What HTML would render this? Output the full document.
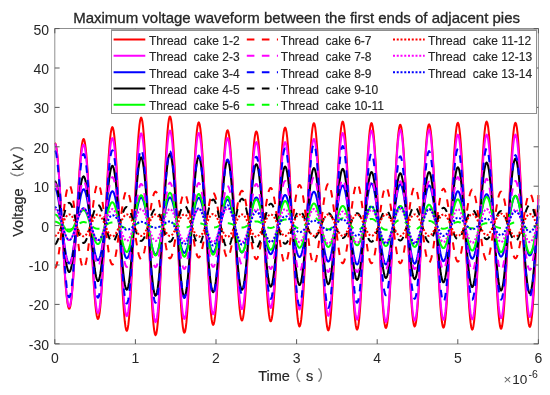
<!DOCTYPE html>
<html><head><meta charset="utf-8"><title>Maximum voltage waveform</title><style>
html,body{margin:0;padding:0;background:#fff;width:550px;height:395px;overflow:hidden}
svg{display:block}
text{font-family:"Liberation Sans","Noto Sans CJK SC",sans-serif;fill:#262626;white-space:pre}
</style></head><body>
<svg width="550" height="395" viewBox="0 0 550 395">
<rect width="550" height="395" fill="#fff"/>
<g fill="none" stroke-linejoin="round">
<path d="M54.80,142.86 L55.50,143.83 L56.20,146.70 L56.90,151.42 L57.60,157.87 L58.30,165.90 L59.00,175.33 L59.70,185.93 L60.40,197.46 L61.10,209.66 L61.80,222.22 L62.50,234.87 L63.20,247.31 L63.90,259.25 L64.60,270.41 L65.30,280.53 L66.00,289.38 L66.70,296.74 L67.40,302.45 L68.10,306.38 L68.80,308.43 L69.19,308.73 L69.50,308.55 L70.20,306.70 L70.90,302.92 L71.60,297.30 L72.30,289.97 L73.00,281.10 L73.70,270.90 L74.40,259.60 L75.10,247.46 L75.80,234.78 L76.50,221.84 L77.20,208.94 L77.90,196.39 L78.60,184.49 L79.30,173.49 L80.00,163.67 L80.70,155.26 L81.40,148.43 L82.10,143.37 L82.80,140.18 L83.50,138.94 L83.59,138.92 L84.20,139.72 L84.90,142.57 L85.60,147.44 L86.30,154.21 L87.00,162.72 L87.70,172.77 L88.40,184.13 L89.10,196.54 L89.80,209.70 L90.50,223.30 L91.20,237.04 L91.90,250.59 L92.60,263.64 L93.30,275.88 L94.00,287.02 L94.70,296.82 L95.40,305.03 L96.10,311.47 L96.80,315.98 L97.50,318.47 L97.98,318.98 L98.20,318.87 L98.90,317.07 L99.60,313.08 L100.30,306.99 L101.00,298.95 L101.70,289.14 L102.40,277.78 L103.10,265.16 L103.80,251.55 L104.50,237.28 L105.20,222.67 L105.90,208.08 L106.60,193.83 L107.30,180.26 L108.00,167.69 L108.70,156.41 L109.40,146.68 L110.10,138.73 L110.80,132.75 L111.50,128.86 L112.20,127.17 L112.38,127.10 L112.90,127.76 L113.60,130.69 L114.30,135.91 L115.00,143.30 L115.70,152.69 L116.40,163.85 L117.10,176.52 L117.80,190.42 L118.50,205.22 L119.20,220.57 L119.90,236.11 L120.60,251.49 L121.30,266.34 L122.00,280.32 L122.70,293.11 L123.40,304.40 L124.10,313.93 L124.80,321.48 L125.50,326.88 L126.20,330.00 L126.78,330.80 L126.90,330.76 L127.60,329.08 L128.30,324.95 L129.00,318.48 L129.70,309.81 L130.40,299.15 L131.10,286.74 L131.80,272.88 L132.50,257.88 L133.20,242.10 L133.90,225.91 L134.60,209.67 L135.30,193.77 L136.00,178.59 L136.70,164.46 L137.40,151.73 L138.10,140.68 L138.80,131.59 L139.50,124.64 L140.20,120.02 L140.90,117.83 L141.17,117.64 L141.60,118.12 L142.30,120.93 L143.00,126.20 L143.70,133.80 L144.40,143.56 L145.10,155.25 L145.80,168.59 L146.50,183.28 L147.20,198.98 L147.90,215.31 L148.60,231.90 L149.30,248.37 L150.00,264.32 L150.70,279.38 L151.40,293.22 L152.10,305.49 L152.80,315.93 L153.50,324.27 L154.20,330.34 L154.90,333.99 L155.56,335.13 L155.60,335.13 L156.30,333.73 L157.00,329.81 L157.70,323.48 L158.40,314.86 L159.10,304.18 L159.80,291.66 L160.50,277.62 L161.20,262.36 L161.90,246.26 L162.60,229.67 L163.30,213.00 L164.00,196.63 L164.70,180.93 L165.40,166.28 L166.10,153.02 L166.80,141.45 L167.50,131.84 L168.20,124.43 L168.90,119.37 L169.60,116.80 L169.96,116.46 L170.30,116.76 L171.00,119.24 L171.70,124.17 L172.40,131.44 L173.10,140.88 L173.80,152.27 L174.50,165.35 L175.20,179.80 L175.90,195.30 L176.60,211.49 L177.30,227.98 L178.00,244.39 L178.70,260.34 L179.40,275.46 L180.10,289.39 L180.80,301.82 L181.50,312.44 L182.20,321.03 L182.90,327.36 L183.60,331.30 L184.30,332.76 L184.35,332.77 L185.00,331.73 L185.70,328.27 L186.40,322.46 L187.10,314.45 L187.80,304.41 L188.50,292.58 L189.20,279.24 L189.90,264.69 L190.60,249.28 L191.30,233.36 L192.00,217.31 L192.70,201.50 L193.40,186.29 L194.10,172.05 L194.80,159.10 L195.50,147.74 L196.20,138.25 L196.90,130.83 L197.60,125.67 L198.30,122.88 L198.75,122.37 L199.00,122.52 L199.70,124.54 L200.40,128.87 L201.10,135.40 L201.80,143.99 L202.50,154.43 L203.20,166.49 L203.90,179.87 L204.60,194.28 L205.30,209.37 L206.00,224.79 L206.70,240.18 L207.40,255.19 L208.10,269.47 L208.80,282.67 L209.50,294.50 L210.20,304.68 L210.90,312.98 L211.60,319.19 L212.30,323.17 L213.00,324.84 L213.15,324.89 L213.70,324.17 L214.40,321.26 L215.10,316.16 L215.80,309.00 L216.50,299.95 L217.20,289.20 L217.90,277.02 L218.60,263.69 L219.30,249.52 L220.00,234.84 L220.70,219.98 L221.40,205.31 L222.10,191.15 L222.80,177.84 L223.50,165.69 L224.20,154.98 L224.90,145.96 L225.60,138.85 L226.30,133.79 L227.00,130.93 L227.54,130.25 L227.70,130.31 L228.40,131.92 L229.10,135.71 L229.80,141.59 L230.50,149.42 L231.20,159.03 L231.90,170.17 L232.60,182.61 L233.30,196.04 L234.00,210.15 L234.70,224.62 L235.40,239.11 L236.10,253.28 L236.80,266.80 L237.50,279.36 L238.20,290.65 L238.90,300.43 L239.60,308.46 L240.30,314.56 L241.00,318.58 L241.70,320.43 L241.94,320.55 L242.40,320.07 L243.10,317.51 L243.80,312.83 L244.50,306.12 L245.20,297.55 L245.90,287.31 L246.60,275.64 L247.30,262.81 L248.00,249.13 L248.70,234.91 L249.40,220.48 L250.10,206.18 L250.80,192.34 L251.50,179.28 L252.20,167.31 L252.90,156.71 L253.60,147.73 L254.30,140.56 L255.00,135.39 L255.70,132.33 L256.33,131.43 L256.40,131.45 L257.10,132.77 L257.80,136.28 L258.50,141.88 L259.20,149.46 L259.90,158.83 L260.60,169.77 L261.30,182.02 L262.00,195.32 L262.70,209.33 L263.40,223.75 L264.10,238.22 L264.80,252.42 L265.50,266.01 L266.20,278.68 L266.90,290.13 L267.60,300.10 L268.30,308.35 L269.00,314.69 L269.70,318.98 L270.40,321.10 L270.73,321.34 L271.10,321.02 L271.80,318.69 L272.50,314.16 L273.20,307.54 L273.90,298.99 L274.60,288.70 L275.30,276.91 L276.00,263.90 L276.70,249.97 L277.40,235.45 L278.10,220.66 L278.80,205.97 L279.50,191.70 L280.20,178.20 L280.90,165.78 L281.60,154.71 L282.30,145.28 L283.00,137.68 L283.70,132.11 L284.40,128.69 L285.10,127.49 L285.12,127.49 L285.80,128.59 L286.50,131.97 L287.20,137.57 L287.90,145.25 L288.60,154.83 L289.30,166.10 L290.00,178.78 L290.70,192.59 L291.40,207.19 L292.10,222.26 L292.80,237.44 L293.50,252.37 L294.20,266.71 L294.90,280.13 L295.60,292.31 L296.30,302.96 L297.00,311.85 L297.70,318.76 L298.40,323.53 L299.10,326.06 L299.51,326.46 L299.80,326.27 L300.50,324.12 L301.20,319.67 L301.90,313.00 L302.60,304.28 L303.30,293.71 L304.00,281.53 L304.70,268.04 L305.40,253.53 L306.10,238.36 L306.80,222.87 L307.50,207.43 L308.20,192.39 L308.90,178.11 L309.60,164.91 L310.30,153.11 L311.00,142.98 L311.70,134.76 L312.40,128.63 L313.10,124.74 L313.80,123.19 L313.91,123.16 L314.50,124.02 L315.20,127.24 L315.90,132.78 L316.60,140.51 L317.30,150.25 L318.00,161.77 L318.70,174.81 L319.40,189.05 L320.10,204.18 L320.80,219.83 L321.50,235.65 L322.20,251.26 L322.90,266.29 L323.60,280.41 L324.30,293.28 L325.00,304.60 L325.70,314.10 L326.40,321.58 L327.10,326.84 L327.80,329.78 L328.31,330.40 L328.50,330.31 L329.20,328.42 L329.90,324.14 L330.60,317.58 L331.30,308.88 L332.00,298.26 L332.70,285.95 L333.40,272.24 L334.10,257.46 L334.80,241.94 L335.50,226.05 L336.20,210.16 L336.90,194.64 L337.60,179.85 L338.30,166.14 L339.00,153.81 L339.70,143.17 L340.40,134.46 L341.10,127.89 L341.80,123.59 L342.50,121.68 L342.70,121.58 L343.20,122.20 L343.90,125.13 L344.60,130.40 L345.30,137.88 L346.00,147.41 L346.70,158.76 L347.40,171.67 L348.10,185.83 L348.80,200.92 L349.50,216.59 L350.20,232.46 L350.90,248.18 L351.60,263.36 L352.30,277.67 L353.00,290.77 L353.70,302.35 L354.40,312.14 L355.10,319.91 L355.80,325.49 L356.50,328.74 L357.10,329.62 L357.20,329.59 L357.90,328.03 L358.60,324.10 L359.30,317.89 L360.00,309.56 L360.70,299.28 L361.40,287.31 L362.10,273.92 L362.80,259.42 L363.50,244.15 L364.20,228.47 L364.90,212.74 L365.60,197.33 L366.30,182.59 L367.00,168.88 L367.70,156.50 L368.40,145.76 L369.10,136.89 L369.80,130.10 L370.50,125.56 L371.20,123.37 L371.49,123.16 L371.90,123.57 L372.60,126.15 L373.30,131.05 L374.00,138.15 L374.70,147.29 L375.40,158.25 L376.10,170.78 L376.80,184.59 L377.50,199.35 L378.20,214.72 L378.90,230.35 L379.60,245.87 L380.30,260.91 L381.00,275.13 L381.70,288.20 L382.40,299.81 L383.10,309.69 L383.80,317.62 L384.50,323.40 L385.20,326.90 L385.88,328.04 L385.90,328.04 L386.60,326.80 L387.30,323.23 L388.00,317.40 L388.70,309.45 L389.40,299.57 L390.10,287.98 L390.80,274.96 L391.50,260.80 L392.20,245.85 L392.90,230.44 L393.60,214.93 L394.30,199.69 L395.00,185.08 L395.70,171.43 L396.40,159.05 L397.10,148.25 L397.80,139.27 L398.50,132.31 L399.20,127.55 L399.90,125.09 L400.28,124.74 L400.60,124.98 L401.30,127.22 L402.00,131.76 L402.70,138.48 L403.40,147.23 L404.10,157.80 L404.80,169.96 L405.50,183.41 L406.20,197.84 L406.90,212.92 L407.60,228.30 L408.30,243.61 L409.00,258.50 L409.70,272.63 L410.40,285.66 L411.10,297.29 L411.80,307.25 L412.50,315.31 L413.20,321.28 L413.90,325.02 L414.60,326.45 L414.68,326.46 L415.30,325.53 L416.00,322.27 L416.70,316.75 L417.40,309.11 L418.10,299.52 L418.80,288.20 L419.50,275.42 L420.20,261.48 L420.90,246.69 L421.60,231.41 L422.30,215.99 L423.00,200.79 L423.70,186.16 L424.40,172.44 L425.10,159.96 L425.80,149.00 L426.50,139.83 L427.20,132.64 L427.90,127.62 L428.60,124.87 L429.07,124.34 L429.30,124.47 L430.00,126.43 L430.70,130.71 L431.40,137.20 L432.10,145.77 L432.80,156.20 L433.50,168.26 L434.20,181.67 L434.90,196.10 L435.60,211.24 L436.30,226.71 L437.00,242.18 L437.70,257.26 L438.40,271.61 L439.10,284.91 L439.80,296.83 L440.50,307.10 L441.20,315.48 L441.90,321.77 L442.60,325.84 L443.30,327.58 L443.46,327.65 L444.00,326.95 L444.70,323.95 L445.40,318.65 L446.10,311.17 L446.80,301.69 L447.50,290.43 L448.20,277.65 L448.90,263.65 L449.60,248.75 L450.30,233.30 L451.00,217.67 L451.70,202.21 L452.40,187.29 L453.10,173.25 L453.80,160.42 L454.50,149.10 L455.20,139.55 L455.90,132.00 L456.60,126.61 L457.30,123.53 L457.86,122.77 L458.00,122.81 L458.70,124.50 L459.40,128.55 L460.10,134.88 L460.80,143.34 L461.50,153.72 L462.20,165.79 L462.90,179.27 L463.60,193.84 L464.30,209.17 L465.00,224.89 L465.70,240.65 L466.40,256.06 L467.10,270.78 L467.80,284.46 L468.50,296.79 L469.20,307.47 L469.90,316.25 L470.60,322.94 L471.30,327.38 L472.00,329.46 L472.25,329.62 L472.70,329.13 L473.40,326.39 L474.10,321.30 L474.80,313.98 L475.50,304.60 L476.20,293.39 L476.90,280.59 L477.60,266.52 L478.30,251.49 L479.00,235.86 L479.70,219.98 L480.40,204.24 L481.10,189.00 L481.80,174.61 L482.50,161.41 L483.20,149.70 L483.90,139.76 L484.60,131.82 L485.30,126.07 L486.00,122.63 L486.65,121.58 L486.70,121.59 L487.40,122.97 L488.10,126.73 L488.80,132.78 L489.50,140.99 L490.20,151.16 L490.90,163.05 L491.60,176.39 L492.30,190.87 L493.00,206.15 L493.70,221.87 L494.40,237.67 L495.10,253.18 L495.80,268.04 L496.50,281.90 L497.20,294.44 L497.90,305.36 L498.60,314.42 L499.30,321.40 L500.00,326.14 L500.70,328.53 L501.05,328.83 L501.40,328.52 L502.10,326.11 L502.80,321.36 L503.50,314.39 L504.20,305.35 L504.90,294.46 L505.60,281.98 L506.30,268.18 L507.00,253.39 L507.70,237.97 L508.40,222.26 L509.10,206.63 L509.80,191.45 L510.50,177.06 L511.20,163.82 L511.90,152.01 L512.60,141.93 L513.30,133.80 L514.00,127.81 L514.70,124.11 L515.40,122.77 L515.44,122.77 L516.10,123.82 L516.80,127.23 L517.50,132.91 L518.20,140.73 L518.90,150.50 L519.60,162.01 L520.30,174.98 L521.00,189.12 L521.70,204.08 L522.40,219.53 L523.10,235.09 L523.80,250.42 L524.50,265.16 L525.20,278.95 L525.90,291.48 L526.60,302.46 L527.30,311.64 L528.00,318.78 L528.70,323.74 L529.40,326.40 L529.84,326.86 L530.10,326.69 L530.80,324.61 L531.50,320.21 L532.20,313.59 L532.90,304.91 L533.60,294.37 L534.30,282.21 L535.00,268.72 L535.70,254.21 L536.40,239.02 L537.10,223.51 L537.80,208.03 L538.40,195.06" stroke="#ff0000" stroke-width="2.0"/>
<path d="M54.80,143.65 L55.50,144.60 L56.20,147.43 L56.90,152.06 L57.60,158.41 L58.30,166.31 L59.00,175.58 L59.70,186.00 L60.40,197.34 L61.10,209.33 L61.80,221.69 L62.50,234.13 L63.20,246.36 L63.90,258.10 L64.60,269.08 L65.30,279.03 L66.00,287.73 L66.70,294.97 L67.40,300.59 L68.10,304.45 L68.80,306.46 L69.19,306.76 L69.50,306.58 L70.20,304.82 L70.90,301.21 L71.60,295.84 L72.30,288.83 L73.00,280.35 L73.70,270.60 L74.40,259.79 L75.10,248.19 L75.80,236.07 L76.50,223.70 L77.20,211.37 L77.90,199.38 L78.60,187.99 L79.30,177.49 L80.00,168.10 L80.70,160.05 L81.40,153.53 L82.10,148.69 L82.80,145.64 L83.50,144.45 L83.59,144.44 L84.20,145.18 L84.90,147.86 L85.60,152.42 L86.30,158.76 L87.00,166.73 L87.70,176.14 L88.40,186.78 L89.10,198.40 L89.80,210.72 L90.50,223.47 L91.20,236.33 L91.90,249.02 L92.60,261.24 L93.30,272.70 L94.00,283.14 L94.70,292.31 L95.40,300.00 L96.10,306.03 L96.80,310.26 L97.50,312.60 L97.98,313.07 L98.20,312.97 L98.90,311.33 L99.60,307.69 L100.30,302.14 L101.00,294.81 L101.70,285.86 L102.40,275.51 L103.10,264.00 L103.80,251.59 L104.50,238.58 L105.20,225.27 L105.90,211.96 L106.60,198.97 L107.30,186.60 L108.00,175.14 L108.70,164.86 L109.40,155.99 L110.10,148.74 L110.80,143.28 L111.50,139.74 L112.20,138.20 L112.38,138.13 L112.90,138.70 L113.60,141.27 L114.30,145.84 L115.00,152.30 L115.70,160.50 L116.40,170.26 L117.10,181.34 L117.80,193.49 L118.50,206.43 L119.20,219.85 L119.90,233.44 L120.60,246.88 L121.30,259.87 L122.00,272.09 L122.70,283.27 L123.40,293.14 L124.10,301.47 L124.80,308.08 L125.50,312.79 L126.20,315.52 L126.78,316.22 L126.90,316.19 L127.60,314.74 L128.30,311.20 L129.00,305.65 L129.70,298.22 L130.40,289.08 L131.10,278.44 L131.80,266.55 L132.50,253.68 L133.20,240.15 L133.90,226.26 L134.60,212.33 L135.30,198.70 L136.00,185.67 L136.70,173.56 L137.40,162.64 L138.10,153.16 L138.80,145.36 L139.50,139.41 L140.20,135.44 L140.90,133.56 L141.17,133.40 L141.60,133.82 L142.30,136.26 L143.00,140.83 L143.70,147.43 L144.40,155.89 L145.10,166.04 L145.80,177.62 L146.50,190.36 L147.20,203.98 L147.90,218.16 L148.60,232.55 L149.30,246.84 L150.00,260.68 L150.70,273.75 L151.40,285.76 L152.10,296.41 L152.80,305.46 L153.50,312.71 L154.20,317.97 L154.90,321.14 L155.56,322.13 L155.60,322.13 L156.30,320.90 L157.00,317.47 L157.70,311.92 L158.40,304.38 L159.10,295.02 L159.80,284.07 L160.50,271.77 L161.20,258.41 L161.90,244.30 L162.60,229.78 L163.30,215.18 L164.00,200.84 L164.70,187.10 L165.40,174.27 L166.10,162.66 L166.80,152.53 L167.50,144.12 L168.20,137.62 L168.90,133.20 L169.60,130.94 L169.96,130.65 L170.30,130.91 L171.00,133.06 L171.70,137.35 L172.40,143.68 L173.10,151.90 L173.80,161.82 L174.50,173.21 L175.20,185.80 L175.90,199.29 L176.60,213.38 L177.30,227.74 L178.00,242.03 L178.70,255.92 L179.40,269.08 L180.10,281.21 L180.80,292.03 L181.50,301.28 L182.20,308.75 L182.90,314.27 L183.60,317.70 L184.30,318.97 L184.35,318.98 L185.00,318.06 L185.70,315.00 L186.40,309.87 L187.10,302.79 L187.80,293.91 L188.50,283.46 L189.20,271.66 L189.90,258.81 L190.60,245.18 L191.30,231.12 L192.00,216.93 L192.70,202.95 L193.40,189.51 L194.10,176.92 L194.80,165.47 L195.50,155.44 L196.20,147.04 L196.90,140.49 L197.60,135.92 L198.30,133.46 L198.75,133.01 L199.00,133.14 L199.70,134.95 L200.40,138.82 L201.10,144.67 L201.80,152.36 L202.50,161.70 L203.20,172.49 L203.90,184.47 L204.60,197.36 L205.30,210.87 L206.00,224.67 L206.70,238.45 L207.40,251.88 L208.10,264.65 L208.80,276.47 L209.50,287.06 L210.20,296.17 L210.90,303.59 L211.60,309.15 L212.30,312.71 L213.00,314.20 L213.15,314.25 L213.70,313.60 L214.40,310.97 L215.10,306.36 L215.80,299.88 L216.50,291.68 L217.20,281.96 L217.90,270.94 L218.60,258.88 L219.30,246.05 L220.00,232.77 L220.70,219.33 L221.40,206.05 L222.10,193.24 L222.80,181.19 L223.50,170.20 L224.20,160.51 L224.90,152.35 L225.60,145.91 L226.30,141.34 L227.00,138.74 L227.54,138.13 L227.70,138.18 L228.40,139.63 L229.10,143.04 L229.80,148.32 L230.50,155.36 L231.20,163.99 L231.90,174.00 L232.60,185.18 L233.30,197.25 L234.00,209.93 L234.70,222.93 L235.40,235.95 L236.10,248.68 L236.80,260.83 L237.50,272.11 L238.20,282.26 L238.90,291.05 L239.60,298.26 L240.30,303.74 L241.00,307.35 L241.70,309.02 L241.94,309.13 L242.40,308.70 L243.10,306.44 L243.80,302.30 L244.50,296.38 L245.20,288.80 L245.90,279.76 L246.60,269.45 L247.30,258.12 L248.00,246.04 L248.70,233.47 L249.40,220.73 L250.10,208.09 L250.80,195.87 L251.50,184.34 L252.20,173.77 L252.90,164.40 L253.60,156.46 L254.30,150.14 L255.00,145.57 L255.70,142.86 L256.33,142.07 L256.40,142.08 L257.10,143.24 L257.80,146.30 L258.50,151.20 L259.20,157.82 L259.90,166.00 L260.60,175.55 L261.30,186.26 L262.00,197.87 L262.70,210.11 L263.40,222.70 L264.10,235.34 L264.80,247.75 L265.50,259.62 L266.20,270.69 L266.90,280.69 L267.60,289.39 L268.30,296.60 L269.00,302.14 L269.70,305.88 L270.40,307.74 L270.73,307.95 L271.10,307.67 L271.80,305.67 L272.50,301.80 L273.20,296.14 L273.90,288.82 L274.60,280.01 L275.30,269.93 L276.00,258.79 L276.70,246.88 L277.40,234.45 L278.10,221.80 L278.80,209.22 L279.50,197.02 L280.20,185.46 L280.90,174.83 L281.60,165.36 L282.30,157.29 L283.00,150.79 L283.70,146.02 L284.40,143.09 L285.10,142.07 L285.12,142.07 L285.80,142.99 L286.50,145.84 L287.20,150.55 L287.90,157.01 L288.60,165.08 L289.30,174.56 L290.00,185.23 L290.70,196.85 L291.40,209.14 L292.10,221.82 L292.80,234.60 L293.50,247.16 L294.20,259.24 L294.90,270.53 L295.60,280.78 L296.30,289.74 L297.00,297.22 L297.70,303.04 L298.40,307.06 L299.10,309.18 L299.51,309.52 L299.80,309.36 L300.50,307.56 L301.20,303.82 L301.90,298.23 L302.60,290.91 L303.30,282.04 L304.00,271.82 L304.70,260.49 L305.40,248.32 L306.10,235.59 L306.80,222.59 L307.50,209.63 L308.20,197.01 L308.90,185.03 L309.60,173.95 L310.30,164.05 L311.00,155.55 L311.70,148.65 L312.40,143.51 L313.10,140.25 L313.80,138.94 L313.91,138.92 L314.50,139.65 L315.20,142.40 L315.90,147.13 L316.60,153.73 L317.30,162.04 L318.00,171.88 L318.70,183.01 L319.40,195.17 L320.10,208.08 L320.80,221.44 L321.50,234.94 L322.20,248.26 L322.90,261.10 L323.60,273.15 L324.30,284.13 L325.00,293.80 L325.70,301.91 L326.40,308.29 L327.10,312.78 L327.80,315.29 L328.31,315.83 L328.50,315.74 L329.20,314.09 L329.90,310.34 L330.60,304.60 L331.30,296.98 L332.00,287.68 L332.70,276.90 L333.40,264.90 L334.10,251.96 L334.80,238.38 L335.50,224.47 L336.20,210.56 L336.90,196.97 L337.60,184.02 L338.30,172.01 L339.00,161.23 L339.70,151.91 L340.40,144.29 L341.10,138.53 L341.80,134.77 L342.50,133.10 L342.70,133.01 L343.20,133.57 L343.90,136.19 L344.60,140.92 L345.30,147.64 L346.00,156.20 L346.70,166.39 L347.40,177.97 L348.10,190.69 L348.80,204.24 L349.50,218.30 L350.20,232.55 L350.90,246.66 L351.60,260.29 L352.30,273.14 L353.00,284.89 L353.70,295.29 L354.40,304.07 L355.10,311.05 L355.80,316.06 L356.50,318.98 L357.10,319.77 L357.20,319.74 L357.90,318.31 L358.60,314.71 L359.30,309.03 L360.00,301.39 L360.70,291.98 L361.40,281.01 L362.10,268.75 L362.80,255.46 L363.50,241.48 L364.20,227.11 L364.90,212.71 L365.60,198.59 L366.30,185.09 L367.00,172.53 L367.70,161.19 L368.40,151.34 L369.10,143.22 L369.80,137.01 L370.50,132.84 L371.20,130.84 L371.49,130.65 L371.90,131.03 L372.60,133.44 L373.30,138.02 L374.00,144.66 L374.70,153.19 L375.40,163.44 L376.10,175.15 L376.80,188.05 L377.50,201.85 L378.20,216.22 L378.90,230.83 L379.60,245.33 L380.30,259.39 L381.00,272.68 L381.70,284.90 L382.40,295.75 L383.10,304.98 L383.80,312.39 L384.50,317.79 L385.20,321.06 L385.88,322.13 L385.90,322.13 L386.60,320.96 L387.30,317.58 L388.00,312.07 L388.70,304.55 L389.40,295.20 L390.10,284.24 L390.80,271.93 L391.50,258.54 L392.20,244.40 L392.90,229.82 L393.60,215.16 L394.30,200.75 L395.00,186.93 L395.70,174.01 L396.40,162.31 L397.10,152.10 L397.80,143.60 L398.50,137.02 L399.20,132.52 L399.90,130.19 L400.28,129.86 L400.60,130.09 L401.30,132.21 L402.00,136.50 L402.70,142.85 L403.40,151.12 L404.10,161.12 L404.80,172.61 L405.50,185.32 L406.20,198.97 L406.90,213.22 L407.60,227.75 L408.30,242.23 L409.00,256.31 L409.70,269.66 L410.40,281.98 L411.10,292.98 L411.80,302.39 L412.50,310.01 L413.20,315.66 L413.90,319.19 L414.60,320.54 L414.68,320.55 L415.30,319.67 L416.00,316.60 L416.70,311.39 L417.40,304.18 L418.10,295.13 L418.80,284.46 L419.50,272.40 L420.20,259.24 L420.90,245.29 L421.60,230.87 L422.30,216.32 L423.00,201.98 L423.70,188.18 L424.40,175.24 L425.10,163.46 L425.80,153.13 L426.50,144.47 L427.20,137.69 L427.90,132.95 L428.60,130.36 L429.07,129.86 L429.30,129.98 L430.00,131.81 L430.70,135.80 L431.40,141.87 L432.10,149.87 L432.80,159.62 L433.50,170.89 L434.20,183.41 L434.90,196.89 L435.60,211.03 L436.30,225.49 L437.00,239.93 L437.70,254.02 L438.40,267.43 L439.10,279.84 L439.80,290.98 L440.50,300.57 L441.20,308.40 L441.90,314.28 L442.60,318.08 L443.30,319.70 L443.46,319.77 L444.00,319.14 L444.70,316.42 L445.40,311.63 L446.10,304.87 L446.80,296.31 L447.50,286.13 L448.20,274.57 L448.90,261.92 L449.60,248.45 L450.30,234.49 L451.00,220.36 L451.70,206.39 L452.40,192.90 L453.10,180.21 L453.80,168.62 L454.50,158.38 L455.20,149.75 L455.90,142.93 L456.60,138.06 L457.30,135.28 L457.86,134.59 L458.00,134.63 L458.70,136.13 L459.40,139.76 L460.10,145.41 L460.80,152.96 L461.50,162.24 L462.20,173.02 L462.90,185.06 L463.60,198.08 L464.30,211.77 L465.00,225.82 L465.70,239.89 L466.40,253.66 L467.10,266.81 L467.80,279.04 L468.50,290.05 L469.20,299.59 L469.90,307.44 L470.60,313.41 L471.30,317.37 L472.00,319.23 L472.25,319.37 L472.70,318.94 L473.40,316.50 L474.10,311.98 L474.80,305.48 L475.50,297.15 L476.20,287.19 L476.90,275.83 L477.60,263.32 L478.30,249.97 L479.00,236.09 L479.70,221.99 L480.40,208.01 L481.10,194.47 L481.80,181.69 L482.50,169.96 L483.20,159.56 L483.90,150.73 L484.60,143.68 L485.30,138.57 L486.00,135.51 L486.65,134.59 L486.70,134.59 L487.40,135.81 L488.10,139.14 L488.80,144.51 L489.50,151.78 L490.20,160.79 L490.90,171.32 L491.60,183.14 L492.30,195.97 L493.00,209.50 L493.70,223.43 L494.40,237.43 L495.10,251.17 L495.80,264.33 L496.50,276.61 L497.20,287.72 L497.90,297.40 L498.60,305.43 L499.30,311.61 L500.00,315.81 L500.70,317.93 L501.05,318.19 L501.40,317.91 L502.10,315.77 L502.80,311.54 L503.50,305.33 L504.20,297.27 L504.90,287.57 L505.60,276.44 L506.30,264.15 L507.00,250.98 L507.70,237.23 L508.40,223.23 L509.10,209.31 L509.80,195.78 L510.50,182.97 L511.20,171.16 L511.90,160.65 L512.60,151.66 L513.30,144.42 L514.00,139.08 L514.70,135.78 L515.40,134.59 L515.44,134.59 L516.10,135.53 L516.80,138.57 L517.50,143.65 L518.20,150.64 L518.90,159.38 L519.60,169.66 L520.30,181.26 L521.00,193.89 L521.70,207.26 L522.40,221.07 L523.10,234.99 L523.80,248.69 L524.50,261.86 L525.20,274.19 L525.90,285.39 L526.60,295.20 L527.30,303.40 L528.00,309.79 L528.70,314.22 L529.40,316.60 L529.84,317.01 L530.10,316.86 L530.80,314.99 L531.50,311.05 L532.20,305.13 L532.90,297.35 L533.60,287.91 L534.30,277.02 L535.00,264.94 L535.70,251.95 L536.40,238.35 L537.10,224.45 L537.80,210.59 L538.40,198.98" stroke="#ff00ff" stroke-width="2.0"/>
<path d="M54.80,188.37 L55.50,188.80 L56.20,190.11 L56.90,192.24 L57.60,195.16 L58.30,198.79 L59.00,203.06 L59.70,207.86 L60.40,213.07 L61.10,218.59 L61.80,224.28 L62.50,230.00 L63.20,235.63 L63.90,241.03 L64.60,246.08 L65.30,250.66 L66.00,254.66 L66.70,258.00 L67.40,260.58 L68.10,262.36 L68.80,263.28 L69.19,263.42 L69.50,263.34 L70.20,262.53 L70.90,260.88 L71.60,258.43 L72.30,255.22 L73.00,251.35 L73.70,246.88 L74.40,241.94 L75.10,236.64 L75.80,231.10 L76.50,225.44 L77.20,219.80 L77.90,214.32 L78.60,209.11 L79.30,204.31 L80.00,200.02 L80.70,196.34 L81.40,193.35 L82.10,191.14 L82.80,189.74 L83.50,189.20 L83.59,189.19 L84.20,189.51 L84.90,190.64 L85.60,192.56 L86.30,195.23 L87.00,198.59 L87.70,202.56 L88.40,207.04 L89.10,211.94 L89.80,217.13 L90.50,222.50 L91.20,227.93 L91.90,233.28 L92.60,238.43 L93.30,243.26 L94.00,247.66 L94.70,251.52 L95.40,254.76 L96.10,257.31 L96.80,259.09 L97.50,260.07 L97.98,260.27 L98.20,260.23 L98.90,259.59 L99.60,258.15 L100.30,255.96 L101.00,253.07 L101.70,249.54 L102.40,245.45 L103.10,240.91 L103.80,236.01 L104.50,230.88 L105.20,225.63 L105.90,220.38 L106.60,215.25 L107.30,210.37 L108.00,205.85 L108.70,201.79 L109.40,198.29 L110.10,195.43 L110.80,193.27 L111.50,191.88 L112.20,191.27 L112.38,191.24 L112.90,191.46 L113.60,192.42 L114.30,194.14 L115.00,196.58 L115.70,199.67 L116.40,203.34 L117.10,207.51 L117.80,212.09 L118.50,216.96 L119.20,222.01 L119.90,227.13 L120.60,232.19 L121.30,237.08 L122.00,241.68 L122.70,245.89 L123.40,249.61 L124.10,252.75 L124.80,255.24 L125.50,257.01 L126.20,258.04 L126.78,258.30 L126.90,258.29 L127.60,257.81 L128.30,256.63 L129.00,254.79 L129.70,252.31 L130.40,249.27 L131.10,245.73 L131.80,241.77 L132.50,237.49 L133.20,232.99 L133.90,228.37 L134.60,223.73 L135.30,219.20 L136.00,214.86 L136.70,210.83 L137.40,207.20 L138.10,204.04 L138.80,201.45 L139.50,199.47 L140.20,198.15 L140.90,197.52 L141.17,197.47 L141.60,197.59 L142.30,198.33 L143.00,199.71 L143.70,201.71 L144.40,204.27 L145.10,207.34 L145.80,210.84 L146.50,214.70 L147.20,218.82 L147.90,223.11 L148.60,227.46 L149.30,231.78 L150.00,235.97 L150.70,239.93 L151.40,243.56 L152.10,246.78 L152.80,249.52 L153.50,251.71 L154.20,253.30 L154.90,254.26 L155.56,254.56 L155.60,254.56 L156.30,254.19 L157.00,253.17 L157.70,251.52 L158.40,249.27 L159.10,246.48 L159.80,243.21 L160.50,239.54 L161.20,235.56 L161.90,231.36 L162.60,227.03 L163.30,222.67 L164.00,218.40 L164.70,214.30 L165.40,210.48 L166.10,207.01 L166.80,203.99 L167.50,201.48 L168.20,199.55 L168.90,198.23 L169.60,197.56 L169.96,197.47 L170.30,197.54 L171.00,198.18 L171.70,199.44 L172.40,201.31 L173.10,203.73 L173.80,206.65 L174.50,210.00 L175.20,213.70 L175.90,217.67 L176.60,221.82 L177.30,226.05 L178.00,230.25 L178.70,234.34 L179.40,238.22 L180.10,241.79 L180.80,244.97 L181.50,247.70 L182.20,249.89 L182.90,251.52 L183.60,252.53 L184.30,252.90 L184.35,252.90 L185.00,252.63 L185.70,251.73 L186.40,250.21 L187.10,248.11 L187.80,245.49 L188.50,242.39 L189.20,238.90 L189.90,235.09 L190.60,231.06 L191.30,226.90 L192.00,222.70 L192.70,218.56 L193.40,214.59 L194.10,210.86 L194.80,207.47 L195.50,204.50 L196.20,202.02 L196.90,200.08 L197.60,198.72 L198.30,198.00 L198.75,197.86 L199.00,197.90 L199.70,198.44 L200.40,199.60 L201.10,201.35 L201.80,203.65 L202.50,206.44 L203.20,209.67 L203.90,213.26 L204.60,217.11 L205.30,221.15 L206.00,225.28 L206.70,229.40 L207.40,233.42 L208.10,237.24 L208.80,240.78 L209.50,243.94 L210.20,246.67 L210.90,248.89 L211.60,250.55 L212.30,251.62 L213.00,252.06 L213.15,252.08 L213.70,251.88 L214.40,251.10 L215.10,249.72 L215.80,247.79 L216.50,245.34 L217.20,242.44 L217.90,239.15 L218.60,235.55 L219.30,231.72 L220.00,227.76 L220.70,223.75 L221.40,219.79 L222.10,215.96 L222.80,212.37 L223.50,209.09 L224.20,206.20 L224.90,203.76 L225.60,201.84 L226.30,200.47 L227.00,199.70 L227.54,199.52 L227.70,199.53 L228.40,199.98 L229.10,201.04 L229.80,202.68 L230.50,204.86 L231.20,207.53 L231.90,210.63 L232.60,214.10 L233.30,217.84 L234.00,221.77 L234.70,225.80 L235.40,229.83 L236.10,233.78 L236.80,237.54 L237.50,241.04 L238.20,244.18 L238.90,246.91 L239.60,249.14 L240.30,250.84 L241.00,251.96 L241.70,252.48 L241.94,252.51 L242.40,252.37 L243.10,251.63 L243.80,250.26 L244.50,248.31 L245.20,245.81 L245.90,242.83 L246.60,239.44 L247.30,235.70 L248.00,231.72 L248.70,227.58 L249.40,223.38 L250.10,219.22 L250.80,215.19 L251.50,211.39 L252.20,207.91 L252.90,204.83 L253.60,202.21 L254.30,200.13 L255.00,198.62 L255.70,197.73 L256.33,197.47 L256.40,197.47 L257.10,197.87 L257.80,198.91 L258.50,200.59 L259.20,202.85 L259.90,205.65 L260.60,208.91 L261.30,212.57 L262.00,216.54 L262.70,220.72 L263.40,225.03 L264.10,229.35 L264.80,233.59 L265.50,237.65 L266.20,241.43 L266.90,244.85 L267.60,247.82 L268.30,250.29 L269.00,252.18 L269.70,253.46 L270.40,254.09 L270.73,254.16 L271.10,254.07 L271.80,253.35 L272.50,251.97 L273.20,249.95 L273.90,247.34 L274.60,244.20 L275.30,240.60 L276.00,236.63 L276.70,232.38 L277.40,227.94 L278.10,223.43 L278.80,218.94 L279.50,214.59 L280.20,210.47 L280.90,206.67 L281.60,203.30 L282.30,200.42 L283.00,198.10 L283.70,196.40 L284.40,195.35 L285.10,194.99 L285.12,194.99 L285.80,195.33 L286.50,196.38 L287.20,198.13 L287.90,200.52 L288.60,203.51 L289.30,207.03 L290.00,210.98 L290.70,215.29 L291.40,219.84 L292.10,224.54 L292.80,229.27 L293.50,233.93 L294.20,238.41 L294.90,242.59 L295.60,246.39 L296.30,249.71 L297.00,252.48 L297.70,254.64 L298.40,256.13 L299.10,256.91 L299.51,257.04 L299.80,256.98 L300.50,256.29 L301.20,254.86 L301.90,252.71 L302.60,249.91 L303.30,246.51 L304.00,242.60 L304.70,238.26 L305.40,233.59 L306.10,228.71 L306.80,223.73 L307.50,218.77 L308.20,213.93 L308.90,209.34 L309.60,205.10 L310.30,201.31 L311.00,198.05 L311.70,195.40 L312.40,193.44 L313.10,192.19 L313.80,191.69 L313.91,191.68 L314.50,191.97 L315.20,193.05 L315.90,194.92 L316.60,197.53 L317.30,200.81 L318.00,204.70 L318.70,209.10 L319.40,213.90 L320.10,219.00 L320.80,224.28 L321.50,229.61 L322.20,234.88 L322.90,239.95 L323.60,244.71 L324.30,249.05 L325.00,252.87 L325.70,256.07 L326.40,258.60 L327.10,260.37 L327.80,261.36 L328.31,261.57 L328.50,261.54 L329.20,260.85 L329.90,259.29 L330.60,256.90 L331.30,253.73 L332.00,249.85 L332.70,245.37 L333.40,240.37 L334.10,234.98 L334.80,229.32 L335.50,223.53 L336.20,217.74 L336.90,212.08 L337.60,206.69 L338.30,201.69 L339.00,197.20 L339.70,193.32 L340.40,190.15 L341.10,187.75 L341.80,186.18 L342.50,185.49 L342.70,185.45 L343.20,185.69 L343.90,186.80 L344.60,188.80 L345.30,191.64 L346.00,195.26 L346.70,199.58 L347.40,204.48 L348.10,209.86 L348.80,215.59 L349.50,221.55 L350.20,227.58 L350.90,233.55 L351.60,239.32 L352.30,244.75 L353.00,249.73 L353.70,254.13 L354.40,257.85 L355.10,260.80 L355.80,262.92 L356.50,264.16 L357.10,264.49 L357.20,264.48 L357.90,263.86 L358.60,262.32 L359.30,259.88 L360.00,256.61 L360.70,252.57 L361.40,247.87 L362.10,242.61 L362.80,236.92 L363.50,230.92 L364.20,224.76 L364.90,218.59 L365.60,212.53 L366.30,206.75 L367.00,201.36 L367.70,196.50 L368.40,192.28 L369.10,188.79 L369.80,186.13 L370.50,184.35 L371.20,183.48 L371.49,183.40 L371.90,183.56 L372.60,184.59 L373.30,186.52 L374.00,189.33 L374.70,192.95 L375.40,197.29 L376.10,202.25 L376.80,207.71 L377.50,213.56 L378.20,219.64 L378.90,225.82 L379.60,231.97 L380.30,237.92 L381.00,243.55 L381.70,248.72 L382.40,253.32 L383.10,257.23 L383.80,260.36 L384.50,262.65 L385.20,264.04 L385.88,264.49 L385.90,264.49 L386.60,264.00 L387.30,262.59 L388.00,260.29 L388.70,257.15 L389.40,253.25 L390.10,248.67 L390.80,243.53 L391.50,237.94 L392.20,232.04 L392.90,225.96 L393.60,219.84 L394.30,213.82 L395.00,208.05 L395.70,202.66 L396.40,197.78 L397.10,193.51 L397.80,189.97 L398.50,187.22 L399.20,185.34 L399.90,184.37 L400.28,184.23 L400.60,184.33 L401.30,185.21 L402.00,187.00 L402.70,189.64 L403.40,193.09 L404.10,197.25 L404.80,202.04 L405.50,207.33 L406.20,213.02 L406.90,218.95 L407.60,225.01 L408.30,231.04 L409.00,236.90 L409.70,242.46 L410.40,247.59 L411.10,252.17 L411.80,256.10 L412.50,259.27 L413.20,261.62 L413.90,263.09 L414.60,263.66 L414.68,263.66 L415.30,263.30 L416.00,262.04 L416.70,259.90 L417.40,256.95 L418.10,253.24 L418.80,248.86 L419.50,243.91 L420.20,238.51 L420.90,232.79 L421.60,226.88 L422.30,220.91 L423.00,215.03 L423.70,209.37 L424.40,204.06 L425.10,199.23 L425.80,194.99 L426.50,191.44 L427.20,188.66 L427.90,186.72 L428.60,185.66 L429.07,185.45 L429.30,185.50 L430.00,186.23 L430.70,187.82 L431.40,190.24 L432.10,193.43 L432.80,197.32 L433.50,201.81 L434.20,206.80 L434.90,212.18 L435.60,217.82 L436.30,223.58 L437.00,229.34 L437.70,234.96 L438.40,240.31 L439.10,245.26 L439.80,249.70 L440.50,253.52 L441.20,256.65 L441.90,258.99 L442.60,260.51 L443.30,261.15 L443.46,261.18 L444.00,260.94 L444.70,259.92 L445.40,258.11 L446.10,255.55 L446.80,252.32 L447.50,248.47 L448.20,244.11 L448.90,239.33 L449.60,234.25 L450.30,228.97 L451.00,223.64 L451.70,218.36 L452.40,213.27 L453.10,208.47 L453.80,204.09 L454.50,200.23 L455.20,196.97 L455.90,194.39 L456.60,192.56 L457.30,191.50 L457.86,191.24 L458.00,191.26 L458.70,191.81 L459.40,193.13 L460.10,195.19 L460.80,197.95 L461.50,201.34 L462.20,205.27 L462.90,209.67 L463.60,214.42 L464.30,219.42 L465.00,224.55 L465.70,229.68 L466.40,234.71 L467.10,239.51 L467.80,243.97 L468.50,247.99 L469.20,251.47 L469.90,254.34 L470.60,256.52 L471.30,257.97 L472.00,258.64 L472.25,258.70 L472.70,258.54 L473.40,257.69 L474.10,256.12 L474.80,253.85 L475.50,250.94 L476.20,247.46 L476.90,243.49 L477.60,239.12 L478.30,234.46 L479.00,229.61 L479.70,224.69 L480.40,219.80 L481.10,215.07 L481.80,210.61 L482.50,206.51 L483.20,202.88 L483.90,199.80 L484.60,197.33 L485.30,195.55 L486.00,194.48 L486.65,194.16 L486.70,194.16 L487.40,194.58 L488.10,195.71 L488.80,197.54 L489.50,200.01 L490.20,203.08 L490.90,206.66 L491.60,210.68 L492.30,215.05 L493.00,219.66 L493.70,224.40 L494.40,229.16 L495.10,233.84 L495.80,238.32 L496.50,242.50 L497.20,246.28 L497.90,249.57 L498.60,252.30 L499.30,254.41 L500.00,255.84 L500.70,256.56 L501.05,256.65 L501.40,256.56 L502.10,255.84 L502.80,254.44 L503.50,252.38 L504.20,249.72 L504.90,246.50 L505.60,242.82 L506.30,238.74 L507.00,234.38 L507.70,229.82 L508.40,225.19 L509.10,220.57 L509.80,216.09 L510.50,211.84 L511.20,207.93 L511.90,204.45 L512.60,201.47 L513.30,199.07 L514.00,197.30 L514.70,196.21 L515.40,195.81 L515.44,195.81 L516.10,196.12 L516.80,197.12 L517.50,198.77 L518.20,201.06 L518.90,203.91 L519.60,207.27 L520.30,211.06 L521.00,215.18 L521.70,219.55 L522.40,224.06 L523.10,228.60 L523.80,233.08 L524.50,237.38 L525.20,241.40 L525.90,245.06 L526.60,248.27 L527.30,250.94 L528.00,253.03 L528.70,254.48 L529.40,255.25 L529.84,255.39 L530.10,255.34 L530.80,254.73 L531.50,253.44 L532.20,251.51 L532.90,248.97 L533.60,245.88 L534.30,242.33 L535.00,238.38 L535.70,234.14 L536.40,229.70 L537.10,225.16 L537.80,220.63 L538.40,216.84" stroke="#0000ff" stroke-width="2.0"/>
<path d="M54.80,181.08 L55.50,181.61 L56.20,183.19 L56.90,185.77 L57.60,189.31 L58.30,193.72 L59.00,198.89 L59.70,204.71 L60.40,211.04 L61.10,217.73 L61.80,224.62 L62.50,231.57 L63.20,238.39 L63.90,244.94 L64.60,251.06 L65.30,256.62 L66.00,261.47 L66.70,265.51 L67.40,268.64 L68.10,270.80 L68.80,271.92 L69.19,272.09 L69.50,271.99 L70.20,270.95 L70.90,268.82 L71.60,265.65 L72.30,261.52 L73.00,256.51 L73.70,250.76 L74.40,244.39 L75.10,237.55 L75.80,230.39 L76.50,223.10 L77.20,215.83 L77.90,208.75 L78.60,202.04 L79.30,195.84 L80.00,190.31 L80.70,185.56 L81.40,181.71 L82.10,178.86 L82.80,177.06 L83.50,176.36 L83.59,176.35 L84.20,176.81 L84.90,178.48 L85.60,181.31 L86.30,185.25 L87.00,190.20 L87.70,196.05 L88.40,202.67 L89.10,209.89 L89.80,217.55 L90.50,225.47 L91.20,233.46 L91.90,241.35 L92.60,248.94 L93.30,256.07 L94.00,262.55 L94.70,268.25 L95.40,273.03 L96.10,276.78 L96.80,279.41 L97.50,280.86 L97.98,281.15 L98.20,281.09 L98.90,280.01 L99.60,277.61 L100.30,273.94 L101.00,269.10 L101.70,263.20 L102.40,256.37 L103.10,248.77 L103.80,240.59 L104.50,232.00 L105.20,223.21 L105.90,214.43 L106.60,205.86 L107.30,197.70 L108.00,190.14 L108.70,183.35 L109.40,177.49 L110.10,172.71 L110.80,169.11 L111.50,166.77 L112.20,165.76 L112.38,165.71 L112.90,166.11 L113.60,167.90 L114.30,171.08 L115.00,175.58 L115.70,181.30 L116.40,188.10 L117.10,195.83 L117.80,204.29 L118.50,213.31 L119.20,222.66 L119.90,232.13 L120.60,241.50 L121.30,250.55 L122.00,259.07 L122.70,266.86 L123.40,273.74 L124.10,279.54 L124.80,284.15 L125.50,287.44 L126.20,289.33 L126.78,289.82 L126.90,289.80 L127.60,288.75 L128.30,286.19 L129.00,282.17 L129.70,276.79 L130.40,270.17 L131.10,262.46 L131.80,253.85 L132.50,244.54 L133.20,234.74 L133.90,224.68 L134.60,214.59 L135.30,204.72 L136.00,195.29 L136.70,186.51 L137.40,178.61 L138.10,171.75 L138.80,166.10 L139.50,161.79 L140.20,158.92 L140.90,157.55 L141.17,157.44 L141.60,157.74 L142.30,159.53 L143.00,162.88 L143.70,167.71 L144.40,173.92 L145.10,181.35 L145.80,189.84 L146.50,199.18 L147.20,209.16 L147.90,219.54 L148.60,230.09 L149.30,240.56 L150.00,250.70 L150.70,260.28 L151.40,269.08 L152.10,276.89 L152.80,283.52 L153.50,288.83 L154.20,292.69 L154.90,295.01 L155.56,295.73 L155.60,295.73 L156.30,294.82 L157.00,292.28 L157.70,288.17 L158.40,282.59 L159.10,275.65 L159.80,267.54 L160.50,258.42 L161.20,248.53 L161.90,238.08 L162.60,227.33 L163.30,216.51 L164.00,205.89 L164.70,195.71 L165.40,186.21 L166.10,177.60 L166.80,170.10 L167.50,163.87 L168.20,159.06 L168.90,155.78 L169.60,154.11 L169.96,153.89 L170.30,154.09 L171.00,155.73 L171.70,158.99 L172.40,163.79 L173.10,170.04 L173.80,177.57 L174.50,186.21 L175.20,195.77 L175.90,206.02 L176.60,216.72 L177.30,227.63 L178.00,238.48 L178.70,249.02 L179.40,259.02 L180.10,268.23 L180.80,276.45 L181.50,283.48 L182.20,289.15 L182.90,293.34 L183.60,295.95 L184.30,296.91 L184.35,296.91 L185.00,296.22 L185.70,293.91 L186.40,290.04 L187.10,284.70 L187.80,278.01 L188.50,270.12 L189.20,261.23 L189.90,251.53 L190.60,241.26 L191.30,230.64 L192.00,219.94 L192.70,209.40 L193.40,199.26 L194.10,189.77 L194.80,181.13 L195.50,173.56 L196.20,167.23 L196.90,162.29 L197.60,158.85 L198.30,156.99 L198.75,156.65 L199.00,156.75 L199.70,158.10 L200.40,161.00 L201.10,165.37 L201.80,171.12 L202.50,178.11 L203.20,186.17 L203.90,195.13 L204.60,204.77 L205.30,214.87 L206.00,225.19 L206.70,235.50 L207.40,245.54 L208.10,255.10 L208.80,263.93 L209.50,271.85 L210.20,278.66 L210.90,284.21 L211.60,288.37 L212.30,291.04 L213.00,292.15 L213.15,292.19 L213.70,291.70 L214.40,289.73 L215.10,286.27 L215.80,281.41 L216.50,275.27 L217.20,267.99 L217.90,259.73 L218.60,250.69 L219.30,241.08 L220.00,231.12 L220.70,221.05 L221.40,211.09 L222.10,201.49 L222.80,192.47 L223.50,184.23 L224.20,176.97 L224.90,170.85 L225.60,166.02 L226.30,162.60 L227.00,160.65 L227.54,160.20 L227.70,160.24 L228.40,161.33 L229.10,163.92 L229.80,167.92 L230.50,173.26 L231.20,179.80 L231.90,187.39 L232.60,195.86 L233.30,205.01 L234.00,214.62 L234.70,224.48 L235.40,234.35 L236.10,244.00 L236.80,253.21 L237.50,261.76 L238.20,269.46 L238.90,276.12 L239.60,281.59 L240.30,285.74 L241.00,288.48 L241.70,289.74 L241.94,289.82 L242.40,289.50 L243.10,287.80 L243.80,284.69 L244.50,280.23 L245.20,274.53 L245.90,267.73 L246.60,259.97 L247.30,251.45 L248.00,242.35 L248.70,232.90 L249.40,223.31 L250.10,213.81 L250.80,204.61 L251.50,195.93 L252.20,187.98 L252.90,180.94 L253.60,174.96 L254.30,170.20 L255.00,166.76 L255.70,164.73 L256.33,164.14 L256.40,164.14 L257.10,165.00 L257.80,167.26 L258.50,170.88 L259.20,175.77 L259.90,181.81 L260.60,188.87 L261.30,196.78 L262.00,205.35 L262.70,214.40 L263.40,223.70 L264.10,233.04 L264.80,242.20 L265.50,250.97 L266.20,259.15 L266.90,266.53 L267.60,272.97 L268.30,278.29 L269.00,282.38 L269.70,285.14 L270.40,286.52 L270.73,286.67 L271.10,286.47 L271.80,285.02 L272.50,282.22 L273.20,278.12 L273.90,272.81 L274.60,266.43 L275.30,259.13 L276.00,251.06 L276.70,242.43 L277.40,233.42 L278.10,224.26 L278.80,215.15 L279.50,206.31 L280.20,197.93 L280.90,190.23 L281.60,183.37 L282.30,177.52 L283.00,172.82 L283.70,169.36 L284.40,167.24 L285.10,166.50 L285.12,166.50 L285.80,167.15 L286.50,169.17 L287.20,172.51 L287.90,177.08 L288.60,182.80 L289.30,189.51 L290.00,197.07 L290.70,205.30 L291.40,214.00 L292.10,222.98 L292.80,232.03 L293.50,240.93 L294.20,249.48 L294.90,257.48 L295.60,264.73 L296.30,271.09 L297.00,276.38 L297.70,280.50 L298.40,283.35 L299.10,284.85 L299.51,285.09 L299.80,284.98 L300.50,283.75 L301.20,281.18 L301.90,277.35 L302.60,272.33 L303.30,266.24 L304.00,259.23 L304.70,251.46 L305.40,243.12 L306.10,234.38 L306.80,225.47 L307.50,216.58 L308.20,207.92 L308.90,199.70 L309.60,192.11 L310.30,185.31 L311.00,179.48 L311.70,174.75 L312.40,171.22 L313.10,168.99 L313.80,168.09 L313.91,168.08 L314.50,168.56 L315.20,170.36 L315.90,173.47 L316.60,177.81 L317.30,183.27 L318.00,189.73 L318.70,197.04 L319.40,205.03 L320.10,213.52 L320.80,222.29 L321.50,231.16 L322.20,239.92 L322.90,248.35 L323.60,256.27 L324.30,263.48 L325.00,269.83 L325.70,275.16 L326.40,279.36 L327.10,282.31 L327.80,283.95 L328.31,284.31 L328.50,284.25 L329.20,283.21 L329.90,280.84 L330.60,277.22 L331.30,272.41 L332.00,266.53 L332.70,259.73 L333.40,252.15 L334.10,243.98 L334.80,235.40 L335.50,226.62 L336.20,217.83 L336.90,209.25 L337.60,201.08 L338.30,193.49 L339.00,186.68 L339.70,180.80 L340.40,175.98 L341.10,172.35 L341.80,169.97 L342.50,168.92 L342.70,168.86 L343.20,169.19 L343.90,170.76 L344.60,173.57 L345.30,177.57 L346.00,182.66 L346.70,188.72 L347.40,195.61 L348.10,203.18 L348.80,211.24 L349.50,219.60 L350.20,228.08 L350.90,236.48 L351.60,244.59 L352.30,252.23 L353.00,259.22 L353.70,265.41 L354.40,270.64 L355.10,274.79 L355.80,277.77 L356.50,279.50 L357.10,279.97 L357.20,279.96 L357.90,279.14 L358.60,277.09 L359.30,273.84 L360.00,269.48 L360.70,264.11 L361.40,257.85 L362.10,250.85 L362.80,243.27 L363.50,235.28 L364.20,227.08 L364.90,218.86 L365.60,210.80 L366.30,203.09 L367.00,195.92 L367.70,189.45 L368.40,183.83 L369.10,179.19 L369.80,175.65 L370.50,173.27 L371.20,172.12 L371.49,172.02 L371.90,172.23 L372.60,173.56 L373.30,176.10 L374.00,179.77 L374.70,184.50 L375.40,190.17 L376.10,196.65 L376.80,203.79 L377.50,211.43 L378.20,219.38 L378.90,227.47 L379.60,235.49 L380.30,243.28 L381.00,250.63 L381.70,257.39 L382.40,263.40 L383.10,268.51 L383.80,272.61 L384.50,275.60 L385.20,277.41 L385.88,278.00 L385.90,278.00 L386.60,277.37 L387.30,275.52 L388.00,272.52 L388.70,268.42 L389.40,263.32 L390.10,257.35 L390.80,250.64 L391.50,243.34 L392.20,235.63 L392.90,227.69 L393.60,219.69 L394.30,211.84 L395.00,204.31 L395.70,197.27 L396.40,190.89 L397.10,185.32 L397.80,180.69 L398.50,177.10 L399.20,174.65 L399.90,173.38 L400.28,173.20 L400.60,173.33 L401.30,174.51 L402.00,176.89 L402.70,180.42 L403.40,185.02 L404.10,190.57 L404.80,196.96 L405.50,204.02 L406.20,211.61 L406.90,219.53 L407.60,227.61 L408.30,235.65 L409.00,243.48 L409.70,250.90 L410.40,257.75 L411.10,263.86 L411.80,269.09 L412.50,273.33 L413.20,276.46 L413.90,278.43 L414.60,279.18 L414.68,279.18 L415.30,278.69 L416.00,276.96 L416.70,274.04 L417.40,269.98 L418.10,264.90 L418.80,258.90 L419.50,252.12 L420.20,244.73 L420.90,236.89 L421.60,228.78 L422.30,220.61 L423.00,212.55 L423.70,204.79 L424.40,197.52 L425.10,190.90 L425.80,185.09 L426.50,180.23 L427.20,176.42 L427.90,173.75 L428.60,172.30 L429.07,172.02 L429.30,172.09 L430.00,173.15 L430.70,175.47 L431.40,179.00 L432.10,183.64 L432.80,189.31 L433.50,195.85 L434.20,203.12 L434.90,210.96 L435.60,219.17 L436.30,227.57 L437.00,235.96 L437.70,244.14 L438.40,251.93 L439.10,259.14 L439.80,265.61 L440.50,271.19 L441.20,275.73 L441.90,279.15 L442.60,281.36 L443.30,282.30 L443.46,282.34 L444.00,281.94 L444.70,280.26 L445.40,277.28 L446.10,273.08 L446.80,267.76 L447.50,261.44 L448.20,254.26 L448.90,246.40 L449.60,238.03 L450.30,229.36 L451.00,220.58 L451.70,211.90 L452.40,203.52 L453.10,195.63 L453.80,188.43 L454.50,182.07 L455.20,176.71 L455.90,172.47 L456.60,169.45 L457.30,167.72 L457.86,167.29 L458.00,167.32 L458.70,168.29 L459.40,170.64 L460.10,174.30 L460.80,179.20 L461.50,185.21 L462.20,192.20 L462.90,200.01 L463.60,208.45 L464.30,217.32 L465.00,226.42 L465.70,235.55 L466.40,244.47 L467.10,253.00 L467.80,260.92 L468.50,268.05 L469.20,274.24 L469.90,279.33 L470.60,283.20 L471.30,285.77 L472.00,286.97 L472.25,287.06 L472.70,286.77 L473.40,285.13 L474.10,282.09 L474.80,277.71 L475.50,272.09 L476.20,265.38 L476.90,257.72 L477.60,249.30 L478.30,240.31 L479.00,230.95 L479.70,221.45 L480.40,212.03 L481.10,202.91 L481.80,194.30 L482.50,186.39 L483.20,179.39 L483.90,173.44 L484.60,168.69 L485.30,165.24 L486.00,163.19 L486.65,162.56 L486.70,162.56 L487.40,163.42 L488.10,165.74 L488.80,169.48 L489.50,174.55 L490.20,180.83 L490.90,188.18 L491.60,196.43 L492.30,205.37 L493.00,214.81 L493.70,224.52 L494.40,234.29 L495.10,243.87 L495.80,253.05 L496.50,261.61 L497.20,269.36 L497.90,276.11 L498.60,281.71 L499.30,286.02 L500.00,288.95 L500.70,290.43 L501.05,290.61 L501.40,290.41 L502.10,288.87 L502.80,285.83 L503.50,281.36 L504.20,275.57 L504.90,268.60 L505.60,260.60 L506.30,251.76 L507.00,242.29 L507.70,232.41 L508.40,222.35 L509.10,212.34 L509.80,202.61 L510.50,193.40 L511.20,184.92 L511.90,177.36 L512.60,170.90 L513.30,165.69 L514.00,161.85 L514.70,159.48 L515.40,158.62 L515.44,158.62 L516.10,159.32 L516.80,161.57 L517.50,165.31 L518.20,170.48 L518.90,176.93 L519.60,184.53 L520.30,193.10 L521.00,202.43 L521.70,212.31 L522.40,222.50 L523.10,232.78 L523.80,242.90 L524.50,252.63 L525.20,261.74 L525.90,270.01 L526.60,277.26 L527.30,283.32 L528.00,288.04 L528.70,291.31 L529.40,293.06 L529.84,293.37 L530.10,293.26 L530.80,291.88 L531.50,288.97 L532.20,284.59 L532.90,278.85 L533.60,271.88 L534.30,263.83 L535.00,254.91 L535.70,245.31 L536.40,235.26 L537.10,225.00 L537.80,214.76 L538.40,206.18" stroke="#000000" stroke-width="2.0"/>
<path d="M54.80,214.53 L55.50,214.63 L56.20,214.92 L56.90,215.40 L57.60,216.07 L58.30,216.89 L59.00,217.85 L59.70,218.94 L60.40,220.12 L61.10,221.37 L61.80,222.65 L62.50,223.95 L63.20,225.22 L63.90,226.44 L64.60,227.59 L65.30,228.62 L66.00,229.53 L66.70,230.28 L67.40,230.87 L68.10,231.27 L68.80,231.48 L69.19,231.51 L69.50,231.49 L70.20,231.25 L70.90,230.78 L71.60,230.06 L72.30,229.14 L73.00,228.02 L73.70,226.73 L74.40,225.30 L75.10,223.76 L75.80,222.16 L76.50,220.52 L77.20,218.89 L77.90,217.30 L78.60,215.80 L79.30,214.41 L80.00,213.17 L80.70,212.10 L81.40,211.24 L82.10,210.60 L82.80,210.20 L83.50,210.04 L83.59,210.04 L84.20,210.19 L84.90,210.73 L85.60,211.65 L86.30,212.93 L87.00,214.54 L87.70,216.44 L88.40,218.59 L89.10,220.94 L89.80,223.43 L90.50,226.01 L91.20,228.61 L91.90,231.17 L92.60,233.64 L93.30,235.96 L94.00,238.07 L94.70,239.92 L95.40,241.48 L96.10,242.70 L96.80,243.55 L97.50,244.02 L97.98,244.12 L98.20,244.09 L98.90,243.70 L99.60,242.83 L100.30,241.50 L101.00,239.75 L101.70,237.60 L102.40,235.13 L103.10,232.37 L103.80,229.40 L104.50,226.28 L105.20,223.10 L105.90,219.91 L106.60,216.80 L107.30,213.84 L108.00,211.10 L108.70,208.63 L109.40,206.51 L110.10,204.78 L110.80,203.47 L111.50,202.62 L112.20,202.25 L112.38,202.24 L112.90,202.40 L113.60,203.11 L114.30,204.39 L115.00,206.19 L115.70,208.49 L116.40,211.21 L117.10,214.31 L117.80,217.71 L118.50,221.32 L119.20,225.07 L119.90,228.87 L120.60,232.62 L121.30,236.25 L122.00,239.67 L122.70,242.79 L123.40,245.55 L124.10,247.88 L124.80,249.72 L125.50,251.04 L126.20,251.80 L126.78,252.00 L126.90,251.99 L127.60,251.54 L128.30,250.44 L129.00,248.72 L129.70,246.41 L130.40,243.57 L131.10,240.27 L131.80,236.58 L132.50,232.59 L133.20,228.39 L133.90,224.08 L134.60,219.76 L135.30,215.53 L136.00,211.48 L136.70,207.72 L137.40,204.33 L138.10,201.39 L138.80,198.97 L139.50,197.13 L140.20,195.90 L140.90,195.31 L141.17,195.26 L141.60,195.39 L142.30,196.17 L143.00,197.63 L143.70,199.74 L144.40,202.44 L145.10,205.68 L145.80,209.37 L146.50,213.44 L147.20,217.79 L147.90,222.32 L148.60,226.91 L149.30,231.47 L150.00,235.89 L150.70,240.06 L151.40,243.89 L152.10,247.29 L152.80,250.18 L153.50,252.50 L154.20,254.18 L154.90,255.19 L155.56,255.50 L155.60,255.50 L156.30,255.10 L157.00,253.98 L157.70,252.16 L158.40,249.69 L159.10,246.63 L159.80,243.04 L160.50,239.02 L161.20,234.64 L161.90,230.03 L162.60,225.27 L163.30,220.49 L164.00,215.80 L164.70,211.30 L165.40,207.10 L166.10,203.30 L166.80,199.98 L167.50,197.23 L168.20,195.10 L168.90,193.65 L169.60,192.92 L169.96,192.82 L170.30,192.91 L171.00,193.64 L171.70,195.10 L172.40,197.24 L173.10,200.03 L173.80,203.40 L174.50,207.26 L175.20,211.53 L175.90,216.11 L176.60,220.89 L177.30,225.77 L178.00,230.61 L178.70,235.33 L179.40,239.79 L180.10,243.91 L180.80,247.58 L181.50,250.72 L182.20,253.26 L182.90,255.13 L183.60,256.29 L184.30,256.72 L184.35,256.73 L185.00,256.42 L185.70,255.39 L186.40,253.66 L187.10,251.27 L187.80,248.28 L188.50,244.75 L189.20,240.78 L189.90,236.44 L190.60,231.85 L191.30,227.11 L192.00,222.33 L192.70,217.62 L193.40,213.09 L194.10,208.84 L194.80,204.98 L195.50,201.60 L196.20,198.77 L196.90,196.56 L197.60,195.02 L198.30,194.19 L198.75,194.04 L199.00,194.09 L199.70,194.69 L200.40,195.99 L201.10,197.94 L201.80,200.51 L202.50,203.64 L203.20,207.25 L203.90,211.26 L204.60,215.57 L205.30,220.09 L206.00,224.71 L206.70,229.32 L207.40,233.81 L208.10,238.08 L208.80,242.04 L209.50,245.58 L210.20,248.63 L210.90,251.11 L211.60,252.97 L212.30,254.16 L213.00,254.66 L213.15,254.68 L213.70,254.46 L214.40,253.59 L215.10,252.07 L215.80,249.93 L216.50,247.22 L217.20,244.01 L217.90,240.38 L218.60,236.39 L219.30,232.16 L220.00,227.77 L220.70,223.33 L221.40,218.95 L222.10,214.72 L222.80,210.74 L223.50,207.11 L224.20,203.91 L224.90,201.22 L225.60,199.09 L226.30,197.58 L227.00,196.72 L227.54,196.52 L227.70,196.54 L228.40,197.01 L229.10,198.12 L229.80,199.84 L230.50,202.14 L231.20,204.95 L231.90,208.21 L232.60,211.85 L233.30,215.78 L234.00,219.91 L234.70,224.15 L235.40,228.39 L236.10,232.54 L236.80,236.50 L237.50,240.17 L238.20,243.48 L238.90,246.34 L239.60,248.70 L240.30,250.48 L241.00,251.66 L241.70,252.20 L241.94,252.23 L242.40,252.10 L243.10,251.38 L243.80,250.07 L244.50,248.20 L245.20,245.80 L245.90,242.94 L246.60,239.68 L247.30,236.09 L248.00,232.26 L248.70,228.29 L249.40,224.25 L250.10,220.26 L250.80,216.39 L251.50,212.74 L252.20,209.39 L252.90,206.43 L253.60,203.91 L254.30,201.91 L255.00,200.47 L255.70,199.61 L256.33,199.36 L256.40,199.36 L257.10,199.71 L257.80,200.65 L258.50,202.13 L259.20,204.15 L259.90,206.63 L260.60,209.54 L261.30,212.79 L262.00,216.32 L262.70,220.05 L263.40,223.87 L264.10,227.72 L264.80,231.49 L265.50,235.10 L266.20,238.46 L266.90,241.50 L267.60,244.15 L268.30,246.34 L269.00,248.03 L269.70,249.16 L270.40,249.73 L270.73,249.79 L271.10,249.71 L271.80,249.12 L272.50,247.98 L273.20,246.32 L273.90,244.17 L274.60,241.58 L275.30,238.61 L276.00,235.34 L276.70,231.83 L277.40,228.18 L278.10,224.46 L278.80,220.76 L279.50,217.17 L280.20,213.77 L280.90,210.65 L281.60,207.86 L282.30,205.49 L283.00,203.58 L283.70,202.18 L284.40,201.31 L285.10,201.01 L285.12,201.01 L285.80,201.27 L286.50,202.07 L287.20,203.38 L287.90,205.18 L288.60,207.44 L289.30,210.08 L290.00,213.06 L290.70,216.30 L291.40,219.73 L292.10,223.27 L292.80,226.83 L293.50,230.34 L294.20,233.71 L294.90,236.86 L295.60,239.72 L296.30,242.22 L297.00,244.31 L297.70,245.93 L298.40,247.05 L299.10,247.65 L299.51,247.74 L299.80,247.70 L300.50,247.23 L301.20,246.26 L301.90,244.81 L302.60,242.91 L303.30,240.61 L304.00,237.96 L304.70,235.02 L305.40,231.86 L306.10,228.55 L306.80,225.18 L307.50,221.81 L308.20,218.54 L308.90,215.43 L309.60,212.55 L310.30,209.98 L311.00,207.77 L311.70,205.98 L312.40,204.65 L313.10,203.80 L313.80,203.46 L313.91,203.46 L314.50,203.64 L315.20,204.31 L315.90,205.47 L316.60,207.10 L317.30,209.14 L318.00,211.55 L318.70,214.29 L319.40,217.28 L320.10,220.45 L320.80,223.73 L321.50,227.05 L322.20,230.32 L322.90,233.47 L323.60,236.43 L324.30,239.13 L325.00,241.50 L325.70,243.50 L326.40,245.06 L327.10,246.17 L327.80,246.78 L328.31,246.92 L328.50,246.90 L329.20,246.53 L329.90,245.69 L330.60,244.40 L331.30,242.69 L332.00,240.60 L332.70,238.18 L333.40,235.49 L334.10,232.59 L334.80,229.54 L335.50,226.42 L336.20,223.30 L336.90,220.25 L337.60,217.34 L338.30,214.65 L339.00,212.23 L339.70,210.14 L340.40,208.43 L341.10,207.14 L341.80,206.29 L342.50,205.92 L342.70,205.90 L343.20,206.02 L343.90,206.57 L344.60,207.57 L345.30,208.98 L346.00,210.79 L346.70,212.93 L347.40,215.38 L348.10,218.06 L348.80,220.91 L349.50,223.88 L350.20,226.88 L350.90,229.85 L351.60,232.73 L352.30,235.43 L353.00,237.91 L353.70,240.10 L354.40,241.95 L355.10,243.42 L355.80,244.48 L356.50,245.09 L357.10,245.26 L357.20,245.26 L357.90,244.96 L358.60,244.23 L359.30,243.07 L360.00,241.51 L360.70,239.59 L361.40,237.36 L362.10,234.85 L362.80,232.15 L363.50,229.29 L364.20,226.36 L364.90,223.42 L365.60,220.55 L366.30,217.79 L367.00,215.23 L367.70,212.92 L368.40,210.91 L369.10,209.25 L369.80,207.98 L370.50,207.14 L371.20,206.73 L371.49,206.69 L371.90,206.77 L372.60,207.26 L373.30,208.21 L374.00,209.57 L374.70,211.33 L375.40,213.44 L376.10,215.85 L376.80,218.50 L377.50,221.34 L378.20,224.30 L378.90,227.30 L379.60,230.29 L380.30,233.18 L381.00,235.91 L381.70,238.43 L382.40,240.66 L383.10,242.56 L383.80,244.08 L384.50,245.19 L385.20,245.87 L385.88,246.09 L385.90,246.09 L386.60,245.84 L387.30,245.14 L388.00,243.99 L388.70,242.41 L389.40,240.46 L390.10,238.17 L390.80,235.59 L391.50,232.80 L392.20,229.84 L392.90,226.79 L393.60,223.73 L394.30,220.72 L395.00,217.83 L395.70,215.13 L396.40,212.68 L397.10,210.55 L397.80,208.77 L398.50,207.40 L399.20,206.46 L399.90,205.97 L400.28,205.90 L400.60,205.95 L401.30,206.41 L402.00,207.33 L402.70,208.69 L403.40,210.47 L404.10,212.62 L404.80,215.09 L405.50,217.83 L406.20,220.76 L406.90,223.83 L407.60,226.96 L408.30,230.07 L409.00,233.10 L409.70,235.97 L410.40,238.62 L411.10,240.98 L411.80,243.01 L412.50,244.65 L413.20,245.86 L413.90,246.62 L414.60,246.91 L414.68,246.92 L415.30,246.72 L416.00,246.04 L416.70,244.89 L417.40,243.29 L418.10,241.29 L418.80,238.93 L419.50,236.26 L420.20,233.35 L420.90,230.26 L421.60,227.07 L422.30,223.85 L423.00,220.68 L423.70,217.62 L424.40,214.76 L425.10,212.15 L425.80,209.87 L426.50,207.95 L427.20,206.45 L427.90,205.40 L428.60,204.83 L429.07,204.72 L429.30,204.75 L430.00,205.16 L430.70,206.08 L431.40,207.46 L432.10,209.29 L432.80,211.52 L433.50,214.10 L434.20,216.96 L434.90,220.04 L435.60,223.28 L436.30,226.58 L437.00,229.88 L437.70,233.10 L438.40,236.17 L439.10,239.01 L439.80,241.55 L440.50,243.75 L441.20,245.54 L441.90,246.88 L442.60,247.75 L443.30,248.12 L443.46,248.14 L444.00,247.97 L444.70,247.26 L445.40,245.99 L446.10,244.21 L446.80,241.96 L447.50,239.28 L448.20,236.23 L448.90,232.90 L449.60,229.35 L450.30,225.68 L451.00,221.95 L451.70,218.27 L452.40,214.72 L453.10,211.38 L453.80,208.32 L454.50,205.63 L455.20,203.36 L455.90,201.56 L456.60,200.28 L457.30,199.54 L457.86,199.36 L458.00,199.37 L458.70,199.79 L459.40,200.79 L460.10,202.36 L460.80,204.45 L461.50,207.02 L462.20,210.01 L462.90,213.35 L463.60,216.96 L464.30,220.76 L465.00,224.65 L465.70,228.55 L466.40,232.37 L467.10,236.01 L467.80,239.40 L468.50,242.45 L469.20,245.10 L469.90,247.27 L470.60,248.93 L471.30,250.03 L472.00,250.54 L472.25,250.58 L472.70,250.45 L473.40,249.75 L474.10,248.43 L474.80,246.55 L475.50,244.13 L476.20,241.23 L476.90,237.93 L477.60,234.30 L478.30,230.43 L479.00,226.39 L479.70,222.30 L480.40,218.24 L481.10,214.31 L481.80,210.60 L482.50,207.19 L483.20,204.17 L483.90,201.61 L484.60,199.56 L485.30,198.07 L486.00,197.19 L486.65,196.92 L486.70,196.92 L487.40,197.29 L488.10,198.29 L488.80,199.91 L489.50,202.10 L490.20,204.81 L490.90,207.99 L491.60,211.55 L492.30,215.41 L493.00,219.49 L493.70,223.69 L494.40,227.90 L495.10,232.04 L495.80,236.01 L496.50,239.71 L497.20,243.05 L497.90,245.97 L498.60,248.39 L499.30,250.25 L500.00,251.52 L500.70,252.16 L501.05,252.23 L501.40,252.15 L502.10,251.49 L502.80,250.19 L503.50,248.27 L504.20,245.79 L504.90,242.81 L505.60,239.38 L506.30,235.59 L507.00,231.54 L507.70,227.30 L508.40,222.99 L509.10,218.71 L509.80,214.54 L510.50,210.59 L511.20,206.96 L511.90,203.72 L512.60,200.95 L513.30,198.72 L514.00,197.08 L514.70,196.06 L515.40,195.70 L515.44,195.70 L516.10,195.99 L516.80,196.96 L517.50,198.57 L518.20,200.78 L518.90,203.55 L519.60,206.80 L520.30,210.47 L521.00,214.47 L521.70,218.71 L522.40,223.08 L523.10,227.49 L523.80,231.82 L524.50,235.99 L525.20,239.90 L525.90,243.44 L526.60,246.55 L527.30,249.15 L528.00,251.17 L528.70,252.57 L529.40,253.33 L529.84,253.46 L530.10,253.41 L530.80,252.82 L531.50,251.57 L532.20,249.69 L532.90,247.23 L533.60,244.24 L534.30,240.80 L535.00,236.97 L535.70,232.86 L536.40,228.55 L537.10,224.15 L537.80,219.76 L538.40,216.08" stroke="#00ff00" stroke-width="2.0"/>
<path d="M54.80,268.15 L55.50,267.67 L56.20,266.23 L56.90,263.86 L57.60,260.63 L58.30,256.60 L59.00,251.88 L59.70,246.56 L60.40,240.79 L61.10,234.67 L61.80,228.38 L62.50,222.04 L63.20,215.80 L63.90,209.82 L64.60,204.23 L65.30,199.15 L66.00,194.72 L66.70,191.03 L67.40,188.17 L68.10,186.20 L68.80,185.17 L69.19,185.02 L69.50,185.11 L70.20,186.01 L70.90,187.86 L71.60,190.61 L72.30,194.20 L73.00,198.55 L73.70,203.54 L74.40,209.07 L75.10,215.01 L75.80,221.23 L76.50,227.56 L77.20,233.87 L77.90,240.02 L78.60,245.84 L79.30,251.23 L80.00,256.03 L80.70,260.15 L81.40,263.49 L82.10,265.97 L82.80,267.54 L83.50,268.14 L83.59,268.15 L84.20,267.78 L84.90,266.44 L85.60,264.16 L86.30,260.99 L87.00,257.00 L87.70,252.29 L88.40,246.97 L89.10,241.16 L89.80,234.99 L90.50,228.62 L91.20,222.18 L91.90,215.83 L92.60,209.72 L93.30,203.99 L94.00,198.77 L94.70,194.18 L95.40,190.33 L96.10,187.32 L96.80,185.20 L97.50,184.03 L97.98,183.80 L98.20,183.84 L98.90,184.60 L99.60,186.28 L100.30,188.84 L101.00,192.23 L101.70,196.36 L102.40,201.15 L103.10,206.46 L103.80,212.19 L104.50,218.21 L105.20,224.36 L105.90,230.50 L106.60,236.50 L107.30,242.22 L108.00,247.51 L108.70,252.26 L109.40,256.36 L110.10,259.71 L110.80,262.23 L111.50,263.86 L112.20,264.57 L112.38,264.61 L112.90,264.37 L113.60,263.31 L114.30,261.41 L115.00,258.73 L115.70,255.33 L116.40,251.29 L117.10,246.69 L117.80,241.65 L118.50,236.29 L119.20,230.73 L119.90,225.09 L120.60,219.52 L121.30,214.13 L122.00,209.07 L122.70,204.43 L123.40,200.34 L124.10,196.88 L124.80,194.15 L125.50,192.19 L126.20,191.06 L126.78,190.77 L126.90,190.78 L127.60,191.32 L128.30,192.65 L129.00,194.73 L129.70,197.51 L130.40,200.93 L131.10,204.92 L131.80,209.37 L132.50,214.18 L133.20,219.25 L133.90,224.45 L134.60,229.66 L135.30,234.76 L136.00,239.64 L136.70,244.18 L137.40,248.26 L138.10,251.81 L138.80,254.73 L139.50,256.96 L140.20,258.44 L140.90,259.15 L141.17,259.21 L141.60,259.06 L142.30,258.19 L143.00,256.55 L143.70,254.18 L144.40,251.15 L145.10,247.52 L145.80,243.37 L146.50,238.80 L147.20,233.92 L147.90,228.85 L148.60,223.69 L149.30,218.57 L150.00,213.61 L150.70,208.93 L151.40,204.63 L152.10,200.81 L152.80,197.57 L153.50,194.97 L154.20,193.09 L154.90,191.95 L155.56,191.60 L155.60,191.60 L156.30,192.03 L157.00,193.22 L157.70,195.16 L158.40,197.79 L159.10,201.05 L159.80,204.87 L160.50,209.16 L161.20,213.82 L161.90,218.74 L162.60,223.81 L163.30,228.90 L164.00,233.90 L164.70,238.69 L165.40,243.17 L166.10,247.22 L166.80,250.75 L167.50,253.68 L168.20,255.95 L168.90,257.49 L169.60,258.28 L169.96,258.38 L170.30,258.29 L171.00,257.55 L171.70,256.07 L172.40,253.90 L173.10,251.07 L173.80,247.66 L174.50,243.75 L175.20,239.42 L175.90,234.79 L176.60,229.94 L177.30,225.01 L178.00,220.10 L178.70,215.32 L179.40,210.80 L180.10,206.63 L180.80,202.91 L181.50,199.73 L182.20,197.16 L182.90,195.26 L183.60,194.08 L184.30,193.65 L184.35,193.65 L185.00,193.96 L185.70,195.01 L186.40,196.78 L187.10,199.21 L187.80,202.26 L188.50,205.85 L189.20,209.91 L189.90,214.32 L190.60,219.01 L191.30,223.84 L192.00,228.72 L192.70,233.52 L193.40,238.14 L194.10,242.46 L194.80,246.40 L195.50,249.85 L196.20,252.73 L196.90,254.98 L197.60,256.55 L198.30,257.40 L198.75,257.55 L199.00,257.51 L199.70,256.86 L200.40,255.48 L201.10,253.39 L201.80,250.64 L202.50,247.31 L203.20,243.45 L203.90,239.17 L204.60,234.57 L205.30,229.74 L206.00,224.82 L206.70,219.89 L207.40,215.10 L208.10,210.53 L208.80,206.31 L209.50,202.53 L210.20,199.28 L210.90,196.63 L211.60,194.64 L212.30,193.37 L213.00,192.84 L213.15,192.82 L213.70,193.06 L214.40,194.03 L215.10,195.72 L215.80,198.10 L216.50,201.11 L217.20,204.69 L217.90,208.74 L218.60,213.17 L219.30,217.89 L220.00,222.77 L220.70,227.71 L221.40,232.59 L222.10,237.30 L222.80,241.73 L223.50,245.77 L224.20,249.33 L224.90,252.33 L225.60,254.70 L226.30,256.38 L227.00,257.33 L227.54,257.55 L227.70,257.53 L228.40,256.97 L229.10,255.64 L229.80,253.57 L230.50,250.83 L231.20,247.46 L231.90,243.54 L232.60,239.18 L233.30,234.47 L234.00,229.51 L234.70,224.44 L235.40,219.35 L236.10,214.38 L236.80,209.63 L237.50,205.23 L238.20,201.26 L238.90,197.83 L239.60,195.01 L240.30,192.87 L241.00,191.46 L241.70,190.81 L241.94,190.77 L242.40,190.95 L243.10,191.87 L243.80,193.57 L244.50,195.99 L245.20,199.10 L245.90,202.80 L246.60,207.02 L247.30,211.67 L248.00,216.62 L248.70,221.76 L249.40,226.99 L250.10,232.16 L250.80,237.17 L251.50,241.89 L252.20,246.22 L252.90,250.06 L253.60,253.31 L254.30,255.90 L255.00,257.78 L255.70,258.89 L256.33,259.21 L256.40,259.20 L257.10,258.71 L257.80,257.39 L258.50,255.28 L259.20,252.44 L259.90,248.92 L260.60,244.81 L261.30,240.21 L262.00,235.22 L262.70,229.96 L263.40,224.54 L264.10,219.11 L264.80,213.78 L265.50,208.67 L266.20,203.91 L266.90,199.61 L267.60,195.87 L268.30,192.77 L269.00,190.39 L269.70,188.78 L270.40,187.98 L270.73,187.89 L271.10,188.02 L271.80,188.93 L272.50,190.69 L273.20,193.26 L273.90,196.59 L274.60,200.59 L275.30,205.18 L276.00,210.24 L276.70,215.66 L277.40,221.31 L278.10,227.06 L278.80,232.78 L279.50,238.33 L280.20,243.58 L280.90,248.41 L281.60,252.72 L282.30,256.39 L283.00,259.34 L283.70,261.51 L284.40,262.84 L285.10,263.31 L285.12,263.31 L285.80,262.88 L286.50,261.54 L287.20,259.34 L287.90,256.32 L288.60,252.55 L289.30,248.12 L290.00,243.13 L290.70,237.69 L291.40,231.95 L292.10,226.02 L292.80,220.05 L293.50,214.17 L294.20,208.53 L294.90,203.25 L295.60,198.46 L296.30,194.26 L297.00,190.77 L297.70,188.05 L298.40,186.17 L299.10,185.18 L299.51,185.02 L299.80,185.09 L300.50,185.93 L301.20,187.66 L301.90,190.26 L302.60,193.65 L303.30,197.76 L304.00,202.50 L304.70,207.75 L305.40,213.40 L306.10,219.30 L306.80,225.33 L307.50,231.34 L308.20,237.19 L308.90,242.75 L309.60,247.89 L310.30,252.48 L311.00,256.42 L311.70,259.62 L312.40,262.00 L313.10,263.52 L313.80,264.12 L313.91,264.13 L314.50,263.80 L315.20,262.55 L315.90,260.40 L316.60,257.41 L317.30,253.63 L318.00,249.17 L318.70,244.11 L319.40,238.59 L320.10,232.73 L320.80,226.66 L321.50,220.53 L322.20,214.48 L322.90,208.65 L323.60,203.18 L324.30,198.19 L325.00,193.80 L325.70,190.12 L326.40,187.22 L327.10,185.18 L327.80,184.04 L328.31,183.80 L328.50,183.83 L329.20,184.55 L329.90,186.18 L330.60,188.68 L331.30,191.99 L332.00,196.04 L332.70,200.72 L333.40,205.94 L334.10,211.57 L334.80,217.48 L335.50,223.53 L336.20,229.58 L336.90,235.49 L337.60,241.12 L338.30,246.34 L339.00,251.03 L339.70,255.09 L340.40,258.40 L341.10,260.91 L341.80,262.54 L342.50,263.27 L342.70,263.31 L343.20,263.07 L343.90,261.95 L344.60,259.94 L345.30,257.08 L346.00,253.43 L346.70,249.10 L347.40,244.16 L348.10,238.75 L348.80,232.98 L349.50,227.00 L350.20,220.93 L350.90,214.92 L351.60,209.12 L352.30,203.65 L353.00,198.64 L353.70,194.22 L354.40,190.48 L355.10,187.51 L355.80,185.37 L356.50,184.13 L357.10,183.80 L357.20,183.81 L357.90,184.41 L358.60,185.92 L359.30,188.31 L360.00,191.52 L360.70,195.48 L361.40,200.09 L362.10,205.25 L362.80,210.83 L363.50,216.71 L364.20,222.75 L364.90,228.81 L365.60,234.74 L366.30,240.42 L367.00,245.70 L367.70,250.46 L368.40,254.60 L369.10,258.02 L369.80,260.63 L370.50,262.38 L371.20,263.23 L371.49,263.31 L371.90,263.15 L372.60,262.19 L373.30,260.37 L374.00,257.73 L374.70,254.33 L375.40,250.25 L376.10,245.59 L376.80,240.45 L377.50,234.96 L378.20,229.23 L378.90,223.42 L379.60,217.65 L380.30,212.05 L381.00,206.75 L381.70,201.89 L382.40,197.57 L383.10,193.89 L383.80,190.95 L384.50,188.79 L385.20,187.49 L385.88,187.07 L385.90,187.07 L386.60,187.53 L387.30,188.87 L388.00,191.06 L388.70,194.04 L389.40,197.74 L390.10,202.09 L390.80,206.97 L391.50,212.28 L392.20,217.89 L392.90,223.67 L393.60,229.48 L394.30,235.20 L395.00,240.68 L395.70,245.80 L396.40,250.44 L397.10,254.49 L397.80,257.86 L398.50,260.47 L399.20,262.25 L399.90,263.17 L400.28,263.31 L400.60,263.21 L401.30,262.37 L402.00,260.65 L402.70,258.11 L403.40,254.81 L404.10,250.81 L404.80,246.21 L405.50,241.13 L406.20,235.68 L406.90,229.98 L407.60,224.17 L408.30,218.38 L409.00,212.75 L409.70,207.41 L410.40,202.49 L411.10,198.09 L411.80,194.33 L412.50,191.28 L413.20,189.02 L413.90,187.61 L414.60,187.07 L414.68,187.07 L415.30,187.42 L416.00,188.63 L416.70,190.69 L417.40,193.54 L418.10,197.12 L418.80,201.34 L419.50,206.11 L420.20,211.31 L420.90,216.83 L421.60,222.53 L422.30,228.29 L423.00,233.96 L423.70,239.42 L424.40,244.53 L425.10,249.19 L425.80,253.28 L426.50,256.70 L427.20,259.38 L427.90,261.26 L428.60,262.28 L429.07,262.48 L429.30,262.43 L430.00,261.72 L430.70,260.17 L431.40,257.81 L432.10,254.70 L432.80,250.92 L433.50,246.54 L434.20,241.68 L434.90,236.44 L435.60,230.95 L436.30,225.34 L437.00,219.73 L437.70,214.26 L438.40,209.05 L439.10,204.23 L439.80,199.90 L440.50,196.18 L441.20,193.14 L441.90,190.85 L442.60,189.38 L443.30,188.75 L443.46,188.72 L444.00,188.97 L444.70,190.04 L445.40,191.93 L446.10,194.59 L446.80,197.96 L447.50,201.97 L448.20,206.52 L448.90,211.50 L449.60,216.81 L450.30,222.30 L451.00,227.87 L451.70,233.37 L452.40,238.68 L453.10,243.68 L453.80,248.25 L454.50,252.28 L455.20,255.68 L455.90,258.37 L456.60,260.28 L457.30,261.38 L457.86,261.65 L458.00,261.63 L458.70,261.05 L459.40,259.63 L460.10,257.43 L460.80,254.48 L461.50,250.86 L462.20,246.65 L462.90,241.95 L463.60,236.87 L464.30,231.53 L465.00,226.05 L465.70,220.56 L466.40,215.19 L467.10,210.06 L467.80,205.29 L468.50,200.99 L469.20,197.27 L469.90,194.21 L470.60,191.88 L471.30,190.33 L472.00,189.60 L472.25,189.55 L472.70,189.72 L473.40,190.65 L474.10,192.38 L474.80,194.88 L475.50,198.07 L476.20,201.89 L476.90,206.25 L477.60,211.05 L478.30,216.17 L479.00,221.50 L479.70,226.90 L480.40,232.27 L481.10,237.46 L481.80,242.36 L482.50,246.86 L483.20,250.85 L483.90,254.24 L484.60,256.94 L485.30,258.90 L486.00,260.07 L486.65,260.43 L486.70,260.43 L487.40,259.97 L488.10,258.72 L488.80,256.71 L489.50,253.98 L490.20,250.61 L490.90,246.66 L491.60,242.23 L492.30,237.42 L493.00,232.34 L493.70,227.12 L494.40,221.87 L495.10,216.72 L495.80,211.79 L496.50,207.19 L497.20,203.02 L497.90,199.39 L498.60,196.38 L499.30,194.06 L500.00,192.49 L500.70,191.70 L501.05,191.60 L501.40,191.70 L502.10,192.48 L502.80,194.02 L503.50,196.28 L504.20,199.21 L504.90,202.73 L505.60,206.78 L506.30,211.25 L507.00,216.05 L507.70,221.05 L508.40,226.14 L509.10,231.20 L509.80,236.12 L510.50,240.78 L511.20,245.08 L511.90,248.90 L512.60,252.17 L513.30,254.80 L514.00,256.75 L514.70,257.95 L515.40,258.38 L515.44,258.38 L516.10,258.05 L516.80,256.97 L517.50,255.16 L518.20,252.68 L518.90,249.58 L519.60,245.93 L520.30,241.82 L521.00,237.34 L521.70,232.59 L522.40,227.69 L523.10,222.75 L523.80,217.89 L524.50,213.22 L525.20,208.84 L525.90,204.87 L526.60,201.38 L527.30,198.47 L528.00,196.21 L528.70,194.63 L529.40,193.79 L529.84,193.65 L530.10,193.70 L530.80,194.36 L531.50,195.76 L532.20,197.86 L532.90,200.62 L533.60,203.97 L534.30,207.84 L535.00,212.12 L535.70,216.73 L536.40,221.56 L537.10,226.49 L537.80,231.41 L538.40,235.53" stroke="#ff0000" stroke-width="2.0" stroke-dasharray="7.5 7"/>
<path d="M54.80,183.44 L55.50,183.92 L56.20,185.36 L56.90,187.71 L57.60,190.92 L58.30,194.92 L59.00,199.61 L59.70,204.90 L60.40,210.64 L61.10,216.71 L61.80,222.97 L62.50,229.27 L63.20,235.47 L63.90,241.42 L64.60,246.98 L65.30,252.02 L66.00,256.42 L66.70,260.09 L67.40,262.93 L68.10,264.89 L68.80,265.91 L69.19,266.06 L69.50,265.97 L70.20,265.04 L70.90,263.15 L71.60,260.33 L72.30,256.66 L73.00,252.21 L73.70,247.09 L74.40,241.43 L75.10,235.34 L75.80,228.98 L76.50,222.49 L77.20,216.03 L77.90,209.74 L78.60,203.77 L79.30,198.26 L80.00,193.33 L80.70,189.11 L81.40,185.69 L82.10,183.15 L82.80,181.55 L83.50,180.93 L83.59,180.92 L84.20,181.30 L84.90,182.65 L85.60,184.95 L86.30,188.15 L87.00,192.18 L87.70,196.93 L88.40,202.30 L89.10,208.17 L89.80,214.39 L90.50,220.82 L91.20,227.32 L91.90,233.73 L92.60,239.90 L93.30,245.68 L94.00,250.95 L94.70,255.58 L95.40,259.47 L96.10,262.51 L96.80,264.65 L97.50,265.83 L97.98,266.06 L98.20,266.01 L98.90,265.18 L99.60,263.33 L100.30,260.51 L101.00,256.78 L101.70,252.23 L102.40,246.96 L103.10,241.11 L103.80,234.80 L104.50,228.18 L105.20,221.41 L105.90,214.64 L106.60,208.04 L107.30,201.75 L108.00,195.92 L108.70,190.69 L109.40,186.18 L110.10,182.49 L110.80,179.72 L111.50,177.92 L112.20,177.13 L112.38,177.10 L112.90,177.39 L113.60,178.68 L114.30,180.98 L115.00,184.24 L115.70,188.38 L116.40,193.30 L117.10,198.89 L117.80,205.02 L118.50,211.55 L119.20,218.32 L119.90,225.17 L120.60,231.95 L121.30,238.50 L122.00,244.67 L122.70,250.31 L123.40,255.29 L124.10,259.49 L124.80,262.82 L125.50,265.20 L126.20,266.58 L126.78,266.93 L126.90,266.92 L127.60,266.26 L128.30,264.65 L129.00,262.13 L129.70,258.75 L130.40,254.60 L131.10,249.76 L131.80,244.36 L132.50,238.52 L133.20,232.37 L133.90,226.06 L134.60,219.73 L135.30,213.54 L136.00,207.62 L136.70,202.12 L137.40,197.16 L138.10,192.85 L138.80,189.31 L139.50,186.60 L140.20,184.80 L140.90,183.95 L141.17,183.88 L141.60,184.06 L142.30,185.14 L143.00,187.16 L143.70,190.08 L144.40,193.82 L145.10,198.30 L145.80,203.42 L146.50,209.06 L147.20,215.08 L147.90,221.35 L148.60,227.72 L149.30,234.03 L150.00,240.15 L150.70,245.93 L151.40,251.24 L152.10,255.95 L152.80,259.96 L153.50,263.16 L154.20,265.49 L154.90,266.89 L155.56,267.32 L155.60,267.32 L156.30,266.78 L157.00,265.26 L157.70,262.81 L158.40,259.47 L159.10,255.33 L159.80,250.49 L160.50,245.04 L161.20,239.13 L161.90,232.90 L162.60,226.47 L163.30,220.01 L164.00,213.67 L164.70,207.59 L165.40,201.91 L166.10,196.78 L166.80,192.29 L167.50,188.57 L168.20,185.70 L168.90,183.74 L169.60,182.75 L169.96,182.61 L170.30,182.73 L171.00,183.72 L171.70,185.69 L172.40,188.60 L173.10,192.37 L173.80,196.92 L174.50,202.14 L175.20,207.92 L175.90,214.11 L176.60,220.57 L177.30,227.16 L178.00,233.72 L178.70,240.09 L179.40,246.13 L180.10,251.69 L180.80,256.66 L181.50,260.90 L182.20,264.33 L182.90,266.86 L183.60,268.43 L184.30,269.02 L184.35,269.02 L185.00,268.59 L185.70,267.18 L186.40,264.81 L187.10,261.53 L187.80,257.43 L188.50,252.59 L189.20,247.14 L189.90,241.19 L190.60,234.89 L191.30,228.38 L192.00,221.82 L192.70,215.36 L193.40,209.14 L194.10,203.32 L194.80,198.02 L195.50,193.38 L196.20,189.50 L196.90,186.47 L197.60,184.36 L198.30,183.22 L198.75,183.01 L199.00,183.07 L199.70,183.91 L200.40,185.70 L201.10,188.41 L201.80,191.97 L202.50,196.29 L203.20,201.29 L203.90,206.84 L204.60,212.81 L205.30,219.06 L206.00,225.45 L206.70,231.83 L207.40,238.05 L208.10,243.96 L208.80,249.44 L209.50,254.34 L210.20,258.56 L210.90,261.99 L211.60,264.57 L212.30,266.22 L213.00,266.91 L213.15,266.93 L213.70,266.63 L214.40,265.42 L215.10,263.30 L215.80,260.32 L216.50,256.55 L217.20,252.09 L217.90,247.02 L218.60,241.47 L219.30,235.58 L220.00,229.47 L220.70,223.29 L221.40,217.19 L222.10,211.30 L222.80,205.76 L223.50,200.71 L224.20,196.25 L224.90,192.50 L225.60,189.54 L226.30,187.44 L227.00,186.24 L227.54,185.96 L227.70,185.99 L228.40,186.65 L229.10,188.21 L229.80,190.64 L230.50,193.86 L231.20,197.82 L231.90,202.41 L232.60,207.53 L233.30,213.07 L234.00,218.88 L234.70,224.85 L235.40,230.82 L236.10,236.65 L236.80,242.22 L237.50,247.40 L238.20,252.05 L238.90,256.08 L239.60,259.39 L240.30,261.90 L241.00,263.56 L241.70,264.32 L241.94,264.37 L242.40,264.16 L243.10,263.08 L243.80,261.08 L244.50,258.23 L245.20,254.58 L245.90,250.22 L246.60,245.25 L247.30,239.79 L248.00,233.97 L248.70,227.92 L249.40,221.77 L250.10,215.69 L250.80,209.80 L251.50,204.24 L252.20,199.15 L252.90,194.63 L253.60,190.81 L254.30,187.76 L255.00,185.56 L255.70,184.26 L256.33,183.88 L256.40,183.88 L257.10,184.48 L257.80,186.05 L258.50,188.56 L259.20,191.96 L259.90,196.16 L260.60,201.06 L261.30,206.56 L262.00,212.52 L262.70,218.80 L263.40,225.26 L264.10,231.75 L264.80,238.12 L265.50,244.21 L266.20,249.89 L266.90,255.03 L267.60,259.50 L268.30,263.19 L269.00,266.04 L269.70,267.96 L270.40,268.91 L270.73,269.02 L271.10,268.87 L271.80,267.81 L272.50,265.75 L273.20,262.75 L273.90,258.86 L274.60,254.18 L275.30,248.83 L276.00,242.91 L276.70,236.58 L277.40,229.98 L278.10,223.26 L278.80,216.59 L279.50,210.10 L280.20,203.97 L280.90,198.32 L281.60,193.29 L282.30,189.00 L283.00,185.55 L283.70,183.02 L284.40,181.46 L285.10,180.92 L285.12,180.92 L285.80,181.42 L286.50,182.97 L287.20,185.53 L287.90,189.05 L288.60,193.43 L289.30,198.59 L290.00,204.39 L290.70,210.71 L291.40,217.39 L292.10,224.29 L292.80,231.23 L293.50,238.07 L294.20,244.63 L294.90,250.77 L295.60,256.34 L296.30,261.22 L297.00,265.29 L297.70,268.45 L298.40,270.63 L299.10,271.79 L299.51,271.97 L299.80,271.88 L300.50,270.88 L301.20,268.80 L301.90,265.69 L302.60,261.62 L303.30,256.69 L304.00,251.01 L304.70,244.71 L305.40,237.94 L306.10,230.86 L306.80,223.63 L307.50,216.42 L308.20,209.41 L308.90,202.74 L309.60,196.58 L310.30,191.08 L311.00,186.35 L311.70,182.51 L312.40,179.65 L313.10,177.84 L313.80,177.11 L313.91,177.10 L314.50,177.49 L315.20,178.97 L315.90,181.50 L316.60,185.04 L317.30,189.50 L318.00,194.77 L318.70,200.74 L319.40,207.26 L320.10,214.19 L320.80,221.36 L321.50,228.59 L322.20,235.74 L322.90,242.62 L323.60,249.09 L324.30,254.98 L325.00,260.16 L325.70,264.51 L326.40,267.93 L327.10,270.34 L327.80,271.69 L328.31,271.97 L328.50,271.93 L329.20,271.09 L329.90,269.19 L330.60,266.28 L331.30,262.42 L332.00,257.70 L332.70,252.23 L333.40,246.14 L334.10,239.57 L334.80,232.68 L335.50,225.63 L336.20,218.57 L336.90,211.67 L337.60,205.11 L338.30,199.01 L339.00,193.54 L339.70,188.82 L340.40,184.95 L341.10,182.02 L341.80,180.12 L342.50,179.27 L342.70,179.23 L343.20,179.50 L343.90,180.81 L344.60,183.16 L345.30,186.49 L346.00,190.74 L346.70,195.80 L347.40,201.56 L348.10,207.87 L348.80,214.60 L349.50,221.58 L350.20,228.66 L350.90,235.67 L351.60,242.44 L352.30,248.82 L353.00,254.65 L353.70,259.82 L354.40,264.18 L355.10,267.65 L355.80,270.13 L356.50,271.58 L357.10,271.97 L357.20,271.96 L357.90,271.27 L358.60,269.52 L359.30,266.75 L360.00,263.04 L360.70,258.47 L361.40,253.14 L362.10,247.18 L362.80,240.72 L363.50,233.92 L364.20,226.94 L364.90,219.94 L365.60,213.08 L366.30,206.52 L367.00,200.41 L367.70,194.90 L368.40,190.11 L369.10,186.17 L369.80,183.14 L370.50,181.12 L371.20,180.15 L371.49,180.05 L371.90,180.23 L372.60,181.35 L373.30,183.48 L374.00,186.56 L374.70,190.53 L375.40,195.29 L376.10,200.73 L376.80,206.73 L377.50,213.14 L378.20,219.81 L378.90,226.60 L379.60,233.34 L380.30,239.87 L381.00,246.04 L381.70,251.72 L382.40,256.76 L383.10,261.05 L383.80,264.49 L384.50,267.00 L385.20,268.52 L385.88,269.02 L385.90,269.02 L386.60,268.49 L387.30,266.94 L388.00,264.43 L388.70,261.00 L389.40,256.74 L390.10,251.74 L390.80,246.12 L391.50,240.01 L392.20,233.56 L392.90,226.91 L393.60,220.22 L394.30,213.65 L395.00,207.35 L395.70,201.46 L396.40,196.12 L397.10,191.46 L397.80,187.58 L398.50,184.58 L399.20,182.53 L399.90,181.47 L400.28,181.31 L400.60,181.42 L401.30,182.40 L402.00,184.37 L402.70,187.29 L403.40,191.09 L404.10,195.69 L404.80,200.98 L405.50,206.82 L406.20,213.10 L406.90,219.65 L407.60,226.34 L408.30,233.00 L409.00,239.47 L409.70,245.61 L410.40,251.28 L411.10,256.34 L411.80,260.67 L412.50,264.17 L413.20,266.77 L413.90,268.39 L414.60,269.01 L414.68,269.02 L415.30,268.61 L416.00,267.21 L416.70,264.83 L417.40,261.53 L418.10,257.39 L418.80,252.50 L419.50,246.98 L420.20,240.96 L420.90,234.58 L421.60,227.98 L422.30,221.32 L423.00,214.75 L423.70,208.44 L424.40,202.52 L425.10,197.13 L425.80,192.40 L426.50,188.43 L427.20,185.33 L427.90,183.16 L428.60,181.98 L429.07,181.75 L429.30,181.80 L430.00,182.65 L430.70,184.51 L431.40,187.32 L432.10,191.04 L432.80,195.56 L433.50,200.79 L434.20,206.60 L434.90,212.86 L435.60,219.42 L436.30,226.13 L437.00,232.83 L437.70,239.37 L438.40,245.59 L439.10,251.36 L439.80,256.52 L440.50,260.98 L441.20,264.61 L441.90,267.34 L442.60,269.10 L443.30,269.86 L443.46,269.89 L444.00,269.57 L444.70,268.21 L445.40,265.81 L446.10,262.42 L446.80,258.13 L447.50,253.03 L448.20,247.24 L448.90,240.90 L449.60,234.15 L450.30,227.16 L451.00,220.08 L451.70,213.08 L452.40,206.32 L453.10,199.96 L453.80,194.15 L454.50,189.02 L455.20,184.70 L455.90,181.28 L456.60,178.84 L457.30,177.44 L457.86,177.10 L458.00,177.12 L458.70,177.89 L459.40,179.73 L460.10,182.61 L460.80,186.45 L461.50,191.17 L462.20,196.66 L462.90,202.79 L463.60,209.42 L464.30,216.38 L465.00,223.53 L465.70,230.69 L466.40,237.70 L467.10,244.40 L467.80,250.62 L468.50,256.22 L469.20,261.08 L469.90,265.07 L470.60,268.11 L471.30,270.13 L472.00,271.07 L472.25,271.15 L472.70,270.93 L473.40,269.71 L474.10,267.45 L474.80,264.20 L475.50,260.04 L476.20,255.06 L476.90,249.38 L477.60,243.13 L478.30,236.46 L479.00,229.52 L479.70,222.48 L480.40,215.49 L481.10,208.72 L481.80,202.33 L482.50,196.47 L483.20,191.28 L483.90,186.86 L484.60,183.34 L485.30,180.78 L486.00,179.26 L486.65,178.79 L486.70,178.80 L487.40,179.40 L488.10,181.06 L488.80,183.74 L489.50,187.36 L490.20,191.85 L490.90,197.10 L491.60,202.99 L492.30,209.38 L493.00,216.12 L493.70,223.06 L494.40,230.04 L495.10,236.88 L495.80,243.44 L496.50,249.56 L497.20,255.10 L497.90,259.92 L498.60,263.92 L499.30,267.00 L500.00,269.10 L500.70,270.15 L501.05,270.28 L501.40,270.15 L502.10,269.10 L502.80,267.04 L503.50,264.02 L504.20,260.10 L504.90,255.38 L505.60,249.96 L506.30,243.98 L507.00,237.57 L507.70,230.88 L508.40,224.06 L509.10,217.29 L509.80,210.70 L510.50,204.47 L511.20,198.72 L511.90,193.60 L512.60,189.23 L513.30,185.71 L514.00,183.11 L514.70,181.50 L515.40,180.92 L515.44,180.92 L516.10,181.38 L516.80,182.87 L517.50,185.34 L518.20,188.75 L518.90,193.01 L519.60,198.03 L520.30,203.68 L521.00,209.84 L521.70,216.37 L522.40,223.10 L523.10,229.89 L523.80,236.57 L524.50,242.99 L525.20,249.00 L525.90,254.47 L526.60,259.25 L527.30,263.25 L528.00,266.37 L528.70,268.53 L529.40,269.69 L529.84,269.89 L530.10,269.81 L530.80,268.90 L531.50,266.98 L532.20,264.09 L532.90,260.30 L533.60,255.70 L534.30,250.39 L535.00,244.49 L535.70,238.16 L536.40,231.52 L537.10,224.75 L537.80,217.99 L538.40,212.32" stroke="#ff00ff" stroke-width="2.0" stroke-dasharray="7.5 7"/>
<path d="M54.80,150.74 L55.50,151.59 L56.20,154.13 L56.90,158.30 L57.60,164.00 L58.30,171.10 L59.00,179.43 L59.70,188.80 L60.40,198.99 L61.10,209.76 L61.80,220.87 L62.50,232.04 L63.20,243.04 L63.90,253.59 L64.60,263.45 L65.30,272.39 L66.00,280.20 L66.70,286.71 L67.40,291.76 L68.10,295.23 L68.80,297.04 L69.19,297.31 L69.50,297.15 L70.20,295.59 L70.90,292.40 L71.60,287.66 L72.30,281.46 L73.00,273.97 L73.70,265.35 L74.40,255.81 L75.10,245.56 L75.80,234.85 L76.50,223.92 L77.20,213.03 L77.90,202.43 L78.60,192.37 L79.30,183.09 L80.00,174.80 L80.70,167.69 L81.40,161.93 L82.10,157.65 L82.80,154.96 L83.50,153.91 L83.59,153.89 L84.20,154.53 L84.90,156.81 L85.60,160.70 L86.30,166.11 L87.00,172.90 L87.70,180.93 L88.40,190.00 L89.10,199.91 L89.80,210.42 L90.50,221.29 L91.20,232.26 L91.90,243.08 L92.60,253.50 L93.30,263.28 L94.00,272.18 L94.70,280.00 L95.40,286.56 L96.10,291.70 L96.80,295.31 L97.50,297.30 L97.98,297.70 L98.20,297.62 L98.90,296.24 L99.60,293.17 L100.30,288.50 L101.00,282.32 L101.70,274.78 L102.40,266.07 L103.10,256.37 L103.80,245.92 L104.50,234.96 L105.20,223.74 L105.90,212.53 L106.60,201.59 L107.30,191.17 L108.00,181.52 L108.70,172.86 L109.40,165.39 L110.10,159.28 L110.80,154.68 L111.50,151.70 L112.20,150.40 L112.38,150.35 L112.90,150.84 L113.60,153.05 L114.30,156.98 L115.00,162.54 L115.70,169.60 L116.40,177.99 L117.10,187.53 L117.80,197.99 L118.50,209.12 L119.20,220.67 L119.90,232.37 L120.60,243.94 L121.30,255.11 L122.00,265.63 L122.70,275.25 L123.40,283.75 L124.10,290.92 L124.80,296.60 L125.50,300.66 L126.20,303.01 L126.78,303.61 L126.90,303.58 L127.60,302.37 L128.30,299.39 L129.00,294.71 L129.70,288.44 L130.40,280.74 L131.10,271.77 L131.80,261.75 L132.50,250.91 L133.20,239.51 L133.90,227.80 L134.60,216.07 L135.30,204.58 L136.00,193.60 L136.70,183.39 L137.40,174.19 L138.10,166.21 L138.80,159.63 L139.50,154.62 L140.20,151.28 L140.90,149.69 L141.17,149.56 L141.60,149.90 L142.30,151.88 L143.00,155.59 L143.70,160.95 L144.40,167.82 L145.10,176.06 L145.80,185.46 L146.50,195.82 L147.20,206.88 L147.90,218.39 L148.60,230.08 L149.30,241.68 L150.00,252.92 L150.70,263.54 L151.40,273.29 L152.10,281.94 L152.80,289.29 L153.50,295.17 L154.20,299.45 L154.90,302.02 L155.56,302.82 L155.60,302.82 L156.30,301.85 L157.00,299.13 L157.70,294.74 L158.40,288.76 L159.10,281.35 L159.80,272.67 L160.50,262.93 L161.20,252.34 L161.90,241.17 L162.60,229.67 L163.30,218.10 L164.00,206.74 L164.70,195.86 L165.40,185.69 L166.10,176.49 L166.80,168.47 L167.50,161.80 L168.20,156.66 L168.90,153.15 L169.60,151.37 L169.96,151.13 L170.30,151.34 L171.00,153.02 L171.70,156.37 L172.40,161.31 L173.10,167.72 L173.80,175.46 L174.50,184.35 L175.20,194.17 L175.90,204.70 L176.60,215.70 L177.30,226.90 L178.00,238.05 L178.70,248.89 L179.40,259.16 L180.10,268.63 L180.80,277.07 L181.50,284.29 L182.20,290.12 L182.90,294.42 L183.60,297.10 L184.30,298.09 L184.35,298.10 L185.00,297.39 L185.70,295.05 L186.40,291.11 L187.10,285.68 L187.80,278.87 L188.50,270.85 L189.20,261.81 L189.90,251.95 L190.60,241.50 L191.30,230.71 L192.00,219.83 L192.70,209.11 L193.40,198.80 L194.10,189.14 L194.80,180.37 L195.50,172.67 L196.20,166.23 L196.90,161.20 L197.60,157.70 L198.30,155.81 L198.75,155.47 L199.00,155.57 L199.70,156.95 L200.40,159.92 L201.10,164.39 L201.80,170.27 L202.50,177.42 L203.20,185.68 L203.90,194.85 L204.60,204.71 L205.30,215.05 L206.00,225.61 L206.70,236.15 L207.40,246.43 L208.10,256.20 L208.80,265.25 L209.50,273.35 L210.20,280.32 L210.90,286.00 L211.60,290.25 L212.30,292.98 L213.00,294.12 L213.15,294.16 L213.70,293.66 L214.40,291.64 L215.10,288.12 L215.80,283.16 L216.50,276.89 L217.20,269.45 L217.90,261.02 L218.60,251.79 L219.30,241.98 L220.00,231.81 L220.70,221.53 L221.40,211.37 L222.10,201.57 L222.80,192.35 L223.50,183.94 L224.20,176.53 L224.90,170.28 L225.60,165.36 L226.30,161.86 L227.00,159.88 L227.54,159.41 L227.70,159.45 L228.40,160.59 L229.10,163.28 L229.80,167.44 L230.50,172.98 L231.20,179.78 L231.90,187.68 L232.60,196.48 L233.30,205.99 L234.00,215.98 L234.70,226.23 L235.40,236.49 L236.10,246.52 L236.80,256.09 L237.50,264.98 L238.20,272.99 L238.90,279.91 L239.60,285.60 L240.30,289.91 L241.00,292.76 L241.70,294.07 L241.94,294.16 L242.40,293.80 L243.10,291.95 L243.80,288.54 L244.50,283.66 L245.20,277.43 L245.90,269.98 L246.60,261.50 L247.30,252.17 L248.00,242.22 L248.70,231.88 L249.40,221.39 L250.10,210.99 L250.80,200.93 L251.50,191.44 L252.20,182.74 L252.90,175.03 L253.60,168.50 L254.30,163.29 L255.00,159.53 L255.70,157.30 L256.33,156.65 L256.40,156.66 L257.10,157.65 L257.80,160.28 L258.50,164.48 L259.20,170.15 L259.90,177.17 L260.60,185.36 L261.30,194.54 L262.00,204.50 L262.70,214.99 L263.40,225.79 L264.10,236.63 L264.80,247.26 L265.50,257.44 L266.20,266.93 L266.90,275.51 L267.60,282.98 L268.30,289.15 L269.00,293.90 L269.70,297.11 L270.40,298.71 L270.73,298.88 L271.10,298.63 L271.80,296.82 L272.50,293.31 L273.20,288.17 L273.90,281.53 L274.60,273.54 L275.30,264.39 L276.00,254.29 L276.70,243.47 L277.40,232.19 L278.10,220.72 L278.80,209.31 L279.50,198.23 L280.20,187.75 L280.90,178.10 L281.60,169.51 L282.30,162.18 L283.00,156.29 L283.70,151.96 L284.40,149.30 L285.10,148.38 L285.12,148.38 L285.80,149.24 L286.50,151.91 L287.20,156.34 L287.90,162.40 L288.60,169.98 L289.30,178.88 L290.00,188.90 L290.70,199.80 L291.40,211.34 L292.10,223.25 L292.80,235.24 L293.50,247.04 L294.20,258.37 L294.90,268.97 L295.60,278.59 L296.30,287.01 L297.00,294.04 L297.70,299.50 L298.40,303.27 L299.10,305.26 L299.51,305.58 L299.80,305.43 L300.50,303.72 L301.20,300.18 L301.90,294.89 L302.60,287.96 L303.30,279.56 L304.00,269.88 L304.70,259.16 L305.40,247.63 L306.10,235.58 L306.80,223.27 L307.50,211.00 L308.20,199.05 L308.90,187.70 L309.60,177.22 L310.30,167.84 L311.00,159.79 L311.70,153.26 L312.40,148.39 L313.10,145.30 L313.80,144.07 L313.91,144.04 L314.50,144.72 L315.20,147.27 L315.90,151.65 L316.60,157.76 L317.30,165.47 L318.00,174.58 L318.70,184.89 L319.40,196.16 L320.10,208.12 L320.80,220.50 L321.50,233.01 L322.20,245.35 L322.90,257.24 L323.60,268.41 L324.30,278.58 L325.00,287.54 L325.70,295.05 L326.40,300.96 L327.10,305.13 L327.80,307.45 L328.31,307.95 L328.50,307.87 L329.20,306.41 L329.90,303.09 L330.60,298.00 L331.30,291.26 L332.00,283.02 L332.70,273.47 L333.40,262.84 L334.10,251.38 L334.80,239.34 L335.50,227.02 L336.20,214.70 L336.90,202.67 L337.60,191.20 L338.30,180.56 L339.00,171.01 L339.70,162.75 L340.40,156.00 L341.10,150.90 L341.80,147.57 L342.50,146.09 L342.70,146.01 L343.20,146.48 L343.90,148.69 L344.60,152.66 L345.30,158.30 L346.00,165.48 L346.70,174.04 L347.40,183.77 L348.10,194.44 L348.80,205.82 L349.50,217.62 L350.20,229.59 L350.90,241.44 L351.60,252.88 L352.30,263.67 L353.00,273.54 L353.70,282.27 L354.40,289.65 L355.10,295.51 L355.80,299.71 L356.50,302.16 L357.10,302.82 L357.20,302.80 L357.90,301.67 L358.60,298.82 L359.30,294.32 L360.00,288.28 L360.70,280.83 L361.40,272.14 L362.10,262.43 L362.80,251.92 L363.50,240.85 L364.20,229.48 L364.90,218.07 L365.60,206.89 L366.30,196.21 L367.00,186.26 L367.70,177.28 L368.40,169.49 L369.10,163.06 L369.80,158.14 L370.50,154.84 L371.20,153.25 L371.49,153.10 L371.90,153.39 L372.60,155.18 L373.30,158.58 L374.00,163.51 L374.70,169.85 L375.40,177.46 L376.10,186.16 L376.80,195.75 L377.50,206.00 L378.20,216.67 L378.90,227.52 L379.60,238.29 L380.30,248.73 L381.00,258.61 L381.70,267.68 L382.40,275.74 L383.10,282.60 L383.80,288.10 L384.50,292.11 L385.20,294.54 L385.88,295.34 L385.90,295.34 L386.60,294.49 L387.30,292.05 L388.00,288.06 L388.70,282.62 L389.40,275.86 L390.10,267.93 L390.80,259.02 L391.50,249.34 L392.20,239.11 L392.90,228.57 L393.60,217.96 L394.30,207.54 L395.00,197.54 L395.70,188.20 L396.40,179.73 L397.10,172.34 L397.80,166.20 L398.50,161.44 L399.20,158.18 L399.90,156.50 L400.28,156.26 L400.60,156.43 L401.30,158.02 L402.00,161.22 L402.70,165.97 L403.40,172.16 L404.10,179.64 L404.80,188.23 L405.50,197.74 L406.20,207.94 L406.90,218.61 L407.60,229.48 L408.30,240.30 L409.00,250.83 L409.70,260.82 L410.40,270.03 L411.10,278.26 L411.80,285.30 L412.50,291.00 L413.20,295.22 L413.90,297.87 L414.60,298.87 L414.68,298.88 L415.30,298.20 L416.00,295.82 L416.70,291.79 L417.40,286.20 L418.10,279.19 L418.80,270.92 L419.50,261.57 L420.20,251.38 L420.90,240.57 L421.60,229.40 L422.30,218.13 L423.00,207.01 L423.70,196.32 L424.40,186.29 L425.10,177.17 L425.80,169.16 L426.50,162.45 L427.20,157.20 L427.90,153.53 L428.60,151.52 L429.07,151.13 L429.30,151.23 L430.00,152.68 L430.70,155.86 L431.40,160.68 L432.10,167.04 L432.80,174.78 L433.50,183.73 L434.20,193.68 L434.90,204.40 L435.60,215.63 L436.30,227.12 L437.00,238.60 L437.70,249.79 L438.40,260.45 L439.10,270.31 L439.80,279.16 L440.50,286.78 L441.20,293.00 L441.90,297.68 L442.60,300.70 L443.30,301.99 L443.46,302.04 L444.00,301.51 L444.70,299.27 L445.40,295.30 L446.10,289.71 L446.80,282.62 L447.50,274.19 L448.20,264.63 L448.90,254.16 L449.60,243.01 L450.30,231.46 L451.00,219.76 L451.70,208.20 L452.40,197.04 L453.10,186.53 L453.80,176.94 L454.50,168.47 L455.20,161.32 L455.90,155.67 L456.60,151.65 L457.30,149.34 L457.86,148.77 L458.00,148.81 L458.70,150.03 L459.40,152.99 L460.10,157.61 L460.80,163.78 L461.50,171.35 L462.20,180.16 L462.90,189.99 L463.60,200.62 L464.30,211.80 L465.00,223.27 L465.70,234.77 L466.40,246.01 L467.10,256.75 L467.80,266.73 L468.50,275.72 L469.20,283.51 L469.90,289.92 L470.60,294.80 L471.30,298.04 L472.00,299.56 L472.25,299.67 L472.70,299.32 L473.40,297.32 L474.10,293.62 L474.80,288.30 L475.50,281.48 L476.20,273.32 L476.90,264.02 L477.60,253.78 L478.30,242.85 L479.00,231.48 L479.70,219.94 L480.40,208.49 L481.10,197.41 L481.80,186.94 L482.50,177.34 L483.20,168.82 L483.90,161.60 L484.60,155.82 L485.30,151.64 L486.00,149.14 L486.65,148.38 L486.70,148.38 L487.40,149.39 L488.10,152.13 L488.80,156.55 L489.50,162.54 L490.20,169.97 L490.90,178.65 L491.60,188.39 L492.30,198.96 L493.00,210.11 L493.70,221.59 L494.40,233.12 L495.10,244.45 L495.80,255.29 L496.50,265.41 L497.20,274.56 L497.90,282.54 L498.60,289.16 L499.30,294.25 L500.00,297.71 L500.70,299.46 L501.05,299.67 L501.40,299.46 L502.10,297.76 L502.80,294.43 L503.50,289.54 L504.20,283.20 L504.90,275.56 L505.60,266.80 L506.30,257.11 L507.00,246.74 L507.70,235.91 L508.40,224.89 L509.10,213.92 L509.80,203.27 L510.50,193.18 L511.20,183.88 L511.90,175.60 L512.60,168.52 L513.30,162.82 L514.00,158.62 L514.70,156.01 L515.40,155.08 L515.44,155.07 L516.10,155.81 L516.80,158.17 L517.50,162.10 L518.20,167.52 L518.90,174.30 L519.60,182.27 L520.30,191.26 L521.00,201.06 L521.70,211.43 L522.40,222.13 L523.10,232.92 L523.80,243.55 L524.50,253.76 L525.20,263.32 L525.90,272.00 L526.60,279.61 L527.30,285.97 L528.00,290.92 L528.70,294.36 L529.40,296.20 L529.84,296.52 L530.10,296.40 L530.80,294.96 L531.50,291.90 L532.20,287.31 L532.90,281.28 L533.60,273.96 L534.30,265.52 L535.00,256.15 L535.70,246.08 L536.40,235.53 L537.10,224.76 L537.80,214.01 L538.40,205.00" stroke="#0000ff" stroke-width="2.0" stroke-dasharray="7.5 7"/>
<path d="M54.80,244.24 L55.50,244.00 L56.20,243.28 L56.90,242.10 L57.60,240.49 L58.30,238.48 L59.00,236.13 L59.70,233.48 L60.40,230.60 L61.10,227.56 L61.80,224.42 L62.50,221.27 L63.20,218.16 L63.90,215.18 L64.60,212.39 L65.30,209.87 L66.00,207.66 L66.70,205.82 L67.40,204.40 L68.10,203.42 L68.80,202.90 L69.19,202.83 L69.50,202.87 L70.20,203.31 L70.90,204.20 L71.60,205.53 L72.30,207.26 L73.00,209.36 L73.70,211.77 L74.40,214.44 L75.10,217.31 L75.80,220.31 L76.50,223.37 L77.20,226.42 L77.90,229.39 L78.60,232.20 L79.30,234.80 L80.00,237.12 L80.70,239.11 L81.40,240.73 L82.10,241.92 L82.80,242.68 L83.50,242.97 L83.59,242.98 L84.20,242.81 L84.90,242.20 L85.60,241.17 L86.30,239.74 L87.00,237.94 L87.70,235.82 L88.40,233.42 L89.10,230.80 L89.80,228.01 L90.50,225.14 L91.20,222.23 L91.90,219.37 L92.60,216.61 L93.30,214.03 L94.00,211.67 L94.70,209.60 L95.40,207.86 L96.10,206.50 L96.80,205.55 L97.50,205.02 L97.98,204.91 L98.20,204.94 L98.90,205.28 L99.60,206.06 L100.30,207.24 L101.00,208.80 L101.70,210.71 L102.40,212.91 L103.10,215.36 L103.80,218.00 L104.50,220.77 L105.20,223.60 L105.90,226.43 L106.60,229.20 L107.30,231.83 L108.00,234.27 L108.70,236.46 L109.40,238.35 L110.10,239.89 L110.80,241.05 L111.50,241.81 L112.20,242.13 L112.38,242.15 L112.90,242.03 L113.60,241.53 L114.30,240.63 L115.00,239.35 L115.70,237.73 L116.40,235.80 L117.10,233.61 L117.80,231.21 L118.50,228.65 L119.20,226.00 L119.90,223.32 L120.60,220.66 L121.30,218.10 L122.00,215.68 L122.70,213.47 L123.40,211.52 L124.10,209.88 L124.80,208.57 L125.50,207.64 L126.20,207.10 L126.78,206.96 L126.90,206.97 L127.60,207.24 L128.30,207.90 L129.00,208.93 L129.70,210.31 L130.40,212.01 L131.10,213.98 L131.80,216.19 L132.50,218.58 L133.20,221.10 L133.90,223.68 L134.60,226.26 L135.30,228.80 L136.00,231.22 L136.70,233.47 L137.40,235.50 L138.10,237.26 L138.80,238.71 L139.50,239.81 L140.20,240.55 L140.90,240.90 L141.17,240.93 L141.60,240.86 L142.30,240.44 L143.00,239.67 L143.70,238.56 L144.40,237.13 L145.10,235.42 L145.80,233.46 L146.50,231.31 L147.20,229.01 L147.90,226.61 L148.60,224.18 L149.30,221.77 L150.00,219.43 L150.70,217.22 L151.40,215.19 L152.10,213.40 L152.80,211.87 L153.50,210.64 L154.20,209.75 L154.90,209.22 L155.56,209.05 L155.60,209.05 L156.30,209.26 L157.00,209.85 L157.70,210.79 L158.40,212.08 L159.10,213.68 L159.80,215.54 L160.50,217.64 L161.20,219.92 L161.90,222.33 L162.60,224.80 L163.30,227.29 L164.00,229.74 L164.70,232.08 L165.40,234.27 L166.10,236.25 L166.80,237.98 L167.50,239.42 L168.20,240.52 L168.90,241.28 L169.60,241.66 L169.96,241.71 L170.30,241.66 L171.00,241.25 L171.70,240.42 L172.40,239.19 L173.10,237.61 L173.80,235.69 L174.50,233.49 L175.20,231.05 L175.90,228.44 L176.60,225.72 L177.30,222.95 L178.00,220.18 L178.70,217.50 L179.40,214.95 L180.10,212.61 L180.80,210.52 L181.50,208.73 L182.20,207.29 L182.90,206.22 L183.60,205.56 L184.30,205.31 L184.35,205.31 L185.00,205.50 L185.70,206.15 L186.40,207.23 L187.10,208.73 L187.80,210.61 L188.50,212.82 L189.20,215.31 L189.90,218.03 L190.60,220.91 L191.30,223.89 L192.00,226.89 L192.70,229.84 L193.40,232.68 L194.10,235.35 L194.80,237.77 L195.50,239.89 L196.20,241.66 L196.90,243.05 L197.60,244.01 L198.30,244.54 L198.75,244.63 L199.00,244.60 L199.70,244.15 L200.40,243.18 L201.10,241.73 L201.80,239.81 L202.50,237.49 L203.20,234.80 L203.90,231.82 L204.60,228.61 L205.30,225.25 L206.00,221.82 L206.70,218.39 L207.40,215.04 L208.10,211.86 L208.80,208.92 L209.50,206.29 L210.20,204.02 L210.90,202.17 L211.60,200.79 L212.30,199.90 L213.00,199.53 L213.15,199.52 L213.70,199.69 L214.40,200.42 L215.10,201.69 L215.80,203.47 L216.50,205.72 L217.20,208.40 L217.90,211.43 L218.60,214.74 L219.30,218.27 L220.00,221.92 L220.70,225.62 L221.40,229.27 L222.10,232.79 L222.80,236.10 L223.50,239.12 L224.20,241.79 L224.90,244.03 L225.60,245.80 L226.30,247.06 L227.00,247.77 L227.54,247.94 L227.70,247.92 L228.40,247.51 L229.10,246.53 L229.80,245.00 L230.50,242.98 L231.20,240.49 L231.90,237.61 L232.60,234.39 L233.30,230.91 L234.00,227.26 L234.70,223.52 L235.40,219.77 L236.10,216.10 L236.80,212.60 L237.50,209.35 L238.20,206.43 L238.90,203.90 L239.60,201.82 L240.30,200.24 L241.00,199.20 L241.70,198.72 L241.94,198.69 L242.40,198.82 L243.10,199.48 L243.80,200.70 L244.50,202.45 L245.20,204.68 L245.90,207.35 L246.60,210.39 L247.30,213.73 L248.00,217.29 L248.70,220.99 L249.40,224.75 L250.10,228.48 L250.80,232.08 L251.50,235.48 L252.20,238.60 L252.90,241.36 L253.60,243.70 L254.30,245.56 L255.00,246.91 L255.70,247.71 L256.33,247.94 L256.40,247.94 L257.10,247.63 L257.80,246.81 L258.50,245.50 L259.20,243.74 L259.90,241.55 L260.60,239.00 L261.30,236.14 L262.00,233.04 L262.70,229.77 L263.40,226.41 L264.10,223.04 L264.80,219.73 L265.50,216.56 L266.20,213.60 L266.90,210.93 L267.60,208.61 L268.30,206.68 L269.00,205.20 L269.70,204.21 L270.40,203.71 L270.73,203.65 L271.10,203.72 L271.80,204.20 L272.50,205.14 L273.20,206.51 L273.90,208.28 L274.60,210.41 L275.30,212.86 L276.00,215.55 L276.70,218.44 L277.40,221.44 L278.10,224.51 L278.80,227.55 L279.50,230.50 L280.20,233.30 L280.90,235.87 L281.60,238.17 L282.30,240.12 L283.00,241.69 L283.70,242.85 L284.40,243.56 L285.10,243.80 L285.12,243.80 L285.80,243.62 L286.50,243.06 L287.20,242.13 L287.90,240.85 L288.60,239.26 L289.30,237.38 L290.00,235.27 L290.70,232.98 L291.40,230.55 L292.10,228.04 L292.80,225.52 L293.50,223.03 L294.20,220.65 L294.90,218.41 L295.60,216.39 L296.30,214.62 L297.00,213.14 L297.70,211.99 L298.40,211.19 L299.10,210.77 L299.51,210.71 L299.80,210.73 L300.50,211.02 L301.20,211.62 L301.90,212.51 L302.60,213.69 L303.30,215.11 L304.00,216.74 L304.70,218.55 L305.40,220.50 L306.10,222.54 L306.80,224.62 L307.50,226.69 L308.20,228.71 L308.90,230.63 L309.60,232.40 L310.30,233.99 L311.00,235.35 L311.70,236.45 L312.40,237.28 L313.10,237.80 L313.80,238.01 L313.91,238.01 L314.50,237.91 L315.20,237.52 L315.90,236.86 L316.60,235.93 L317.30,234.77 L318.00,233.39 L318.70,231.83 L319.40,230.12 L320.10,228.31 L320.80,226.43 L321.50,224.54 L322.20,222.67 L322.90,220.87 L323.60,219.18 L324.30,217.64 L325.00,216.28 L325.70,215.14 L326.40,214.25 L327.10,213.62 L327.80,213.26 L328.31,213.19 L328.50,213.20 L329.20,213.43 L329.90,213.93 L330.60,214.71 L331.30,215.75 L332.00,217.01 L332.70,218.47 L333.40,220.10 L334.10,221.86 L334.80,223.70 L335.50,225.59 L336.20,227.48 L336.90,229.33 L337.60,231.08 L338.30,232.72 L339.00,234.18 L339.70,235.44 L340.40,236.48 L341.10,237.26 L341.80,237.77 L342.50,238.00 L342.70,238.01 L343.20,237.94 L343.90,237.59 L344.60,236.96 L345.30,236.07 L346.00,234.93 L346.70,233.57 L347.40,232.03 L348.10,230.34 L348.80,228.54 L349.50,226.68 L350.20,224.78 L350.90,222.91 L351.60,221.09 L352.30,219.39 L353.00,217.82 L353.70,216.44 L354.40,215.27 L355.10,214.35 L355.80,213.68 L356.50,213.29 L357.10,213.19 L357.20,213.19 L357.90,213.41 L358.60,213.95 L359.30,214.81 L360.00,215.96 L360.70,217.38 L361.40,219.03 L362.10,220.88 L362.80,222.89 L363.50,225.00 L364.20,227.16 L364.90,229.34 L365.60,231.47 L366.30,233.50 L367.00,235.40 L367.70,237.11 L368.40,238.59 L369.10,239.82 L369.80,240.76 L370.50,241.38 L371.20,241.69 L371.49,241.71 L371.90,241.65 L372.60,241.26 L373.30,240.50 L374.00,239.41 L374.70,238.01 L375.40,236.33 L376.10,234.41 L376.80,232.29 L377.50,230.02 L378.20,227.66 L378.90,225.27 L379.60,222.88 L380.30,220.58 L381.00,218.39 L381.70,216.39 L382.40,214.61 L383.10,213.09 L383.80,211.87 L384.50,210.99 L385.20,210.45 L385.88,210.27 L385.90,210.27 L386.60,210.46 L387.30,210.99 L388.00,211.85 L388.70,213.04 L389.40,214.51 L390.10,216.23 L390.80,218.16 L391.50,220.27 L392.20,222.49 L392.90,224.78 L393.60,227.09 L394.30,229.35 L395.00,231.52 L395.70,233.55 L396.40,235.39 L397.10,237.00 L397.80,238.33 L398.50,239.37 L399.20,240.08 L399.90,240.44 L400.28,240.49 L400.60,240.45 L401.30,240.07 L402.00,239.31 L402.70,238.18 L403.40,236.71 L404.10,234.93 L404.80,232.89 L405.50,230.63 L406.20,228.20 L406.90,225.66 L407.60,223.08 L408.30,220.50 L409.00,218.00 L409.70,215.62 L410.40,213.43 L411.10,211.48 L411.80,209.80 L412.50,208.45 L413.20,207.44 L413.90,206.81 L414.60,206.57 L414.68,206.57 L415.30,206.74 L416.00,207.31 L416.70,208.28 L417.40,209.62 L418.10,211.31 L418.80,213.30 L419.50,215.55 L420.20,218.01 L420.90,220.61 L421.60,223.30 L422.30,226.02 L423.00,228.69 L423.70,231.27 L424.40,233.68 L425.10,235.88 L425.80,237.81 L426.50,239.42 L427.20,240.69 L427.90,241.57 L428.60,242.05 L429.07,242.15 L429.30,242.13 L430.00,241.80 L430.70,241.07 L431.40,239.98 L432.10,238.53 L432.80,236.77 L433.50,234.73 L434.20,232.47 L434.90,230.03 L435.60,227.48 L436.30,224.87 L437.00,222.26 L437.70,219.71 L438.40,217.29 L439.10,215.05 L439.80,213.03 L440.50,211.30 L441.20,209.88 L441.90,208.82 L442.60,208.14 L443.30,207.84 L443.46,207.83 L444.00,207.94 L444.70,208.40 L445.40,209.21 L446.10,210.36 L446.80,211.81 L447.50,213.53 L448.20,215.49 L448.90,217.64 L449.60,219.92 L450.30,222.29 L451.00,224.69 L451.70,227.06 L452.40,229.34 L453.10,231.50 L453.80,233.46 L454.50,235.20 L455.20,236.66 L455.90,237.82 L456.60,238.64 L457.30,239.12 L457.86,239.23 L458.00,239.23 L458.70,238.99 L459.40,238.41 L460.10,237.51 L460.80,236.31 L461.50,234.84 L462.20,233.13 L462.90,231.21 L463.60,229.15 L464.30,226.97 L465.00,224.74 L465.70,222.50 L466.40,220.32 L467.10,218.23 L467.80,216.29 L468.50,214.54 L469.20,213.02 L469.90,211.78 L470.60,210.83 L471.30,210.20 L472.00,209.90 L472.25,209.88 L472.70,209.95 L473.40,210.34 L474.10,211.05 L474.80,212.09 L475.50,213.41 L476.20,214.99 L476.90,216.80 L477.60,218.78 L478.30,220.90 L479.00,223.11 L479.70,225.35 L480.40,227.57 L481.10,229.72 L481.80,231.75 L482.50,233.61 L483.20,235.27 L483.90,236.67 L484.60,237.79 L485.30,238.60 L486.00,239.08 L486.65,239.23 L486.70,239.23 L487.40,239.04 L488.10,238.53 L488.80,237.71 L489.50,236.60 L490.20,235.22 L490.90,233.60 L491.60,231.79 L492.30,229.83 L493.00,227.75 L493.70,225.62 L494.40,223.47 L495.10,221.37 L495.80,219.35 L496.50,217.47 L497.20,215.77 L497.90,214.29 L498.60,213.06 L499.30,212.11 L500.00,211.47 L500.70,211.14 L501.05,211.10 L501.40,211.15 L502.10,211.50 L502.80,212.20 L503.50,213.22 L504.20,214.54 L504.90,216.14 L505.60,217.97 L506.30,220.00 L507.00,222.16 L507.70,224.43 L508.40,226.73 L509.10,229.02 L509.80,231.25 L510.50,233.36 L511.20,235.30 L511.90,237.03 L512.60,238.51 L513.30,239.70 L514.00,240.58 L514.70,241.12 L515.40,241.32 L515.44,241.32 L516.10,241.13 L516.80,240.52 L517.50,239.51 L518.20,238.12 L518.90,236.37 L519.60,234.32 L520.30,232.01 L521.00,229.49 L521.70,226.82 L522.40,224.06 L523.10,221.28 L523.80,218.55 L524.50,215.92 L525.20,213.46 L525.90,211.22 L526.60,209.27 L527.30,207.63 L528.00,206.36 L528.70,205.47 L529.40,205.00 L529.84,204.91 L530.10,204.95 L530.80,205.32 L531.50,206.10 L532.20,207.29 L532.90,208.84 L533.60,210.72 L534.30,212.89 L535.00,215.31 L535.70,217.90 L536.40,220.61 L537.10,223.39 L537.80,226.15 L538.40,228.47" stroke="#000000" stroke-width="2.0" stroke-dasharray="7.5 7"/>
<path d="M54.80,221.66 L55.50,221.71 L56.20,221.84 L56.90,222.07 L57.60,222.37 L58.30,222.75 L59.00,223.20 L59.70,223.71 L60.40,224.25 L61.10,224.83 L61.80,225.43 L62.50,226.03 L63.20,226.62 L63.90,227.19 L64.60,227.72 L65.30,228.20 L66.00,228.62 L66.70,228.97 L67.40,229.24 L68.10,229.43 L68.80,229.53 L69.19,229.54 L69.50,229.53 L70.20,229.45 L70.90,229.28 L71.60,229.04 L72.30,228.71 L73.00,228.32 L73.70,227.87 L74.40,227.37 L75.10,226.84 L75.80,226.28 L76.50,225.71 L77.20,225.14 L77.90,224.59 L78.60,224.06 L79.30,223.58 L80.00,223.15 L80.70,222.77 L81.40,222.47 L82.10,222.25 L82.80,222.11 L83.50,222.05 L83.59,222.05 L84.20,222.08 L84.90,222.19 L85.60,222.37 L86.30,222.62 L87.00,222.94 L87.70,223.31 L88.40,223.74 L89.10,224.20 L89.80,224.69 L90.50,225.19 L91.20,225.70 L91.90,226.21 L92.60,226.69 L93.30,227.15 L94.00,227.56 L94.70,227.93 L95.40,228.23 L96.10,228.47 L96.80,228.64 L97.50,228.73 L97.98,228.75 L98.20,228.75 L98.90,228.69 L99.60,228.56 L100.30,228.36 L101.00,228.09 L101.70,227.77 L102.40,227.40 L103.10,226.98 L103.80,226.54 L104.50,226.07 L105.20,225.59 L105.90,225.11 L106.60,224.64 L107.30,224.19 L108.00,223.78 L108.70,223.41 L109.40,223.09 L110.10,222.83 L110.80,222.63 L111.50,222.51 L112.20,222.45 L112.38,222.45 L112.90,222.47 L113.60,222.55 L114.30,222.69 L115.00,222.89 L115.70,223.14 L116.40,223.44 L117.10,223.79 L117.80,224.16 L118.50,224.56 L119.20,224.98 L119.90,225.40 L120.60,225.82 L121.30,226.22 L122.00,226.60 L122.70,226.94 L123.40,227.25 L124.10,227.51 L124.80,227.71 L125.50,227.86 L126.20,227.94 L126.78,227.96 L126.90,227.96 L127.60,227.92 L128.30,227.82 L129.00,227.66 L129.70,227.45 L130.40,227.18 L131.10,226.88 L131.80,226.54 L132.50,226.17 L133.20,225.78 L133.90,225.38 L134.60,224.98 L135.30,224.59 L136.00,224.21 L136.70,223.86 L137.40,223.55 L138.10,223.28 L138.80,223.05 L139.50,222.88 L140.20,222.77 L140.90,222.72 L141.17,222.71 L141.60,222.72 L142.30,222.79 L143.00,222.91 L143.70,223.09 L144.40,223.32 L145.10,223.60 L145.80,223.91 L146.50,224.26 L147.20,224.63 L147.90,225.01 L148.60,225.40 L149.30,225.79 L150.00,226.16 L150.70,226.52 L151.40,226.85 L152.10,227.13 L152.80,227.38 L153.50,227.58 L154.20,227.72 L154.90,227.81 L155.56,227.83 L155.60,227.83 L156.30,227.80 L157.00,227.71 L157.70,227.57 L158.40,227.38 L159.10,227.14 L159.80,226.87 L160.50,226.55 L161.20,226.22 L161.90,225.86 L162.60,225.49 L163.30,225.12 L164.00,224.75 L164.70,224.41 L165.40,224.08 L166.10,223.79 L166.80,223.53 L167.50,223.32 L168.20,223.15 L168.90,223.04 L169.60,222.98 L169.96,222.97 L170.30,222.98 L171.00,223.03 L171.70,223.14 L172.40,223.30 L173.10,223.51 L173.80,223.76 L174.50,224.04 L175.20,224.36 L175.90,224.70 L176.60,225.05 L177.30,225.41 L178.00,225.77 L178.70,226.12 L179.40,226.45 L180.10,226.75 L180.80,227.02 L181.50,227.26 L182.20,227.44 L182.90,227.58 L183.60,227.67 L184.30,227.70 L184.35,227.70 L185.00,227.68 L185.70,227.61 L186.40,227.48 L187.10,227.31 L187.80,227.10 L188.50,226.85 L189.20,226.57 L189.90,226.26 L190.60,225.93 L191.30,225.59 L192.00,225.25 L192.70,224.92 L193.40,224.59 L194.10,224.29 L194.80,224.02 L195.50,223.77 L196.20,223.57 L196.90,223.42 L197.60,223.31 L198.30,223.25 L198.75,223.24 L199.00,223.24 L199.70,223.28 L200.40,223.37 L201.10,223.51 L201.80,223.70 L202.50,223.92 L203.20,224.18 L203.90,224.47 L204.60,224.77 L205.30,225.10 L206.00,225.43 L206.70,225.76 L207.40,226.08 L208.10,226.38 L208.80,226.67 L209.50,226.92 L210.20,227.14 L210.90,227.32 L211.60,227.45 L212.30,227.53 L213.00,227.57 L213.15,227.57 L213.70,227.55 L214.40,227.49 L215.10,227.38 L215.80,227.22 L216.50,227.01 L217.20,226.78 L217.90,226.50 L218.60,226.21 L219.30,225.89 L220.00,225.56 L220.70,225.23 L221.40,224.91 L222.10,224.59 L222.80,224.30 L223.50,224.03 L224.20,223.79 L224.90,223.59 L225.60,223.43 L226.30,223.31 L227.00,223.25 L227.54,223.24 L227.70,223.24 L228.40,223.27 L229.10,223.36 L229.80,223.49 L230.50,223.67 L231.20,223.89 L231.90,224.15 L232.60,224.43 L233.30,224.73 L234.00,225.06 L234.70,225.39 L235.40,225.72 L236.10,226.04 L236.80,226.35 L237.50,226.63 L238.20,226.89 L238.90,227.11 L239.60,227.29 L240.30,227.43 L241.00,227.53 L241.70,227.57 L241.94,227.57 L242.40,227.55 L243.10,227.47 L243.80,227.32 L244.50,227.10 L245.20,226.82 L245.90,226.48 L246.60,226.10 L247.30,225.69 L248.00,225.24 L248.70,224.77 L249.40,224.30 L250.10,223.84 L250.80,223.39 L251.50,222.96 L252.20,222.57 L252.90,222.22 L253.60,221.93 L254.30,221.70 L255.00,221.53 L255.70,221.43 L256.33,221.40 L256.40,221.40 L257.10,221.44 L257.80,221.56 L258.50,221.76 L259.20,222.02 L259.90,222.34 L260.60,222.72 L261.30,223.15 L262.00,223.61 L262.70,224.09 L263.40,224.59 L264.10,225.09 L264.80,225.58 L265.50,226.05 L266.20,226.49 L266.90,226.88 L267.60,227.23 L268.30,227.51 L269.00,227.73 L269.70,227.88 L270.40,227.96 L270.73,227.96 L271.10,227.95 L271.80,227.85 L272.50,227.65 L273.20,227.37 L273.90,226.99 L274.60,226.55 L275.30,226.04 L276.00,225.47 L276.70,224.87 L277.40,224.24 L278.10,223.60 L278.80,222.96 L279.50,222.34 L280.20,221.76 L280.90,221.22 L281.60,220.74 L282.30,220.33 L283.00,220.00 L283.70,219.76 L284.40,219.61 L285.10,219.56 L285.12,219.56 L285.80,219.61 L286.50,219.76 L287.20,220.00 L287.90,220.34 L288.60,220.77 L289.30,221.27 L290.00,221.83 L290.70,222.44 L291.40,223.08 L292.10,223.75 L292.80,224.42 L293.50,225.08 L294.20,225.72 L294.90,226.31 L295.60,226.85 L296.30,227.32 L297.00,227.71 L297.70,228.02 L298.40,228.23 L299.10,228.34 L299.51,228.36 L299.80,228.35 L300.50,228.24 L301.20,228.00 L301.90,227.65 L302.60,227.20 L303.30,226.64 L304.00,226.01 L304.70,225.30 L305.40,224.54 L306.10,223.75 L306.80,222.94 L307.50,222.13 L308.20,221.34 L308.90,220.60 L309.60,219.90 L310.30,219.29 L311.00,218.76 L311.70,218.33 L312.40,218.01 L313.10,217.80 L313.80,217.72 L313.91,217.72 L314.50,217.77 L315.20,217.95 L315.90,218.26 L316.60,218.69 L317.30,219.24 L318.00,219.89 L318.70,220.62 L319.40,221.42 L320.10,222.26 L320.80,223.14 L321.50,224.03 L322.20,224.90 L322.90,225.75 L323.60,226.54 L324.30,227.26 L325.00,227.90 L325.70,228.43 L326.40,228.85 L327.10,229.14 L327.80,229.31 L328.31,229.34 L328.50,229.34 L329.20,229.24 L329.90,229.01 L330.60,228.67 L331.30,228.21 L332.00,227.64 L332.70,226.99 L333.40,226.27 L334.10,225.49 L334.80,224.67 L335.50,223.83 L336.20,222.99 L336.90,222.17 L337.60,221.39 L338.30,220.66 L339.00,220.01 L339.70,219.45 L340.40,218.99 L341.10,218.64 L341.80,218.42 L342.50,218.32 L342.70,218.31 L343.20,218.35 L343.90,218.52 L344.60,218.82 L345.30,219.25 L346.00,219.80 L346.70,220.46 L347.40,221.20 L348.10,222.02 L348.80,222.89 L349.50,223.80 L350.20,224.72 L350.90,225.62 L351.60,226.50 L352.30,227.33 L353.00,228.08 L353.70,228.75 L354.40,229.32 L355.10,229.77 L355.80,230.09 L356.50,230.28 L357.10,230.33 L357.20,230.33 L357.90,230.24 L358.60,230.02 L359.30,229.68 L360.00,229.22 L360.70,228.65 L361.40,227.99 L362.10,227.25 L362.80,226.44 L363.50,225.60 L364.20,224.73 L364.90,223.86 L365.60,223.01 L366.30,222.19 L367.00,221.43 L367.70,220.75 L368.40,220.15 L369.10,219.66 L369.80,219.29 L370.50,219.03 L371.20,218.91 L371.49,218.90 L371.90,218.92 L372.60,219.06 L373.30,219.32 L374.00,219.70 L374.70,220.19 L375.40,220.77 L376.10,221.44 L376.80,222.17 L377.50,222.96 L378.20,223.77 L378.90,224.61 L379.60,225.43 L380.30,226.23 L381.00,226.99 L381.70,227.68 L382.40,228.30 L383.10,228.83 L383.80,229.25 L384.50,229.56 L385.20,229.74 L385.88,229.80 L385.90,229.80 L386.60,229.74 L387.30,229.57 L388.00,229.28 L388.70,228.90 L389.40,228.41 L390.10,227.85 L390.80,227.21 L391.50,226.52 L392.20,225.79 L392.90,225.04 L393.60,224.29 L394.30,223.54 L395.00,222.83 L395.70,222.16 L396.40,221.56 L397.10,221.03 L397.80,220.60 L398.50,220.26 L399.20,220.02 L399.90,219.90 L400.28,219.89 L400.60,219.90 L401.30,220.00 L402.00,220.21 L402.70,220.53 L403.40,220.93 L404.10,221.43 L404.80,221.99 L405.50,222.62 L406.20,223.29 L406.90,223.99 L407.60,224.71 L408.30,225.42 L409.00,226.11 L409.70,226.77 L410.40,227.38 L411.10,227.92 L411.80,228.38 L412.50,228.76 L413.20,229.04 L413.90,229.21 L414.60,229.28 L414.68,229.28 L415.30,229.24 L416.00,229.10 L416.70,228.87 L417.40,228.56 L418.10,228.16 L418.80,227.69 L419.50,227.15 L420.20,226.57 L420.90,225.96 L421.60,225.32 L422.30,224.68 L423.00,224.05 L423.70,223.44 L424.40,222.87 L425.10,222.35 L425.80,221.90 L426.50,221.52 L427.20,221.22 L427.90,221.01 L428.60,220.89 L429.07,220.87 L429.30,220.88 L430.00,220.95 L430.70,221.12 L431.40,221.37 L432.10,221.70 L432.80,222.11 L433.50,222.57 L434.20,223.09 L434.90,223.65 L435.60,224.24 L436.30,224.84 L437.00,225.44 L437.70,226.02 L438.40,226.58 L439.10,227.10 L439.80,227.56 L440.50,227.96 L441.20,228.28 L441.90,228.52 L442.60,228.68 L443.30,228.75 L443.46,228.75 L444.00,228.73 L444.70,228.63 L445.40,228.46 L446.10,228.21 L446.80,227.90 L447.50,227.54 L448.20,227.12 L448.90,226.66 L449.60,226.17 L450.30,225.67 L451.00,225.16 L451.70,224.65 L452.40,224.16 L453.10,223.70 L453.80,223.28 L454.50,222.91 L455.20,222.60 L455.90,222.36 L456.60,222.18 L457.30,222.08 L457.86,222.05 L458.00,222.06 L458.70,222.11 L459.40,222.23 L460.10,222.42 L460.80,222.68 L461.50,223.00 L462.20,223.37 L462.90,223.78 L463.60,224.22 L464.30,224.69 L465.00,225.17 L465.70,225.65 L466.40,226.12 L467.10,226.56 L467.80,226.98 L468.50,227.36 L469.20,227.68 L469.90,227.95 L470.60,228.15 L471.30,228.29 L472.00,228.35 L472.25,228.36 L472.70,228.35 L473.40,228.28 L474.10,228.15 L474.80,227.97 L475.50,227.74 L476.20,227.47 L476.90,227.15 L477.60,226.80 L478.30,226.43 L479.00,226.05 L479.70,225.66 L480.40,225.27 L481.10,224.90 L481.80,224.54 L482.50,224.22 L483.20,223.93 L483.90,223.68 L484.60,223.49 L485.30,223.35 L486.00,223.26 L486.65,223.24 L486.70,223.24 L487.40,223.27 L488.10,223.35 L488.80,223.49 L489.50,223.68 L490.20,223.91 L490.90,224.18 L491.60,224.49 L492.30,224.82 L493.00,225.17 L493.70,225.52 L494.40,225.88 L495.10,226.24 L495.80,226.58 L496.50,226.89 L497.20,227.18 L497.90,227.43 L498.60,227.64 L499.30,227.79 L500.00,227.90 L500.70,227.96 L501.05,227.96 L501.40,227.96 L502.10,227.89 L502.80,227.76 L503.50,227.58 L504.20,227.34 L504.90,227.04 L505.60,226.71 L506.30,226.34 L507.00,225.94 L507.70,225.53 L508.40,225.11 L509.10,224.69 L509.80,224.29 L510.50,223.90 L511.20,223.55 L511.90,223.23 L512.60,222.96 L513.30,222.74 L514.00,222.58 L514.70,222.48 L515.40,222.45 L515.44,222.45 L516.10,222.48 L516.80,222.59 L517.50,222.76 L518.20,223.00 L518.90,223.30 L519.60,223.66 L520.30,224.06 L521.00,224.50 L521.70,224.96 L522.40,225.44 L523.10,225.92 L523.80,226.39 L524.50,226.85 L525.20,227.27 L525.90,227.66 L526.60,228.00 L527.30,228.28 L528.00,228.50 L528.70,228.66 L529.40,228.74 L529.84,228.75 L530.10,228.75 L530.80,228.68 L531.50,228.55 L532.20,228.34 L532.90,228.07 L533.60,227.75 L534.30,227.37 L535.00,226.95 L535.70,226.50 L536.40,226.03 L537.10,225.55 L537.80,225.07 L538.40,224.67" stroke="#00ff00" stroke-width="2.0" stroke-dasharray="7.5 7"/>
<path d="M54.80,235.92 L55.50,235.80 L56.20,235.42 L56.90,234.81 L57.60,233.98 L58.30,232.93 L59.00,231.71 L59.70,230.34 L60.40,228.84 L61.10,227.26 L61.80,225.63 L62.50,223.99 L63.20,222.38 L63.90,220.83 L64.60,219.38 L65.30,218.07 L66.00,216.92 L66.70,215.97 L67.40,215.23 L68.10,214.72 L68.80,214.45 L69.19,214.41 L69.50,214.43 L70.20,214.67 L70.90,215.16 L71.60,215.89 L72.30,216.83 L73.00,217.98 L73.70,219.30 L74.40,220.76 L75.10,222.33 L75.80,223.97 L76.50,225.64 L77.20,227.31 L77.90,228.93 L78.60,230.47 L79.30,231.89 L80.00,233.16 L80.70,234.25 L81.40,235.13 L82.10,235.78 L82.80,236.19 L83.50,236.35 L83.59,236.36 L84.20,236.26 L84.90,235.91 L85.60,235.32 L86.30,234.49 L87.00,233.46 L87.70,232.23 L88.40,230.85 L89.10,229.33 L89.80,227.73 L90.50,226.07 L91.20,224.40 L91.90,222.75 L92.60,221.16 L93.30,219.66 L94.00,218.31 L94.70,217.11 L95.40,216.11 L96.10,215.33 L96.80,214.78 L97.50,214.47 L97.98,214.41 L98.20,214.42 L98.90,214.63 L99.60,215.08 L100.30,215.78 L101.00,216.70 L101.70,217.82 L102.40,219.12 L103.10,220.57 L103.80,222.12 L104.50,223.75 L105.20,225.43 L105.90,227.09 L106.60,228.72 L107.30,230.28 L108.00,231.71 L108.70,233.00 L109.40,234.12 L110.10,235.03 L110.80,235.71 L111.50,236.15 L112.20,236.35 L112.38,236.36 L112.90,236.29 L113.60,235.97 L114.30,235.41 L115.00,234.61 L115.70,233.60 L116.40,232.40 L117.10,231.03 L117.80,229.53 L118.50,227.94 L119.20,226.29 L119.90,224.61 L120.60,222.95 L121.30,221.35 L122.00,219.85 L122.70,218.47 L123.40,217.25 L124.10,216.23 L124.80,215.41 L125.50,214.83 L126.20,214.50 L126.78,214.41 L126.90,214.41 L127.60,214.58 L128.30,215.00 L129.00,215.65 L129.70,216.53 L130.40,217.60 L131.10,218.86 L131.80,220.26 L132.50,221.77 L133.20,223.36 L133.90,225.00 L134.60,226.64 L135.30,228.24 L136.00,229.77 L136.70,231.20 L137.40,232.48 L138.10,233.60 L138.80,234.52 L139.50,235.22 L140.20,235.68 L140.90,235.90 L141.17,235.92 L141.60,235.88 L142.30,235.60 L143.00,235.08 L143.70,234.32 L144.40,233.36 L145.10,232.20 L145.80,230.88 L146.50,229.43 L147.20,227.88 L147.90,226.26 L148.60,224.62 L149.30,222.99 L150.00,221.41 L150.70,219.92 L151.40,218.56 L152.10,217.34 L152.80,216.31 L153.50,215.48 L154.20,214.88 L154.90,214.52 L155.56,214.41 L155.60,214.41 L156.30,214.55 L157.00,214.93 L157.70,215.56 L158.40,216.40 L159.10,217.46 L159.80,218.69 L160.50,220.07 L161.20,221.57 L161.90,223.15 L162.60,224.79 L163.30,226.43 L164.00,228.04 L164.70,229.58 L165.40,231.02 L166.10,232.33 L166.80,233.46 L167.50,234.41 L168.20,235.14 L168.90,235.64 L169.60,235.89 L169.96,235.92 L170.30,235.89 L171.00,235.65 L171.70,235.16 L172.40,234.43 L173.10,233.49 L173.80,232.36 L174.50,231.06 L175.20,229.62 L175.90,228.08 L176.60,226.47 L177.30,224.83 L178.00,223.20 L178.70,221.61 L179.40,220.11 L180.10,218.72 L180.80,217.49 L181.50,216.43 L182.20,215.58 L182.90,214.95 L183.60,214.56 L184.30,214.41 L184.35,214.41 L185.00,214.52 L185.70,214.89 L186.40,215.51 L187.10,216.36 L187.80,217.43 L188.50,218.68 L189.20,220.10 L189.90,221.65 L190.60,223.29 L191.30,224.98 L192.00,226.69 L192.70,228.37 L193.40,229.99 L194.10,231.51 L194.80,232.88 L195.50,234.09 L196.20,235.10 L196.90,235.89 L197.60,236.44 L198.30,236.74 L198.75,236.79 L199.00,236.77 L199.70,236.55 L200.40,236.06 L201.10,235.32 L201.80,234.36 L202.50,233.18 L203.20,231.83 L203.90,230.32 L204.60,228.70 L205.30,227.01 L206.00,225.27 L206.70,223.54 L207.40,221.85 L208.10,220.25 L208.80,218.76 L209.50,217.43 L210.20,216.29 L210.90,215.36 L211.60,214.66 L212.30,214.21 L213.00,214.02 L213.15,214.02 L213.70,214.10 L214.40,214.44 L215.10,215.04 L215.80,215.87 L216.50,216.93 L217.20,218.19 L217.90,219.62 L218.60,221.18 L219.30,222.83 L220.00,224.55 L220.70,226.29 L221.40,228.01 L222.10,229.66 L222.80,231.22 L223.50,232.64 L224.20,233.90 L224.90,234.95 L225.60,235.78 L226.30,236.38 L227.00,236.71 L227.54,236.79 L227.70,236.78 L228.40,236.59 L229.10,236.15 L229.80,235.46 L230.50,234.53 L231.20,233.41 L231.90,232.09 L232.60,230.63 L233.30,229.05 L234.00,227.39 L234.70,225.69 L235.40,223.99 L236.10,222.32 L236.80,220.73 L237.50,219.26 L238.20,217.93 L238.90,216.78 L239.60,215.83 L240.30,215.12 L241.00,214.64 L241.70,214.43 L241.94,214.41 L242.40,214.47 L243.10,214.77 L243.80,215.32 L244.50,216.12 L245.20,217.13 L245.90,218.34 L246.60,219.73 L247.30,221.24 L248.00,222.86 L248.70,224.55 L249.40,226.25 L250.10,227.95 L250.80,229.58 L251.50,231.13 L252.20,232.54 L252.90,233.80 L253.60,234.86 L254.30,235.71 L255.00,236.32 L255.70,236.68 L256.33,236.79 L256.40,236.79 L257.10,236.63 L257.80,236.22 L258.50,235.56 L259.20,234.67 L259.90,233.56 L260.60,232.27 L261.30,230.83 L262.00,229.26 L262.70,227.61 L263.40,225.91 L264.10,224.21 L264.80,222.53 L265.50,220.93 L266.20,219.44 L266.90,218.09 L267.60,216.91 L268.30,215.94 L269.00,215.19 L269.70,214.69 L270.40,214.44 L270.73,214.41 L271.10,214.45 L271.80,214.71 L272.50,215.21 L273.20,215.94 L273.90,216.89 L274.60,218.03 L275.30,219.34 L276.00,220.78 L276.70,222.33 L277.40,223.94 L278.10,225.58 L278.80,227.21 L279.50,228.80 L280.20,230.30 L280.90,231.67 L281.60,232.90 L282.30,233.95 L283.00,234.79 L283.70,235.41 L284.40,235.79 L285.10,235.92 L285.12,235.92 L285.80,235.80 L286.50,235.44 L287.20,234.83 L287.90,234.00 L288.60,232.97 L289.30,231.75 L290.00,230.38 L290.70,228.89 L291.40,227.31 L292.10,225.68 L292.80,224.04 L293.50,222.42 L294.20,220.87 L294.90,219.42 L295.60,218.10 L296.30,216.95 L297.00,215.99 L297.70,215.24 L298.40,214.73 L299.10,214.45 L299.51,214.41 L299.80,214.43 L300.50,214.66 L301.20,215.13 L301.90,215.83 L302.60,216.76 L303.30,217.88 L304.00,219.16 L304.70,220.59 L305.40,222.13 L306.10,223.73 L306.80,225.37 L307.50,227.01 L308.20,228.60 L308.90,230.11 L309.60,231.51 L310.30,232.75 L311.00,233.83 L311.70,234.70 L312.40,235.34 L313.10,235.76 L313.80,235.92 L313.91,235.92 L314.50,235.83 L315.20,235.50 L315.90,234.92 L316.60,234.12 L317.30,233.11 L318.00,231.91 L318.70,230.56 L319.40,229.08 L320.10,227.51 L320.80,225.89 L321.50,224.25 L322.20,222.63 L322.90,221.07 L323.60,219.60 L324.30,218.26 L325.00,217.09 L325.70,216.10 L326.40,215.33 L327.10,214.78 L327.80,214.48 L328.31,214.41 L328.50,214.42 L329.20,214.61 L329.90,215.06 L330.60,215.73 L331.30,216.63 L332.00,217.72 L332.70,218.99 L333.40,220.40 L334.10,221.93 L334.80,223.52 L335.50,225.16 L336.20,226.80 L336.90,228.40 L337.60,229.92 L338.30,231.33 L339.00,232.60 L339.70,233.70 L340.40,234.60 L341.10,235.27 L341.80,235.72 L342.50,235.91 L342.70,235.92 L343.20,235.86 L343.90,235.56 L344.60,235.01 L345.30,234.24 L346.00,233.25 L346.70,232.08 L347.40,230.74 L348.10,229.28 L348.80,227.72 L349.50,226.10 L350.20,224.46 L350.90,222.83 L351.60,221.26 L352.30,219.78 L353.00,218.43 L353.70,217.23 L354.40,216.22 L355.10,215.41 L355.80,214.84 L356.50,214.50 L357.10,214.41 L357.20,214.41 L357.90,214.58 L358.60,214.99 L359.30,215.63 L360.00,216.50 L360.70,217.57 L361.40,218.82 L362.10,220.21 L362.80,221.72 L363.50,223.32 L364.20,224.95 L364.90,226.59 L365.60,228.19 L366.30,229.73 L367.00,231.16 L367.70,232.45 L368.40,233.57 L369.10,234.49 L369.80,235.20 L370.50,235.67 L371.20,235.90 L371.49,235.92 L371.90,235.88 L372.60,235.61 L373.30,235.09 L374.00,234.35 L374.70,233.39 L375.40,232.24 L376.10,230.92 L376.80,229.47 L377.50,227.92 L378.20,226.31 L378.90,224.67 L379.60,223.04 L380.30,221.46 L381.00,219.97 L381.70,218.59 L382.40,217.37 L383.10,216.34 L383.80,215.50 L384.50,214.90 L385.20,214.53 L385.88,214.41 L385.90,214.41 L386.60,214.54 L387.30,214.92 L388.00,215.54 L388.70,216.38 L389.40,217.42 L390.10,218.65 L390.80,220.03 L391.50,221.53 L392.20,223.11 L392.90,224.74 L393.60,226.38 L394.30,227.99 L395.00,229.54 L395.70,230.98 L396.40,232.29 L397.10,233.43 L397.80,234.39 L398.50,235.12 L399.20,235.63 L399.90,235.89 L400.28,235.92 L400.60,235.90 L401.30,235.66 L402.00,235.17 L402.70,234.46 L403.40,233.52 L404.10,232.40 L404.80,231.10 L405.50,229.67 L406.20,228.13 L406.90,226.52 L407.60,224.88 L408.30,223.25 L409.00,221.66 L409.70,220.15 L410.40,218.76 L411.10,217.52 L411.80,216.46 L412.50,215.60 L413.20,214.96 L413.90,214.56 L414.60,214.41 L414.68,214.41 L415.30,214.51 L416.00,214.86 L416.70,215.44 L417.40,216.26 L418.10,217.28 L418.80,218.48 L419.50,219.84 L420.20,221.33 L420.90,222.90 L421.60,224.53 L422.30,226.17 L423.00,227.79 L423.70,229.34 L424.40,230.80 L425.10,232.13 L425.80,233.30 L426.50,234.27 L427.20,235.04 L427.90,235.57 L428.60,235.87 L429.07,235.92 L429.30,235.91 L430.00,235.70 L430.70,235.25 L431.40,234.56 L432.10,233.66 L432.80,232.55 L433.50,231.28 L434.20,229.86 L434.90,228.33 L435.60,226.73 L436.30,225.09 L437.00,223.45 L437.70,221.86 L438.40,220.34 L439.10,218.93 L439.80,217.67 L440.50,216.58 L441.20,215.70 L441.90,215.03 L442.60,214.60 L443.30,214.42 L443.46,214.41 L444.00,214.48 L444.70,214.80 L445.40,215.36 L446.10,216.14 L446.80,217.14 L447.50,218.32 L448.20,219.66 L448.90,221.13 L449.60,222.69 L450.30,224.32 L451.00,225.96 L451.70,227.58 L452.40,229.15 L453.10,230.62 L453.80,231.97 L454.50,233.16 L455.20,234.16 L455.90,234.95 L456.60,235.52 L457.30,235.84 L457.86,235.92 L458.00,235.92 L458.70,235.74 L459.40,235.31 L460.10,234.64 L460.80,233.74 L461.50,232.64 L462.20,231.37 L462.90,229.94 L463.60,228.40 L464.30,226.77 L465.00,225.11 L465.70,223.44 L466.40,221.81 L467.10,220.25 L467.80,218.80 L468.50,217.49 L469.20,216.36 L469.90,215.43 L470.60,214.72 L471.30,214.25 L472.00,214.03 L472.25,214.02 L472.70,214.07 L473.40,214.34 L474.10,214.86 L474.80,215.60 L475.50,216.56 L476.20,217.69 L476.90,218.99 L477.60,220.42 L478.30,221.95 L479.00,223.53 L479.70,225.15 L480.40,226.74 L481.10,228.29 L481.80,229.75 L482.50,231.09 L483.20,232.28 L483.90,233.29 L484.60,234.10 L485.30,234.68 L486.00,235.03 L486.65,235.13 L486.70,235.13 L487.40,234.99 L488.10,234.60 L488.80,233.97 L489.50,233.12 L490.20,232.06 L490.90,230.83 L491.60,229.45 L492.30,227.94 L493.00,226.36 L493.70,224.72 L494.40,223.08 L495.10,221.47 L495.80,219.93 L496.50,218.49 L497.20,217.19 L497.90,216.06 L498.60,215.12 L499.30,214.39 L500.00,213.90 L500.70,213.65 L501.05,213.62 L501.40,213.66 L502.10,213.93 L502.80,214.46 L503.50,215.25 L504.20,216.26 L504.90,217.49 L505.60,218.89 L506.30,220.44 L507.00,222.10 L507.70,223.84 L508.40,225.60 L509.10,227.36 L509.80,229.07 L510.50,230.68 L511.20,232.17 L511.90,233.50 L512.60,234.63 L513.30,235.55 L514.00,236.22 L514.70,236.64 L515.40,236.79 L515.44,236.79 L516.10,236.67 L516.80,236.29 L517.50,235.66 L518.20,234.79 L518.90,233.69 L519.60,232.41 L520.30,230.96 L521.00,229.39 L521.70,227.72 L522.40,225.99 L523.10,224.26 L523.80,222.55 L524.50,220.90 L525.20,219.36 L525.90,217.96 L526.60,216.74 L527.30,215.71 L528.00,214.92 L528.70,214.36 L529.40,214.07 L529.84,214.02 L530.10,214.04 L530.80,214.27 L531.50,214.76 L532.20,215.50 L532.90,216.47 L533.60,217.65 L534.30,219.01 L535.00,220.52 L535.70,222.14 L536.40,223.84 L537.10,225.57 L537.80,227.30 L538.40,228.75" stroke="#ff0000" stroke-width="2.0" stroke-dasharray="2 1.75"/>
<path d="M54.80,209.05 L55.50,209.23 L56.20,209.77 L56.90,210.65 L57.60,211.86 L58.30,213.36 L59.00,215.13 L59.70,217.11 L60.40,219.27 L61.10,221.55 L61.80,223.91 L62.50,226.27 L63.20,228.60 L63.90,230.84 L64.60,232.93 L65.30,234.82 L66.00,236.48 L66.70,237.85 L67.40,238.92 L68.10,239.66 L68.80,240.04 L69.19,240.10 L69.50,240.06 L70.20,239.72 L70.90,239.01 L71.60,237.95 L72.30,236.58 L73.00,234.91 L73.70,233.00 L74.40,230.88 L75.10,228.60 L75.80,226.22 L76.50,223.79 L77.20,221.37 L77.90,219.01 L78.60,216.78 L79.30,214.71 L80.00,212.87 L80.70,211.29 L81.40,210.01 L82.10,209.06 L82.80,208.46 L83.50,208.23 L83.59,208.22 L84.20,208.37 L84.90,208.89 L85.60,209.77 L86.30,211.00 L87.00,212.55 L87.70,214.37 L88.40,216.44 L89.10,218.69 L89.80,221.08 L90.50,223.55 L91.20,226.05 L91.90,228.51 L92.60,230.88 L93.30,233.10 L94.00,235.12 L94.70,236.90 L95.40,238.39 L96.10,239.56 L96.80,240.38 L97.50,240.84 L97.98,240.93 L98.20,240.91 L98.90,240.61 L99.60,239.95 L100.30,238.94 L101.00,237.60 L101.70,235.97 L102.40,234.08 L103.10,231.99 L103.80,229.73 L104.50,227.35 L105.20,224.93 L105.90,222.50 L106.60,220.14 L107.30,217.88 L108.00,215.80 L108.70,213.92 L109.40,212.31 L110.10,210.98 L110.80,209.99 L111.50,209.35 L112.20,209.06 L112.38,209.05 L112.90,209.15 L113.60,209.61 L114.30,210.43 L115.00,211.59 L115.70,213.06 L116.40,214.80 L117.10,216.79 L117.80,218.96 L118.50,221.28 L119.20,223.68 L119.90,226.11 L120.60,228.52 L121.30,230.84 L122.00,233.03 L122.70,235.03 L123.40,236.80 L124.10,238.29 L124.80,239.47 L125.50,240.31 L126.20,240.80 L126.78,240.93 L126.90,240.92 L127.60,240.67 L128.30,240.05 L129.00,239.08 L129.70,237.79 L130.40,236.19 L131.10,234.34 L131.80,232.27 L132.50,230.02 L133.20,227.66 L133.90,225.24 L134.60,222.81 L135.30,220.44 L136.00,218.17 L136.70,216.05 L137.40,214.15 L138.10,212.50 L138.80,211.14 L139.50,210.10 L140.20,209.41 L140.90,209.08 L141.17,209.05 L141.60,209.12 L142.30,209.53 L143.00,210.31 L143.70,211.42 L144.40,212.85 L145.10,214.56 L145.80,216.52 L146.50,218.67 L147.20,220.97 L147.90,223.37 L148.60,225.80 L149.30,228.21 L150.00,230.55 L150.70,232.76 L151.40,234.78 L152.10,236.58 L152.80,238.11 L153.50,239.34 L154.20,240.22 L154.90,240.76 L155.56,240.93 L155.60,240.93 L156.30,240.72 L157.00,240.15 L157.70,239.23 L158.40,237.97 L159.10,236.41 L159.80,234.59 L160.50,232.54 L161.20,230.32 L161.90,227.97 L162.60,225.55 L163.30,223.12 L164.00,220.74 L164.70,218.45 L165.40,216.31 L166.10,214.38 L166.80,212.69 L167.50,211.29 L168.20,210.21 L168.90,209.48 L169.60,209.10 L169.96,209.05 L170.30,209.10 L171.00,209.46 L171.70,210.19 L172.40,211.26 L173.10,212.65 L173.80,214.33 L174.50,216.26 L175.20,218.39 L175.90,220.67 L176.60,223.05 L177.30,225.48 L178.00,227.90 L178.70,230.25 L179.40,232.48 L180.10,234.53 L180.80,236.37 L181.50,237.93 L182.20,239.20 L182.90,240.13 L183.60,240.71 L184.30,240.93 L184.35,240.93 L185.00,240.77 L185.70,240.24 L186.40,239.37 L187.10,238.15 L187.80,236.63 L188.50,234.84 L189.20,232.82 L189.90,230.61 L190.60,228.28 L191.30,225.87 L192.00,223.44 L192.70,221.04 L193.40,218.74 L194.10,216.58 L194.80,214.62 L195.50,212.90 L196.20,211.46 L196.90,210.33 L197.60,209.55 L198.30,209.13 L198.75,209.05 L199.00,209.08 L199.70,209.41 L200.40,210.11 L201.10,211.18 L201.80,212.58 L202.50,214.29 L203.20,216.26 L203.90,218.45 L204.60,220.80 L205.30,223.27 L206.00,225.79 L206.70,228.31 L207.40,230.76 L208.10,233.09 L208.80,235.25 L209.50,237.18 L210.20,238.85 L210.90,240.20 L211.60,241.22 L212.30,241.87 L213.00,242.14 L213.15,242.15 L213.70,242.02 L214.40,241.52 L215.10,240.63 L215.80,239.38 L216.50,237.80 L217.20,235.93 L217.90,233.81 L218.60,231.48 L219.30,229.01 L220.00,226.45 L220.70,223.86 L221.40,221.31 L222.10,218.84 L222.80,216.52 L223.50,214.40 L224.20,212.53 L224.90,210.96 L225.60,209.72 L226.30,208.84 L227.00,208.34 L227.54,208.22 L227.70,208.23 L228.40,208.52 L229.10,209.20 L229.80,210.25 L230.50,211.64 L231.20,213.35 L231.90,215.34 L232.60,217.56 L233.30,219.95 L234.00,222.47 L234.70,225.05 L235.40,227.63 L236.10,230.16 L236.80,232.57 L237.50,234.80 L238.20,236.82 L238.90,238.56 L239.60,239.99 L240.30,241.08 L241.00,241.80 L241.70,242.13 L241.94,242.15 L242.40,242.06 L243.10,241.62 L243.80,240.80 L244.50,239.62 L245.20,238.12 L245.90,236.33 L246.60,234.29 L247.30,232.04 L248.00,229.65 L248.70,227.16 L249.40,224.63 L250.10,222.13 L250.80,219.71 L251.50,217.43 L252.20,215.33 L252.90,213.48 L253.60,211.90 L254.30,210.65 L255.00,209.74 L255.70,209.21 L256.33,209.05 L256.40,209.05 L257.10,209.29 L257.80,209.90 L258.50,210.87 L259.20,212.19 L259.90,213.83 L260.60,215.73 L261.30,217.87 L262.00,220.19 L262.70,222.63 L263.40,225.14 L264.10,227.66 L264.80,230.14 L265.50,232.51 L266.20,234.71 L266.90,236.71 L267.60,238.45 L268.30,239.88 L269.00,240.99 L269.70,241.74 L270.40,242.11 L270.73,242.15 L271.10,242.09 L271.80,241.69 L272.50,240.92 L273.20,239.79 L273.90,238.33 L274.60,236.57 L275.30,234.56 L276.00,232.34 L276.70,229.96 L277.40,227.48 L278.10,224.96 L278.80,222.45 L279.50,220.01 L280.20,217.71 L280.90,215.59 L281.60,213.70 L282.30,212.09 L283.00,210.79 L283.70,209.84 L284.40,209.26 L285.10,209.05 L285.12,209.05 L285.80,209.23 L286.50,209.80 L287.20,210.73 L287.90,212.01 L288.60,213.60 L289.30,215.47 L290.00,217.58 L290.70,219.88 L291.40,222.31 L292.10,224.81 L292.80,227.34 L293.50,229.82 L294.20,232.21 L294.90,234.44 L295.60,236.47 L296.30,238.24 L297.00,239.72 L297.70,240.87 L298.40,241.66 L299.10,242.08 L299.51,242.15 L299.80,242.12 L300.50,241.77 L301.20,241.04 L301.90,239.96 L302.60,238.54 L303.30,236.82 L304.00,234.83 L304.70,232.64 L305.40,230.28 L306.10,227.81 L306.80,225.28 L307.50,222.77 L308.20,220.32 L308.90,218.00 L309.60,215.85 L310.30,213.93 L311.00,212.28 L311.70,210.94 L312.40,209.94 L313.10,209.31 L313.80,209.06 L313.91,209.05 L314.50,209.20 L315.20,209.74 L315.90,210.67 L316.60,211.96 L317.30,213.59 L318.00,215.53 L318.70,217.71 L319.40,220.10 L320.10,222.64 L320.80,225.26 L321.50,227.91 L322.20,230.53 L322.90,233.05 L323.60,235.42 L324.30,237.58 L325.00,239.48 L325.70,241.07 L326.40,242.32 L327.10,243.21 L327.80,243.70 L328.31,243.80 L328.50,243.79 L329.20,243.50 L329.90,242.84 L330.60,241.82 L331.30,240.48 L332.00,238.84 L332.70,236.93 L333.40,234.81 L334.10,232.53 L334.80,230.13 L335.50,227.68 L336.20,225.22 L336.90,222.82 L337.60,220.54 L338.30,218.42 L339.00,216.51 L339.70,214.87 L340.40,213.52 L341.10,212.51 L341.80,211.84 L342.50,211.55 L342.70,211.53 L343.20,211.63 L343.90,212.07 L344.60,212.87 L345.30,214.00 L346.00,215.44 L346.70,217.15 L347.40,219.10 L348.10,221.24 L348.80,223.53 L349.50,225.89 L350.20,228.29 L350.90,230.67 L351.60,232.96 L352.30,235.13 L353.00,237.10 L353.70,238.85 L354.40,240.33 L355.10,241.51 L355.80,242.35 L356.50,242.84 L357.10,242.98 L357.20,242.97 L357.90,242.72 L358.60,242.09 L359.30,241.10 L360.00,239.76 L360.70,238.11 L361.40,236.19 L362.10,234.05 L362.80,231.72 L363.50,229.28 L364.20,226.76 L364.90,224.24 L365.60,221.77 L366.30,219.41 L367.00,217.21 L367.70,215.22 L368.40,213.50 L369.10,212.08 L369.80,210.99 L370.50,210.26 L371.20,209.91 L371.49,209.88 L371.90,209.94 L372.60,210.35 L373.30,211.12 L374.00,212.24 L374.70,213.68 L375.40,215.41 L376.10,217.38 L376.80,219.55 L377.50,221.88 L378.20,224.30 L378.90,226.76 L379.60,229.21 L380.30,231.58 L381.00,233.82 L381.70,235.87 L382.40,237.70 L383.10,239.26 L383.80,240.51 L384.50,241.42 L385.20,241.97 L385.88,242.15 L385.90,242.15 L386.60,241.95 L387.30,241.37 L388.00,240.42 L388.70,239.12 L389.40,237.51 L390.10,235.63 L390.80,233.51 L391.50,231.20 L392.20,228.77 L392.90,226.26 L393.60,223.74 L394.30,221.25 L395.00,218.88 L395.70,216.65 L396.40,214.64 L397.10,212.88 L397.80,211.42 L398.50,210.29 L399.20,209.51 L399.90,209.11 L400.28,209.05 L400.60,209.09 L401.30,209.46 L402.00,210.20 L402.70,211.31 L403.40,212.74 L404.10,214.48 L404.80,216.47 L405.50,218.68 L406.20,221.05 L406.90,223.52 L407.60,226.04 L408.30,228.55 L409.00,231.00 L409.70,233.32 L410.40,235.45 L411.10,237.36 L411.80,239.00 L412.50,240.32 L413.20,241.30 L413.90,241.91 L414.60,242.15 L414.68,242.15 L415.30,241.99 L416.00,241.46 L416.70,240.56 L417.40,239.31 L418.10,237.74 L418.80,235.88 L419.50,233.79 L420.20,231.51 L420.90,229.09 L421.60,226.58 L422.30,224.06 L423.00,221.57 L423.70,219.17 L424.40,216.93 L425.10,214.88 L425.80,213.09 L426.50,211.59 L427.20,210.41 L427.90,209.59 L428.60,209.14 L429.07,209.05 L429.30,209.07 L430.00,209.39 L430.70,210.09 L431.40,211.15 L432.10,212.54 L432.80,214.24 L433.50,216.20 L434.20,218.38 L434.90,220.73 L435.60,223.20 L436.30,225.72 L437.00,228.23 L437.70,230.69 L438.40,233.03 L439.10,235.19 L439.80,237.13 L440.50,238.80 L441.20,240.17 L441.90,241.19 L442.60,241.85 L443.30,242.14 L443.46,242.15 L444.00,242.04 L444.70,241.55 L445.40,240.69 L446.10,239.49 L446.80,237.95 L447.50,236.14 L448.20,234.07 L448.90,231.81 L449.60,229.40 L450.30,226.91 L451.00,224.38 L451.70,221.89 L452.40,219.47 L453.10,217.21 L453.80,215.13 L454.50,213.31 L455.20,211.76 L455.90,210.54 L456.60,209.67 L457.30,209.18 L457.86,209.05 L458.00,209.06 L458.70,209.34 L459.40,210.00 L460.10,211.04 L460.80,212.43 L461.50,214.13 L462.20,216.11 L462.90,218.32 L463.60,220.71 L464.30,223.22 L465.00,225.80 L465.70,228.38 L466.40,230.91 L467.10,233.33 L467.80,235.57 L468.50,237.59 L469.20,239.34 L469.90,240.78 L470.60,241.88 L471.30,242.61 L472.00,242.95 L472.25,242.98 L472.70,242.90 L473.40,242.45 L474.10,241.62 L474.80,240.43 L475.50,238.90 L476.20,237.07 L476.90,234.98 L477.60,232.69 L478.30,230.24 L479.00,227.69 L479.70,225.10 L480.40,222.53 L481.10,220.05 L481.80,217.70 L482.50,215.55 L483.20,213.64 L483.90,212.02 L484.60,210.72 L485.30,209.78 L486.00,209.22 L486.65,209.05 L486.70,209.05 L487.40,209.27 L488.10,209.87 L488.80,210.84 L489.50,212.15 L490.20,213.77 L490.90,215.67 L491.60,217.80 L492.30,220.12 L493.00,222.56 L493.70,225.07 L494.40,227.59 L495.10,230.07 L495.80,232.44 L496.50,234.65 L497.20,236.66 L497.90,238.40 L498.60,239.85 L499.30,240.96 L500.00,241.72 L500.70,242.10 L501.05,242.15 L501.40,242.10 L502.10,241.72 L502.80,240.96 L503.50,239.86 L504.20,238.43 L504.90,236.70 L505.60,234.72 L506.30,232.53 L507.00,230.19 L507.70,227.75 L508.40,225.26 L509.10,222.78 L509.80,220.37 L510.50,218.09 L511.20,215.99 L511.90,214.12 L512.60,212.52 L513.30,211.23 L514.00,210.29 L514.70,209.70 L515.40,209.49 L515.44,209.49 L516.10,209.65 L516.80,210.20 L517.50,211.11 L518.20,212.36 L518.90,213.92 L519.60,215.77 L520.30,217.84 L521.00,220.10 L521.70,222.50 L522.40,224.97 L523.10,227.46 L523.80,229.92 L524.50,232.27 L525.20,234.48 L525.90,236.49 L526.60,238.24 L527.30,239.71 L528.00,240.86 L528.70,241.65 L529.40,242.07 L529.84,242.15 L530.10,242.12 L530.80,241.79 L531.50,241.08 L532.20,240.02 L532.90,238.63 L533.60,236.94 L534.30,234.99 L535.00,232.83 L535.70,230.50 L536.40,228.06 L537.10,225.58 L537.80,223.09 L538.40,221.01" stroke="#ff00ff" stroke-width="2.0" stroke-dasharray="2 1.75"/>
<path d="M54.80,206.96 L55.50,207.16 L56.20,207.73 L56.90,208.67 L57.60,209.96 L58.30,211.57 L59.00,213.45 L59.70,215.57 L60.40,217.87 L61.10,220.31 L61.80,222.82 L62.50,225.34 L63.20,227.83 L63.90,230.21 L64.60,232.44 L65.30,234.47 L66.00,236.23 L66.70,237.70 L67.40,238.84 L68.10,239.63 L68.80,240.04 L69.19,240.10 L69.50,240.06 L70.20,239.72 L70.90,239.01 L71.60,237.95 L72.30,236.58 L73.00,234.91 L73.70,233.00 L74.40,230.88 L75.10,228.60 L75.80,226.22 L76.50,223.79 L77.20,221.37 L77.90,219.01 L78.60,216.78 L79.30,214.71 L80.00,212.87 L80.70,211.29 L81.40,210.01 L82.10,209.06 L82.80,208.46 L83.50,208.23 L83.59,208.22 L84.20,208.37 L84.90,208.87 L85.60,209.73 L86.30,210.93 L87.00,212.44 L87.70,214.22 L88.40,216.23 L89.10,218.42 L89.80,220.75 L90.50,223.16 L91.20,225.59 L91.90,227.99 L92.60,230.30 L93.30,232.47 L94.00,234.44 L94.70,236.18 L95.40,237.63 L96.10,238.77 L96.80,239.57 L97.50,240.01 L97.98,240.10 L98.20,240.09 L98.90,239.85 L99.60,239.34 L100.30,238.55 L101.00,237.51 L101.70,236.24 L102.40,234.77 L103.10,233.14 L103.80,231.38 L104.50,229.53 L105.20,227.64 L105.90,225.75 L106.60,223.91 L107.30,222.15 L108.00,220.53 L108.70,219.07 L109.40,217.81 L110.10,216.78 L110.80,216.01 L111.50,215.51 L112.20,215.29 L112.38,215.28 L112.90,215.32 L113.60,215.53 L114.30,215.90 L115.00,216.43 L115.70,217.09 L116.40,217.89 L117.10,218.79 L117.80,219.77 L118.50,220.82 L119.20,221.91 L119.90,223.02 L120.60,224.11 L121.30,225.16 L122.00,226.15 L122.70,227.06 L123.40,227.86 L124.10,228.54 L124.80,229.08 L125.50,229.46 L126.20,229.68 L126.78,229.74 L126.90,229.74 L127.60,229.67 L128.30,229.52 L129.00,229.28 L129.70,228.96 L130.40,228.57 L131.10,228.11 L131.80,227.60 L132.50,227.04 L133.20,226.46 L133.90,225.86 L134.60,225.26 L135.30,224.67 L136.00,224.11 L136.70,223.59 L137.40,223.12 L138.10,222.71 L138.80,222.37 L139.50,222.12 L140.20,221.94 L140.90,221.86 L141.17,221.86 L141.60,221.87 L142.30,221.95 L143.00,222.09 L143.70,222.29 L144.40,222.55 L145.10,222.87 L145.80,223.22 L146.50,223.62 L147.20,224.04 L147.90,224.48 L148.60,224.92 L149.30,225.36 L150.00,225.79 L150.70,226.19 L151.40,226.56 L152.10,226.89 L152.80,227.17 L153.50,227.40 L154.20,227.56 L154.90,227.66 L155.56,227.69 L155.60,227.69 L156.30,227.65 L157.00,227.54 L157.70,227.36 L158.40,227.11 L159.10,226.81 L159.80,226.45 L160.50,226.05 L161.20,225.62 L161.90,225.16 L162.60,224.69 L163.30,224.21 L164.00,223.75 L164.70,223.30 L165.40,222.88 L166.10,222.50 L166.80,222.17 L167.50,221.90 L168.20,221.69 L168.90,221.55 L169.60,221.47 L169.96,221.46 L170.30,221.49 L171.00,221.76 L171.70,222.27 L172.40,223.04 L173.10,224.03 L173.80,225.23 L174.50,226.61 L175.20,228.13 L175.90,229.76 L176.60,231.47 L177.30,233.20 L178.00,234.93 L178.70,236.61 L179.40,238.20 L180.10,239.67 L180.80,240.98 L181.50,242.10 L182.20,243.00 L182.90,243.67 L183.60,244.08 L184.30,244.24 L184.35,244.24 L185.00,244.06 L185.70,243.47 L186.40,242.47 L187.10,241.10 L187.80,239.38 L188.50,237.36 L189.20,235.07 L189.90,232.58 L190.60,229.95 L191.30,227.22 L192.00,224.47 L192.70,221.77 L193.40,219.17 L194.10,216.73 L194.80,214.51 L195.50,212.57 L196.20,210.94 L196.90,209.67 L197.60,208.79 L198.30,208.31 L198.75,208.22 L199.00,208.25 L199.70,208.62 L200.40,209.42 L201.10,210.62 L201.80,212.20 L202.50,214.12 L203.20,216.34 L203.90,218.80 L204.60,221.44 L205.30,224.22 L206.00,227.05 L206.70,229.88 L207.40,232.64 L208.10,235.27 L208.80,237.70 L209.50,239.87 L210.20,241.74 L210.90,243.27 L211.60,244.41 L212.30,245.14 L213.00,245.45 L213.15,245.46 L213.70,245.31 L214.40,244.71 L215.10,243.66 L215.80,242.18 L216.50,240.31 L217.20,238.10 L217.90,235.58 L218.60,232.83 L219.30,229.91 L220.00,226.88 L220.70,223.82 L221.40,220.79 L222.10,217.87 L222.80,215.13 L223.50,212.62 L224.20,210.41 L224.90,208.55 L225.60,207.08 L226.30,206.04 L227.00,205.45 L227.54,205.31 L227.70,205.32 L228.40,205.65 L229.10,206.44 L229.80,207.65 L230.50,209.27 L231.20,211.25 L231.90,213.56 L232.60,216.13 L233.30,218.90 L234.00,221.82 L234.70,224.81 L235.40,227.80 L236.10,230.73 L236.80,233.52 L237.50,236.12 L238.20,238.45 L238.90,240.47 L239.60,242.13 L240.30,243.39 L241.00,244.22 L241.70,244.60 L241.94,244.63 L242.40,244.55 L243.10,244.10 L243.80,243.28 L244.50,242.10 L245.20,240.60 L245.90,238.81 L246.60,236.77 L247.30,234.53 L248.00,232.13 L248.70,229.64 L249.40,227.12 L250.10,224.61 L250.80,222.19 L251.50,219.91 L252.20,217.81 L252.90,215.96 L253.60,214.39 L254.30,213.13 L255.00,212.23 L255.70,211.69 L256.33,211.53 L256.40,211.54 L257.10,211.75 L257.80,212.32 L258.50,213.22 L259.20,214.44 L259.90,215.95 L260.60,217.71 L261.30,219.69 L262.00,221.83 L262.70,224.09 L263.40,226.42 L264.10,228.75 L264.80,231.04 L265.50,233.23 L266.20,235.27 L266.90,237.12 L267.60,238.72 L268.30,240.05 L269.00,241.08 L269.70,241.77 L270.40,242.11 L270.73,242.15 L271.10,242.10 L271.80,241.79 L272.50,241.18 L273.20,240.29 L273.90,239.14 L274.60,237.76 L275.30,236.17 L276.00,234.42 L276.70,232.54 L277.40,230.59 L278.10,228.60 L278.80,226.62 L279.50,224.70 L280.20,222.89 L280.90,221.22 L281.60,219.73 L282.30,218.46 L283.00,217.44 L283.70,216.69 L284.40,216.23 L285.10,216.07 L285.12,216.07 L285.80,216.15 L286.50,216.43 L287.20,216.88 L287.90,217.51 L288.60,218.28 L289.30,219.20 L290.00,220.23 L290.70,221.35 L291.40,222.54 L292.10,223.76 L292.80,224.99 L293.50,226.20 L294.20,227.37 L294.90,228.46 L295.60,229.45 L296.30,230.31 L297.00,231.03 L297.70,231.59 L298.40,231.98 L299.10,232.19 L299.51,232.22 L299.80,232.21 L300.50,232.09 L301.20,231.83 L301.90,231.45 L302.60,230.96 L303.30,230.35 L304.00,229.66 L304.70,228.89 L305.40,228.06 L306.10,227.20 L306.80,226.32 L307.50,225.44 L308.20,224.58 L308.90,223.77 L309.60,223.01 L310.30,222.34 L311.00,221.76 L311.70,221.30 L312.40,220.95 L313.10,220.73 L313.80,220.64 L313.91,220.64 L314.50,220.68 L315.20,220.82 L315.90,221.08 L316.60,221.43 L317.30,221.88 L318.00,222.41 L318.70,223.01 L319.40,223.67 L320.10,224.36 L320.80,225.08 L321.50,225.81 L322.20,226.53 L322.90,227.22 L323.60,227.87 L324.30,228.46 L325.00,228.98 L325.70,229.42 L326.40,229.76 L327.10,230.01 L327.80,230.14 L328.31,230.17 L328.50,230.17 L329.20,230.07 L329.90,229.85 L330.60,229.51 L331.30,229.06 L332.00,228.51 L332.70,227.87 L333.40,227.16 L334.10,226.40 L334.80,225.60 L335.50,224.78 L336.20,223.95 L336.90,223.15 L337.60,222.39 L338.30,221.68 L339.00,221.04 L339.70,220.49 L340.40,220.04 L341.10,219.70 L341.80,219.48 L342.50,219.38 L342.70,219.37 L343.20,219.42 L343.90,219.66 L344.60,220.08 L345.30,220.67 L346.00,221.43 L346.70,222.33 L347.40,223.36 L348.10,224.49 L348.80,225.69 L349.50,226.93 L350.20,228.19 L350.90,229.44 L351.60,230.65 L352.30,231.79 L353.00,232.83 L353.70,233.75 L354.40,234.53 L355.10,235.15 L355.80,235.59 L356.50,235.85 L357.10,235.92 L357.20,235.92 L357.90,235.69 L358.60,235.13 L359.30,234.23 L360.00,233.03 L360.70,231.55 L361.40,229.82 L362.10,227.89 L362.80,225.80 L363.50,223.59 L364.20,221.33 L364.90,219.06 L365.60,216.84 L366.30,214.71 L367.00,212.73 L367.70,210.95 L368.40,209.40 L369.10,208.12 L369.80,207.14 L370.50,206.48 L371.20,206.17 L371.49,206.14 L371.90,206.21 L372.60,206.69 L373.30,207.59 L374.00,208.89 L374.70,210.57 L375.40,212.59 L376.10,214.89 L376.80,217.43 L377.50,220.14 L378.20,222.97 L378.90,225.84 L379.60,228.70 L380.30,231.46 L381.00,234.08 L381.70,236.48 L382.40,238.61 L383.10,240.43 L383.80,241.89 L384.50,242.95 L385.20,243.59 L385.88,243.80 L385.90,243.80 L386.60,243.58 L387.30,242.92 L388.00,241.85 L388.70,240.40 L389.40,238.59 L390.10,236.47 L390.80,234.08 L391.50,231.49 L392.20,228.75 L392.90,225.93 L393.60,223.09 L394.30,220.30 L395.00,217.62 L395.70,215.12 L396.40,212.85 L397.10,210.88 L397.80,209.23 L398.50,207.96 L399.20,207.08 L399.90,206.63 L400.28,206.57 L400.60,206.62 L401.30,207.03 L402.00,207.87 L402.70,209.11 L403.40,210.72 L404.10,212.67 L404.80,214.92 L405.50,217.40 L406.20,220.06 L406.90,222.85 L407.60,225.68 L408.30,228.51 L409.00,231.26 L409.70,233.87 L410.40,236.27 L411.10,238.42 L411.80,240.26 L412.50,241.74 L413.20,242.85 L413.90,243.54 L414.60,243.80 L414.68,243.80 L415.30,243.64 L416.00,243.08 L416.70,242.13 L417.40,240.82 L418.10,239.17 L418.80,237.22 L419.50,235.03 L420.20,232.63 L420.90,230.09 L421.60,227.46 L422.30,224.81 L423.00,222.19 L423.70,219.68 L424.40,217.32 L425.10,215.18 L425.80,213.29 L426.50,211.71 L427.20,210.48 L427.90,209.62 L428.60,209.14 L429.07,209.05 L429.30,209.07 L430.00,209.33 L430.70,209.89 L431.40,210.75 L432.10,211.88 L432.80,213.26 L433.50,214.86 L434.20,216.63 L434.90,218.54 L435.60,220.54 L436.30,222.58 L437.00,224.63 L437.70,226.62 L438.40,228.52 L439.10,230.27 L439.80,231.85 L440.50,233.21 L441.20,234.31 L441.90,235.15 L442.60,235.68 L443.30,235.91 L443.46,235.92 L444.00,235.86 L444.70,235.59 L445.40,235.12 L446.10,234.46 L446.80,233.62 L447.50,232.62 L448.20,231.49 L448.90,230.25 L449.60,228.93 L450.30,227.56 L451.00,226.17 L451.70,224.80 L452.40,223.48 L453.10,222.23 L453.80,221.10 L454.50,220.09 L455.20,219.25 L455.90,218.58 L456.60,218.10 L457.30,217.83 L457.86,217.76 L458.00,217.76 L458.70,217.86 L459.40,218.08 L460.10,218.44 L460.80,218.91 L461.50,219.49 L462.20,220.17 L462.90,220.92 L463.60,221.74 L464.30,222.60 L465.00,223.48 L465.70,224.36 L466.40,225.22 L467.10,226.05 L467.80,226.81 L468.50,227.50 L469.20,228.10 L469.90,228.59 L470.60,228.97 L471.30,229.22 L472.00,229.33 L472.25,229.34 L472.70,229.32 L473.40,229.18 L474.10,228.91 L474.80,228.53 L475.50,228.05 L476.20,227.47 L476.90,226.81 L477.60,226.08 L478.30,225.30 L479.00,224.50 L479.70,223.67 L480.40,222.86 L481.10,222.07 L481.80,221.33 L482.50,220.65 L483.20,220.04 L483.90,219.53 L484.60,219.12 L485.30,218.82 L486.00,218.64 L486.65,218.59 L486.70,218.59 L487.40,218.70 L488.10,219.00 L488.80,219.48 L489.50,220.14 L490.20,220.95 L490.90,221.90 L491.60,222.96 L492.30,224.12 L493.00,225.34 L493.70,226.59 L494.40,227.86 L495.10,229.09 L495.80,230.28 L496.50,231.39 L497.20,232.39 L497.90,233.26 L498.60,233.98 L499.30,234.54 L500.00,234.92 L500.70,235.11 L501.05,235.13 L501.40,235.10 L502.10,234.82 L502.80,234.28 L503.50,233.48 L504.20,232.45 L504.90,231.20 L505.60,229.77 L506.30,228.19 L507.00,226.50 L507.70,224.73 L508.40,222.93 L509.10,221.14 L509.80,219.40 L510.50,217.75 L511.20,216.24 L511.90,214.88 L512.60,213.73 L513.30,212.80 L514.00,212.11 L514.70,211.69 L515.40,211.53 L515.44,211.53 L516.10,211.64 L516.80,211.98 L517.50,212.54 L518.20,213.32 L518.90,214.29 L519.60,215.44 L520.30,216.73 L521.00,218.13 L521.70,219.62 L522.40,221.15 L523.10,222.70 L523.80,224.23 L524.50,225.69 L525.20,227.06 L525.90,228.31 L526.60,229.40 L527.30,230.31 L528.00,231.02 L528.70,231.52 L529.40,231.78 L529.84,231.83 L530.10,231.81 L530.80,231.60 L531.50,231.16 L532.20,230.50 L532.90,229.64 L533.60,228.59 L534.30,227.38 L535.00,226.03 L535.70,224.59 L536.40,223.08 L537.10,221.53 L537.80,219.99 L538.40,218.70" stroke="#0000ff" stroke-width="2.0" stroke-dasharray="2 1.75"/>
</g>
<g stroke="#8f8f8f" stroke-width="1" fill="none">
<path d="M54.8,28.5 H538.4 V344 H54.8 Z"/>
</g>
<g stroke="#5a5a5a" stroke-width="1" fill="none"><line x1="54.80" y1="344" x2="54.80" y2="339.2"/><line x1="54.80" y1="28.5" x2="54.80" y2="33.3"/><line x1="135.40" y1="344" x2="135.40" y2="339.2"/><line x1="135.40" y1="28.5" x2="135.40" y2="33.3"/><line x1="216.00" y1="344" x2="216.00" y2="339.2"/><line x1="216.00" y1="28.5" x2="216.00" y2="33.3"/><line x1="296.60" y1="344" x2="296.60" y2="339.2"/><line x1="296.60" y1="28.5" x2="296.60" y2="33.3"/><line x1="377.20" y1="344" x2="377.20" y2="339.2"/><line x1="377.20" y1="28.5" x2="377.20" y2="33.3"/><line x1="457.80" y1="344" x2="457.80" y2="339.2"/><line x1="457.80" y1="28.5" x2="457.80" y2="33.3"/><line x1="538.40" y1="344" x2="538.40" y2="339.2"/><line x1="538.40" y1="28.5" x2="538.40" y2="33.3"/><line x1="54.8" y1="343.80" x2="59.6" y2="343.80"/><line x1="538.4" y1="343.80" x2="533.6" y2="343.80"/><line x1="54.8" y1="304.40" x2="59.6" y2="304.40"/><line x1="538.4" y1="304.40" x2="533.6" y2="304.40"/><line x1="54.8" y1="265.00" x2="59.6" y2="265.00"/><line x1="538.4" y1="265.00" x2="533.6" y2="265.00"/><line x1="54.8" y1="225.60" x2="59.6" y2="225.60"/><line x1="538.4" y1="225.60" x2="533.6" y2="225.60"/><line x1="54.8" y1="186.20" x2="59.6" y2="186.20"/><line x1="538.4" y1="186.20" x2="533.6" y2="186.20"/><line x1="54.8" y1="146.80" x2="59.6" y2="146.80"/><line x1="538.4" y1="146.80" x2="533.6" y2="146.80"/><line x1="54.8" y1="107.40" x2="59.6" y2="107.40"/><line x1="538.4" y1="107.40" x2="533.6" y2="107.40"/><line x1="54.8" y1="68.00" x2="59.6" y2="68.00"/><line x1="538.4" y1="68.00" x2="533.6" y2="68.00"/><line x1="54.8" y1="28.60" x2="59.6" y2="28.60"/><line x1="538.4" y1="28.60" x2="533.6" y2="28.60"/></g>
<g font-size="14"><text x="49" y="349.80" text-anchor="end">-30</text><text x="49" y="310.40" text-anchor="end">-20</text><text x="49" y="271.00" text-anchor="end">-10</text><text x="49" y="231.60" text-anchor="end">0</text><text x="49" y="192.20" text-anchor="end">10</text><text x="49" y="152.80" text-anchor="end">20</text><text x="49" y="113.40" text-anchor="end">30</text><text x="49" y="74.00" text-anchor="end">40</text><text x="49" y="34.60" text-anchor="end">50</text><text x="54.80" y="363" text-anchor="middle">0</text><text x="135.40" y="363" text-anchor="middle">1</text><text x="216.00" y="363" text-anchor="middle">2</text><text x="296.60" y="363" text-anchor="middle">3</text><text x="377.20" y="363" text-anchor="middle">4</text><text x="457.80" y="363" text-anchor="middle">5</text><text x="538.40" y="363" text-anchor="middle">6</text></g>
<text x="296.6" y="23" font-size="15" text-anchor="middle" stroke="#262626" stroke-width="0.3">Maximum voltage waveform between the first ends of adjacent pies</text>
<text y="381.4" font-size="14.5" stroke="#262626" stroke-width="0.2"><tspan x="258.2">Time</tspan><tspan x="286.5" fill="#777" stroke="#777">（</tspan><tspan x="306">s</tspan><tspan x="317.5" fill="#777" stroke="#777">）</tspan></text>
<text transform="translate(22.8,236.8) rotate(-90)" font-size="14.5" stroke="#262626" stroke-width="0.2"><tspan x="0">Voltage</tspan><tspan x="50.5" fill="#777" stroke="#777">（</tspan><tspan x="65.7">kV</tspan><tspan x="85.2" fill="#777" stroke="#777">）</tspan></text>
<text y="384.2" font-size="13.6"><tspan x="503.6" fill="#666">×</tspan><tspan x="512.3">10</tspan></text><text x="528.6" y="378.1" font-size="10.5">-6</text>
<rect x="111.5" y="30.5" width="425" height="83" fill="#fff" stroke="#8f8f8f" stroke-width="1"/>
<rect x="111" y="29" width="426" height="1" fill="#a8a8a8"/>
<line x1="113.6" y1="39.4" x2="145.29999999999998" y2="39.4" stroke="#ff0000" stroke-width="2"/>
<text x="148.9" y="45.0" font-size="12" xml:space="preserve" stroke="#262626" stroke-width="0.15">Thread  cake 1-2</text>
<line x1="113.6" y1="55.8" x2="145.29999999999998" y2="55.8" stroke="#ff00ff" stroke-width="2"/>
<text x="148.9" y="61.4" font-size="12" xml:space="preserve" stroke="#262626" stroke-width="0.15">Thread  cake 2-3</text>
<line x1="113.6" y1="72.2" x2="145.29999999999998" y2="72.2" stroke="#0000ff" stroke-width="2"/>
<text x="148.9" y="77.8" font-size="12" xml:space="preserve" stroke="#262626" stroke-width="0.15">Thread  cake 3-4</text>
<line x1="113.6" y1="88.5" x2="145.29999999999998" y2="88.5" stroke="#000000" stroke-width="2"/>
<text x="148.9" y="94.1" font-size="12" xml:space="preserve" stroke="#262626" stroke-width="0.15">Thread  cake 4-5</text>
<line x1="113.6" y1="104.7" x2="145.29999999999998" y2="104.7" stroke="#00ff00" stroke-width="2"/>
<text x="148.9" y="110.3" font-size="12" xml:space="preserve" stroke="#262626" stroke-width="0.15">Thread  cake 5-6</text>
<line x1="246.8" y1="39.4" x2="278.0" y2="39.4" stroke="#ff0000" stroke-width="2" stroke-dasharray="7.6 7.45"/>
<text x="280.8" y="45.0" font-size="12" xml:space="preserve" stroke="#262626" stroke-width="0.15">Thread  cake 6-7</text>
<line x1="246.8" y1="55.8" x2="278.0" y2="55.8" stroke="#ff00ff" stroke-width="2" stroke-dasharray="7.6 7.45"/>
<text x="280.8" y="61.4" font-size="12" xml:space="preserve" stroke="#262626" stroke-width="0.15">Thread  cake 7-8</text>
<line x1="246.8" y1="72.2" x2="278.0" y2="72.2" stroke="#0000ff" stroke-width="2" stroke-dasharray="7.6 7.45"/>
<text x="280.8" y="77.8" font-size="12" xml:space="preserve" stroke="#262626" stroke-width="0.15">Thread  cake 8-9</text>
<line x1="246.8" y1="88.5" x2="278.0" y2="88.5" stroke="#000000" stroke-width="2" stroke-dasharray="7.6 7.45"/>
<text x="280.8" y="94.1" font-size="12" xml:space="preserve" stroke="#262626" stroke-width="0.15">Thread  cake 9-10</text>
<line x1="246.8" y1="104.7" x2="278.0" y2="104.7" stroke="#00ff00" stroke-width="2" stroke-dasharray="7.6 7.45"/>
<text x="280.8" y="110.3" font-size="12" xml:space="preserve" stroke="#262626" stroke-width="0.15">Thread  cake 10-11</text>
<line x1="393" y1="39.4" x2="424.7" y2="39.4" stroke="#ff0000" stroke-width="2" stroke-dasharray="2 1.75"/>
<text x="428.0" y="45.0" font-size="12" xml:space="preserve" stroke="#262626" stroke-width="0.15">Thread  cake 11-12</text>
<line x1="393" y1="55.8" x2="424.7" y2="55.8" stroke="#ff00ff" stroke-width="2" stroke-dasharray="2 1.75"/>
<text x="428.0" y="61.4" font-size="12" xml:space="preserve" stroke="#262626" stroke-width="0.15">Thread  cake 12-13</text>
<line x1="393" y1="72.2" x2="424.7" y2="72.2" stroke="#0000ff" stroke-width="2" stroke-dasharray="2 1.75"/>
<text x="428.0" y="77.8" font-size="12" xml:space="preserve" stroke="#262626" stroke-width="0.15">Thread  cake 13-14</text>
</svg>
</body></html>
